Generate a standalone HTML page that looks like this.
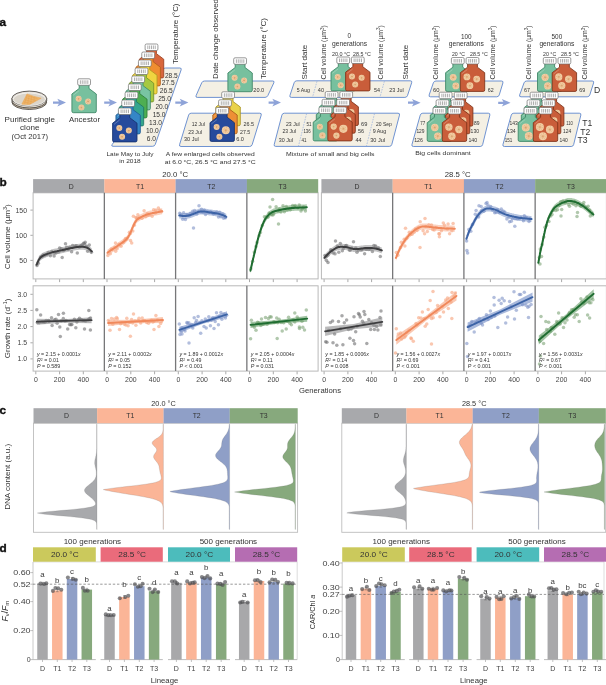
<!DOCTYPE html>
<html lang="en"><head><meta charset="utf-8"><title>Figure</title>
<style>
html,body{margin:0;padding:0;background:#fff;}
svg{display:block;font-family:"Liberation Sans", sans-serif;}
</style></head><body>
<svg width="606" height="685" viewBox="0 0 606 685">
<rect width="606" height="685" fill="#ffffff"/>
<text x="-0.40" y="25.85" font-size="11.8" text-anchor="start" fill="#111" font-weight="bold" stroke="#111" stroke-width="0.35">a</text>
<ellipse cx="29.3" cy="102.1" rx="17.4" ry="7.4" fill="#d2c1a9" stroke="#3f3b37" stroke-width="0.8"/>
<path d="M11.9,98.5 V100.6 A17.4,7.4 0 0 0 46.7,100.6 V98.5 Z" fill="#dad3c8" stroke="#3f3b37" stroke-width="0.8" stroke-linejoin="round"/>
<ellipse cx="29.3" cy="98.5" rx="17.4" ry="7.4" fill="#e4dfd7" stroke="#3f3b37" stroke-width="0.8"/>
<ellipse cx="29.3" cy="99.3" rx="16.2" ry="6.3" fill="#dbd5cb" stroke="#ffffff" stroke-width="0.6"/>
<path d="M27.0,93.9 L21.8,104.2 L29.5,104.6 L41.2,98.2 L33.5,96.2 Z" fill="#efae5a" fill-opacity="0.85" stroke="#eca650" stroke-width="0.5" stroke-linejoin="round"/>
<path d="M26.5,95.6 L37.5,98.6 M25.6,97.6 L36,100.6 M24.6,99.7 L33.6,102.3 M23.5,101.8 L31,103.6 M27.2,94.6 L24.5,103.8 M29.2,95.2 L27.6,104.2 M31.6,96 L30.8,103.6 M34.2,96.8 L34,102" stroke="#e5922f" stroke-width="0.35" fill="none" opacity="0.7"/>
<text x="29.80" y="121.63" font-size="7.3" text-anchor="middle" fill="#333333" textLength="50.5" lengthAdjust="spacingAndGlyphs" >Purified single</text>
<text x="29.80" y="130.43" font-size="7.3" text-anchor="middle" fill="#333333" textLength="19.5" lengthAdjust="spacingAndGlyphs" >clone</text>
<text x="29.80" y="139.03" font-size="7.3" text-anchor="middle" fill="#333333" textLength="36.5" lengthAdjust="spacingAndGlyphs" >(Oct 2017)</text>
<path d="M53.0,101.50 L58.9,101.50 L57.3,98.80 L66.0,102.60 L57.3,106.40 L58.9,103.70 L53.0,103.70 Z" fill="#8ea3d8"/>
<g transform="translate(84.10 79.00)">
<path d="M-4.9,5.5 L-4.9,9.5 L-12.2,15 L-12.2,32.2 Q-12.2,33.7 -10.7,33.7 L10.7,33.7 Q12.2,33.7 12.2,32.2 L12.2,15 L4.9,9.5 L4.9,5.5 Z" fill="#77c09e" stroke="#3b8463" stroke-width="0.85" stroke-linejoin="round"/>
<path d="M-10.8,16.2 L-5.2,11.8" stroke="#ffffff" stroke-opacity="0.35" stroke-width="0.7" fill="none"/>
</g>
<circle cx="78.60" cy="98.80" r="3" fill="#f2cda3"/>
<path d="M76.31,98.34 L80.89,99.26 M77.31,96.85 L79.89,100.75 M79.06,96.51 L78.14,101.09 M80.55,97.51 L76.65,100.09 " stroke="#d0925a" stroke-width="0.5" stroke-dasharray="0.9 0.35" fill="none"/>
<circle cx="78.60" cy="98.80" r="1.50" fill="none" stroke="#f2cda3" stroke-width="0.45"/>
<circle cx="88.10" cy="101.40" r="3" fill="#f2cda3"/>
<path d="M85.81,100.94 L90.39,101.86 M86.81,99.45 L89.39,103.35 M88.56,99.11 L87.64,103.69 M90.05,100.11 L86.15,102.69 " stroke="#d0925a" stroke-width="0.5" stroke-dasharray="0.9 0.35" fill="none"/>
<circle cx="88.10" cy="101.40" r="1.50" fill="none" stroke="#f2cda3" stroke-width="0.45"/>
<circle cx="81.40" cy="107.60" r="3" fill="#f2cda3"/>
<path d="M79.11,107.14 L83.69,108.06 M80.11,105.65 L82.69,109.55 M81.86,105.31 L80.94,109.89 M83.35,106.31 L79.45,108.89 " stroke="#d0925a" stroke-width="0.5" stroke-dasharray="0.9 0.35" fill="none"/>
<circle cx="81.40" cy="107.60" r="1.50" fill="none" stroke="#f2cda3" stroke-width="0.45"/>
<g transform="translate(84.10 79.00)">
<rect x="-6.4" y="-0.2" width="12.8" height="6.5" rx="1.4" fill="#ffffff" stroke="#6f6f6f" stroke-width="0.7"/>
<path d="M-3.7,1.3V4.9 M-1.85,1.3V4.9 M0,1.3V4.9 M1.85,1.3V4.9 M3.7,1.3V4.9" stroke="#808080" stroke-width="0.65" fill="none"/>
</g>
<text x="84.50" y="121.63" font-size="7.3" text-anchor="middle" fill="#333333" textLength="31.0" lengthAdjust="spacingAndGlyphs" >Ancestor</text>
<path d="M104.2,101.50 L109.9,101.50 L108.3,98.80 L117.0,102.60 L108.3,106.40 L109.9,103.70 L104.2,103.70 Z" fill="#8ea3d8"/>
<path d="M162.39,69.66 Q163.50,68.00 165.50,68.00 L179.80,68.00 Q181.80,68.00 181.14,69.89 L155.26,144.41 Q154.60,146.30 152.60,146.30 L113.00,146.30 Q111.00,146.30 112.11,144.64 Z" fill="#f4f0e4" stroke="#4b79c9" stroke-width="0.8"/>
<g transform="translate(151.52 44.20)">
<path d="M-4.9,5.5 L-4.9,9.5 L-12.2,15 L-12.2,32.2 Q-12.2,33.7 -10.7,33.7 L10.7,33.7 Q12.2,33.7 12.2,32.2 L12.2,15 L4.9,9.5 L4.9,5.5 Z" fill="#d8663c" stroke="#9a3f1f" stroke-width="0.85" stroke-linejoin="round"/>
<path d="M-10.8,16.2 L-5.2,11.8" stroke="#ffffff" stroke-opacity="0.35" stroke-width="0.7" fill="none"/>
</g>
<g transform="translate(151.52 44.20)">
<rect x="-6.4" y="-0.2" width="12.8" height="6.5" rx="1.4" fill="#ffffff" stroke="#6f6f6f" stroke-width="0.7"/>
<path d="M-3.7,1.3V4.9 M-1.85,1.3V4.9 M0,1.3V4.9 M1.85,1.3V4.9 M3.7,1.3V4.9" stroke="#808080" stroke-width="0.65" fill="none"/>
</g>
<g transform="translate(148.18 52.20)">
<path d="M-4.9,5.5 L-4.9,9.5 L-12.2,15 L-12.2,32.2 Q-12.2,33.7 -10.7,33.7 L10.7,33.7 Q12.2,33.7 12.2,32.2 L12.2,15 L4.9,9.5 L4.9,5.5 Z" fill="#ef8d30" stroke="#b3601a" stroke-width="0.85" stroke-linejoin="round"/>
<path d="M-10.8,16.2 L-5.2,11.8" stroke="#ffffff" stroke-opacity="0.35" stroke-width="0.7" fill="none"/>
</g>
<g transform="translate(148.18 52.20)">
<rect x="-6.4" y="-0.2" width="12.8" height="6.5" rx="1.4" fill="#ffffff" stroke="#6f6f6f" stroke-width="0.7"/>
<path d="M-3.7,1.3V4.9 M-1.85,1.3V4.9 M0,1.3V4.9 M1.85,1.3V4.9 M3.7,1.3V4.9" stroke="#808080" stroke-width="0.65" fill="none"/>
</g>
<g transform="translate(144.84 60.20)">
<path d="M-4.9,5.5 L-4.9,9.5 L-12.2,15 L-12.2,32.2 Q-12.2,33.7 -10.7,33.7 L10.7,33.7 Q12.2,33.7 12.2,32.2 L12.2,15 L4.9,9.5 L4.9,5.5 Z" fill="#efd540" stroke="#b39a22" stroke-width="0.85" stroke-linejoin="round"/>
<path d="M-10.8,16.2 L-5.2,11.8" stroke="#ffffff" stroke-opacity="0.35" stroke-width="0.7" fill="none"/>
</g>
<g transform="translate(144.84 60.20)">
<rect x="-6.4" y="-0.2" width="12.8" height="6.5" rx="1.4" fill="#ffffff" stroke="#6f6f6f" stroke-width="0.7"/>
<path d="M-3.7,1.3V4.9 M-1.85,1.3V4.9 M0,1.3V4.9 M1.85,1.3V4.9 M3.7,1.3V4.9" stroke="#808080" stroke-width="0.65" fill="none"/>
</g>
<g transform="translate(141.50 68.20)">
<path d="M-4.9,5.5 L-4.9,9.5 L-12.2,15 L-12.2,32.2 Q-12.2,33.7 -10.7,33.7 L10.7,33.7 Q12.2,33.7 12.2,32.2 L12.2,15 L4.9,9.5 L4.9,5.5 Z" fill="#a6c840" stroke="#71902a" stroke-width="0.85" stroke-linejoin="round"/>
<path d="M-10.8,16.2 L-5.2,11.8" stroke="#ffffff" stroke-opacity="0.35" stroke-width="0.7" fill="none"/>
</g>
<g transform="translate(141.50 68.20)">
<rect x="-6.4" y="-0.2" width="12.8" height="6.5" rx="1.4" fill="#ffffff" stroke="#6f6f6f" stroke-width="0.7"/>
<path d="M-3.7,1.3V4.9 M-1.85,1.3V4.9 M0,1.3V4.9 M1.85,1.3V4.9 M3.7,1.3V4.9" stroke="#808080" stroke-width="0.65" fill="none"/>
</g>
<g transform="translate(138.16 76.20)">
<path d="M-4.9,5.5 L-4.9,9.5 L-12.2,15 L-12.2,32.2 Q-12.2,33.7 -10.7,33.7 L10.7,33.7 Q12.2,33.7 12.2,32.2 L12.2,15 L4.9,9.5 L4.9,5.5 Z" fill="#79c4a2" stroke="#3f8b69" stroke-width="0.85" stroke-linejoin="round"/>
<path d="M-10.8,16.2 L-5.2,11.8" stroke="#ffffff" stroke-opacity="0.35" stroke-width="0.7" fill="none"/>
</g>
<g transform="translate(138.16 76.20)">
<rect x="-6.4" y="-0.2" width="12.8" height="6.5" rx="1.4" fill="#ffffff" stroke="#6f6f6f" stroke-width="0.7"/>
<path d="M-3.7,1.3V4.9 M-1.85,1.3V4.9 M0,1.3V4.9 M1.85,1.3V4.9 M3.7,1.3V4.9" stroke="#808080" stroke-width="0.65" fill="none"/>
</g>
<g transform="translate(134.82 84.20)">
<path d="M-4.9,5.5 L-4.9,9.5 L-12.2,15 L-12.2,32.2 Q-12.2,33.7 -10.7,33.7 L10.7,33.7 Q12.2,33.7 12.2,32.2 L12.2,15 L4.9,9.5 L4.9,5.5 Z" fill="#4eae52" stroke="#2f7d36" stroke-width="0.85" stroke-linejoin="round"/>
<path d="M-10.8,16.2 L-5.2,11.8" stroke="#ffffff" stroke-opacity="0.35" stroke-width="0.7" fill="none"/>
</g>
<g transform="translate(134.82 84.20)">
<rect x="-6.4" y="-0.2" width="12.8" height="6.5" rx="1.4" fill="#ffffff" stroke="#6f6f6f" stroke-width="0.7"/>
<path d="M-3.7,1.3V4.9 M-1.85,1.3V4.9 M0,1.3V4.9 M1.85,1.3V4.9 M3.7,1.3V4.9" stroke="#808080" stroke-width="0.65" fill="none"/>
</g>
<g transform="translate(131.48 92.20)">
<path d="M-4.9,5.5 L-4.9,9.5 L-12.2,15 L-12.2,32.2 Q-12.2,33.7 -10.7,33.7 L10.7,33.7 Q12.2,33.7 12.2,32.2 L12.2,15 L4.9,9.5 L4.9,5.5 Z" fill="#35a58e" stroke="#1f7663" stroke-width="0.85" stroke-linejoin="round"/>
<path d="M-10.8,16.2 L-5.2,11.8" stroke="#ffffff" stroke-opacity="0.35" stroke-width="0.7" fill="none"/>
</g>
<g transform="translate(131.48 92.20)">
<rect x="-6.4" y="-0.2" width="12.8" height="6.5" rx="1.4" fill="#ffffff" stroke="#6f6f6f" stroke-width="0.7"/>
<path d="M-3.7,1.3V4.9 M-1.85,1.3V4.9 M0,1.3V4.9 M1.85,1.3V4.9 M3.7,1.3V4.9" stroke="#808080" stroke-width="0.65" fill="none"/>
</g>
<g transform="translate(128.14 100.20)">
<path d="M-4.9,5.5 L-4.9,9.5 L-12.2,15 L-12.2,32.2 Q-12.2,33.7 -10.7,33.7 L10.7,33.7 Q12.2,33.7 12.2,32.2 L12.2,15 L4.9,9.5 L4.9,5.5 Z" fill="#3586c6" stroke="#1f5d94" stroke-width="0.85" stroke-linejoin="round"/>
<path d="M-10.8,16.2 L-5.2,11.8" stroke="#ffffff" stroke-opacity="0.35" stroke-width="0.7" fill="none"/>
</g>
<g transform="translate(128.14 100.20)">
<rect x="-6.4" y="-0.2" width="12.8" height="6.5" rx="1.4" fill="#ffffff" stroke="#6f6f6f" stroke-width="0.7"/>
<path d="M-3.7,1.3V4.9 M-1.85,1.3V4.9 M0,1.3V4.9 M1.85,1.3V4.9 M3.7,1.3V4.9" stroke="#808080" stroke-width="0.65" fill="none"/>
</g>
<g transform="translate(124.80 108.20)">
<path d="M-4.9,5.5 L-4.9,9.5 L-12.2,15 L-12.2,32.2 Q-12.2,33.7 -10.7,33.7 L10.7,33.7 Q12.2,33.7 12.2,32.2 L12.2,15 L4.9,9.5 L4.9,5.5 Z" fill="#264a9c" stroke="#15306e" stroke-width="0.85" stroke-linejoin="round"/>
<path d="M-10.8,16.2 L-5.2,11.8" stroke="#ffffff" stroke-opacity="0.35" stroke-width="0.7" fill="none"/>
</g>
<circle cx="119.30" cy="128.00" r="3" fill="#f2cda3"/>
<path d="M117.01,127.54 L121.59,128.46 M118.01,126.05 L120.59,129.95 M119.76,125.71 L118.84,130.29 M121.25,126.71 L117.35,129.29 " stroke="#d0925a" stroke-width="0.5" stroke-dasharray="0.9 0.35" fill="none"/>
<circle cx="119.30" cy="128.00" r="1.50" fill="none" stroke="#f2cda3" stroke-width="0.45"/>
<circle cx="128.80" cy="130.60" r="3" fill="#f2cda3"/>
<path d="M126.51,130.14 L131.09,131.06 M127.51,128.65 L130.09,132.55 M129.26,128.31 L128.34,132.89 M130.75,129.31 L126.85,131.89 " stroke="#d0925a" stroke-width="0.5" stroke-dasharray="0.9 0.35" fill="none"/>
<circle cx="128.80" cy="130.60" r="1.50" fill="none" stroke="#f2cda3" stroke-width="0.45"/>
<circle cx="122.10" cy="136.80" r="3" fill="#f2cda3"/>
<path d="M119.81,136.34 L124.39,137.26 M120.81,134.85 L123.39,138.75 M122.56,134.51 L121.64,139.09 M124.05,135.51 L120.15,138.09 " stroke="#d0925a" stroke-width="0.5" stroke-dasharray="0.9 0.35" fill="none"/>
<circle cx="122.10" cy="136.80" r="1.50" fill="none" stroke="#f2cda3" stroke-width="0.45"/>
<g transform="translate(124.80 108.20)">
<rect x="-6.4" y="-0.2" width="12.8" height="6.5" rx="1.4" fill="#ffffff" stroke="#6f6f6f" stroke-width="0.7"/>
<path d="M-3.7,1.3V4.9 M-1.85,1.3V4.9 M0,1.3V4.9 M1.85,1.3V4.9 M3.7,1.3V4.9" stroke="#808080" stroke-width="0.65" fill="none"/>
</g>
<text x="177.80" y="77.58" font-size="6.6" text-anchor="end" fill="#333333" >28.5</text>
<text x="174.60" y="85.48" font-size="6.6" text-anchor="end" fill="#333333" >27.5</text>
<text x="172.70" y="93.38" font-size="6.6" text-anchor="end" fill="#333333" >26.5</text>
<text x="171.00" y="101.38" font-size="6.6" text-anchor="end" fill="#333333" >25.0</text>
<text x="168.30" y="109.38" font-size="6.6" text-anchor="end" fill="#333333" >20.0</text>
<text x="165.50" y="117.28" font-size="6.6" text-anchor="end" fill="#333333" >15.0</text>
<text x="161.90" y="125.38" font-size="6.6" text-anchor="end" fill="#333333" >13.0</text>
<text x="158.80" y="133.08" font-size="6.6" text-anchor="end" fill="#333333" >10.0</text>
<text x="156.00" y="140.88" font-size="6.6" text-anchor="end" fill="#333333" >6.0</text>
<text font-size="7.3" text-anchor="start" fill="#333333" textLength="60.5" lengthAdjust="spacingAndGlyphs" transform="translate(178.10 64.00) rotate(-90)" >Temperature (°C)</text>
<text x="130.00" y="155.60" font-size="6.1" text-anchor="middle" fill="#333333" textLength="47.0" lengthAdjust="spacingAndGlyphs" >Late May to July</text>
<text x="130.00" y="163.40" font-size="6.1" text-anchor="middle" fill="#333333" textLength="21.5" lengthAdjust="spacingAndGlyphs" >in 2018</text>
<path d="M175.3,101.50 L181.3,101.50 L179.7,98.80 L188.4,102.60 L179.7,106.40 L181.3,103.70 L175.3,103.70 Z" fill="#8ea3d8"/>
<path d="M201.70,82.83 Q202.50,81.00 204.50,81.00 L272.70,81.00 Q274.70,81.00 273.85,82.81 L267.85,95.59 Q267.00,97.40 265.00,97.40 L197.30,97.40 Q195.30,97.40 196.10,95.57 Z" fill="#f4f0e4" stroke="#4b79c9" stroke-width="0.8"/>
<g transform="translate(240.10 58.00)">
<path d="M-4.9,5.5 L-4.9,9.5 L-12.2,15 L-12.2,32.2 Q-12.2,33.7 -10.7,33.7 L10.7,33.7 Q12.2,33.7 12.2,32.2 L12.2,15 L4.9,9.5 L4.9,5.5 Z" fill="#77c09e" stroke="#3b8463" stroke-width="0.85" stroke-linejoin="round"/>
<path d="M-10.8,16.2 L-5.2,11.8" stroke="#ffffff" stroke-opacity="0.35" stroke-width="0.7" fill="none"/>
</g>
<circle cx="234.60" cy="77.80" r="3" fill="#f2cda3"/>
<path d="M232.31,77.34 L236.89,78.26 M233.31,75.85 L235.89,79.75 M235.06,75.51 L234.14,80.09 M236.55,76.51 L232.65,79.09 " stroke="#d0925a" stroke-width="0.5" stroke-dasharray="0.9 0.35" fill="none"/>
<circle cx="234.60" cy="77.80" r="1.50" fill="none" stroke="#f2cda3" stroke-width="0.45"/>
<circle cx="244.10" cy="80.40" r="3" fill="#f2cda3"/>
<path d="M241.81,79.94 L246.39,80.86 M242.81,78.45 L245.39,82.35 M244.56,78.11 L243.64,82.69 M246.05,79.11 L242.15,81.69 " stroke="#d0925a" stroke-width="0.5" stroke-dasharray="0.9 0.35" fill="none"/>
<circle cx="244.10" cy="80.40" r="1.50" fill="none" stroke="#f2cda3" stroke-width="0.45"/>
<circle cx="237.40" cy="86.60" r="3" fill="#f2cda3"/>
<path d="M235.11,86.14 L239.69,87.06 M236.11,84.65 L238.69,88.55 M237.86,84.31 L236.94,88.89 M239.35,85.31 L235.45,87.89 " stroke="#d0925a" stroke-width="0.5" stroke-dasharray="0.9 0.35" fill="none"/>
<circle cx="237.40" cy="86.60" r="1.50" fill="none" stroke="#f2cda3" stroke-width="0.45"/>
<g transform="translate(240.10 58.00)">
<rect x="-6.4" y="-0.2" width="12.8" height="6.5" rx="1.4" fill="#ffffff" stroke="#6f6f6f" stroke-width="0.7"/>
<path d="M-3.7,1.3V4.9 M-1.85,1.3V4.9 M0,1.3V4.9 M1.85,1.3V4.9 M3.7,1.3V4.9" stroke="#808080" stroke-width="0.65" fill="none"/>
</g>
<text x="253.30" y="92.22" font-size="5.6" text-anchor="start" fill="#333333" >20.0</text>
<path d="M188.61,115.11 Q189.20,113.20 191.20,113.20 L259.80,113.20 Q261.80,113.20 261.21,115.11 L252.19,144.59 Q251.60,146.50 249.60,146.50 L181.00,146.50 Q179.00,146.50 179.59,144.59 Z" fill="#f4f0e4" stroke="#4b79c9" stroke-width="0.8"/>
<g transform="translate(228.10 92.00)">
<path d="M-4.9,5.5 L-4.9,9.5 L-12.2,15 L-12.2,32.2 Q-12.2,33.7 -10.7,33.7 L10.7,33.7 Q12.2,33.7 12.2,32.2 L12.2,15 L4.9,9.5 L4.9,5.5 Z" fill="#e9d24a" stroke="#a89222" stroke-width="0.85" stroke-linejoin="round"/>
<path d="M-10.8,16.2 L-5.2,11.8" stroke="#ffffff" stroke-opacity="0.35" stroke-width="0.7" fill="none"/>
</g>
<g transform="translate(228.10 92.00)">
<rect x="-6.4" y="-0.2" width="12.8" height="6.5" rx="1.4" fill="#ffffff" stroke="#6f6f6f" stroke-width="0.7"/>
<path d="M-3.7,1.3V4.9 M-1.85,1.3V4.9 M0,1.3V4.9 M1.85,1.3V4.9 M3.7,1.3V4.9" stroke="#808080" stroke-width="0.65" fill="none"/>
</g>
<g transform="translate(225.00 100.00)">
<path d="M-4.9,5.5 L-4.9,9.5 L-12.2,15 L-12.2,32.2 Q-12.2,33.7 -10.7,33.7 L10.7,33.7 Q12.2,33.7 12.2,32.2 L12.2,15 L4.9,9.5 L4.9,5.5 Z" fill="#ee8f35" stroke="#a85c1a" stroke-width="0.85" stroke-linejoin="round"/>
<path d="M-10.8,16.2 L-5.2,11.8" stroke="#ffffff" stroke-opacity="0.35" stroke-width="0.7" fill="none"/>
</g>
<g transform="translate(225.00 100.00)">
<rect x="-6.4" y="-0.2" width="12.8" height="6.5" rx="1.4" fill="#ffffff" stroke="#6f6f6f" stroke-width="0.7"/>
<path d="M-3.7,1.3V4.9 M-1.85,1.3V4.9 M0,1.3V4.9 M1.85,1.3V4.9 M3.7,1.3V4.9" stroke="#808080" stroke-width="0.65" fill="none"/>
</g>
<g transform="translate(222.20 107.70)">
<path d="M-4.9,5.5 L-4.9,9.5 L-12.2,15 L-12.2,32.2 Q-12.2,33.7 -10.7,33.7 L10.7,33.7 Q12.2,33.7 12.2,32.2 L12.2,15 L4.9,9.5 L4.9,5.5 Z" fill="#264a9c" stroke="#15306e" stroke-width="0.85" stroke-linejoin="round"/>
<path d="M-10.8,16.2 L-5.2,11.8" stroke="#ffffff" stroke-opacity="0.35" stroke-width="0.7" fill="none"/>
</g>
<circle cx="216.60" cy="126.90" r="3" fill="#f2cda3"/>
<path d="M214.31,126.44 L218.89,127.36 M215.31,124.95 L217.89,128.85 M217.06,124.61 L216.14,129.19 M218.55,125.61 L214.65,128.19 " stroke="#d0925a" stroke-width="0.5" stroke-dasharray="0.9 0.35" fill="none"/>
<circle cx="216.60" cy="126.90" r="1.50" fill="none" stroke="#f2cda3" stroke-width="0.45"/>
<circle cx="225.80" cy="130.30" r="4" fill="#f2cda3"/>
<path d="M222.74,129.68 L228.86,130.92 M224.08,127.70 L227.52,132.90 M226.42,127.24 L225.18,133.36 M228.40,128.58 L223.20,132.02 " stroke="#d0925a" stroke-width="0.5" stroke-dasharray="0.9 0.35" fill="none"/>
<circle cx="225.80" cy="130.30" r="2.00" fill="none" stroke="#f2cda3" stroke-width="0.45"/>
<circle cx="219.40" cy="136.70" r="3" fill="#f2cda3"/>
<path d="M217.11,136.24 L221.69,137.16 M218.11,134.75 L220.69,138.65 M219.86,134.41 L218.94,138.99 M221.35,135.41 L217.45,137.99 " stroke="#d0925a" stroke-width="0.5" stroke-dasharray="0.9 0.35" fill="none"/>
<circle cx="219.40" cy="136.70" r="1.50" fill="none" stroke="#f2cda3" stroke-width="0.45"/>
<g transform="translate(222.20 107.70)">
<rect x="-6.4" y="-0.2" width="12.8" height="6.5" rx="1.4" fill="#ffffff" stroke="#6f6f6f" stroke-width="0.7"/>
<path d="M-3.7,1.3V4.9 M-1.85,1.3V4.9 M0,1.3V4.9 M1.85,1.3V4.9 M3.7,1.3V4.9" stroke="#808080" stroke-width="0.65" fill="none"/>
</g>
<text x="198.35" y="125.94" font-size="5.4" text-anchor="middle" fill="#333333" textLength="13.3" lengthAdjust="spacingAndGlyphs" >12 Jul</text>
<text x="195.10" y="133.64" font-size="5.4" text-anchor="middle" fill="#333333" textLength="13.8" lengthAdjust="spacingAndGlyphs" >23 Jul</text>
<text x="191.40" y="141.44" font-size="5.4" text-anchor="middle" fill="#333333" textLength="14.8" lengthAdjust="spacingAndGlyphs" >30 Jul</text>
<text x="248.70" y="125.94" font-size="5.4" text-anchor="middle" fill="#333333" textLength="10.6" lengthAdjust="spacingAndGlyphs" >26.5</text>
<text x="245.10" y="133.64" font-size="5.4" text-anchor="middle" fill="#333333" textLength="10.2" lengthAdjust="spacingAndGlyphs" >27.5</text>
<text x="240.10" y="141.44" font-size="5.4" text-anchor="middle" fill="#333333" textLength="7.8" lengthAdjust="spacingAndGlyphs" >6.0</text>
<text font-size="7.3" text-anchor="start" fill="#333333" textLength="80.0" lengthAdjust="spacingAndGlyphs" transform="translate(218.20 79.00) rotate(-90)" >Date change observed</text>
<text font-size="7.3" text-anchor="start" fill="#333333" textLength="61.0" lengthAdjust="spacingAndGlyphs" transform="translate(266.30 79.00) rotate(-90)" >Temperature (°C)</text>
<text x="210.20" y="155.80" font-size="6.1" text-anchor="middle" fill="#333333" textLength="89.0" lengthAdjust="spacingAndGlyphs" >A few enlarged cells observed</text>
<text x="210.20" y="163.50" font-size="6.1" text-anchor="middle" fill="#333333" textLength="91.0" lengthAdjust="spacingAndGlyphs" >at 6.0 °C, 26.5 °C and 27.5 °C</text>
<path d="M268.6,101.50 L273.9,101.50 L272.3,98.80 L281.0,102.60 L272.3,106.40 L273.9,103.70 L268.6,103.70 Z" fill="#8ea3d8"/>
<path d="M294.17,82.70 Q294.80,80.80 296.80,80.80 L410.30,80.80 Q412.30,80.80 411.68,82.70 L407.52,95.50 Q406.90,97.40 404.90,97.40 L291.30,97.40 Q289.30,97.40 289.93,95.50 Z" fill="#f4f0e4" stroke="#4b79c9" stroke-width="0.8"/>
<line x1="317.0" y1="81.2" x2="312.6" y2="97.0" stroke="#86a3da" stroke-width="0.6" stroke-dasharray="1.6 1.1"/>
<line x1="384.4" y1="81.2" x2="380.0" y2="97.0" stroke="#86a3da" stroke-width="0.6" stroke-dasharray="1.6 1.1"/>
<g transform="translate(343.20 57.20)">
<path d="M-4.9,5.5 L-4.9,9.5 L-12.2,15 L-12.2,32.2 Q-12.2,33.7 -10.7,33.7 L10.7,33.7 Q12.2,33.7 12.2,32.2 L12.2,15 L4.9,9.5 L4.9,5.5 Z" fill="#77c09e" stroke="#3b8463" stroke-width="0.85" stroke-linejoin="round"/>
<path d="M-10.8,16.2 L-5.2,11.8" stroke="#ffffff" stroke-opacity="0.35" stroke-width="0.7" fill="none"/>
</g>
<circle cx="337.70" cy="77.00" r="3" fill="#f2cda3"/>
<path d="M335.41,76.54 L339.99,77.46 M336.41,75.05 L338.99,78.95 M338.16,74.71 L337.24,79.29 M339.65,75.71 L335.75,78.29 " stroke="#d0925a" stroke-width="0.5" stroke-dasharray="0.9 0.35" fill="none"/>
<circle cx="337.70" cy="77.00" r="1.50" fill="none" stroke="#f2cda3" stroke-width="0.45"/>
<circle cx="340.70" cy="85.20" r="3" fill="#f2cda3"/>
<path d="M338.41,84.74 L342.99,85.66 M339.41,83.25 L341.99,87.15 M341.16,82.91 L340.24,87.49 M342.65,83.91 L338.75,86.49 " stroke="#d0925a" stroke-width="0.5" stroke-dasharray="0.9 0.35" fill="none"/>
<circle cx="340.70" cy="85.20" r="1.50" fill="none" stroke="#f2cda3" stroke-width="0.45"/>
<g transform="translate(343.20 57.20)">
<rect x="-6.4" y="-0.2" width="12.8" height="6.5" rx="1.4" fill="#ffffff" stroke="#6f6f6f" stroke-width="0.7"/>
<path d="M-3.7,1.3V4.9 M-1.85,1.3V4.9 M0,1.3V4.9 M1.85,1.3V4.9 M3.7,1.3V4.9" stroke="#808080" stroke-width="0.65" fill="none"/>
</g>
<g transform="translate(357.80 57.20)">
<path d="M-4.9,5.5 L-4.9,9.5 L-12.2,15 L-12.2,32.2 Q-12.2,33.7 -10.7,33.7 L10.7,33.7 Q12.2,33.7 12.2,32.2 L12.2,15 L4.9,9.5 L4.9,5.5 Z" fill="#c95d3a" stroke="#7d3118" stroke-width="0.85" stroke-linejoin="round"/>
<path d="M-10.8,16.2 L-5.2,11.8" stroke="#ffffff" stroke-opacity="0.35" stroke-width="0.7" fill="none"/>
</g>
<circle cx="352.00" cy="76.60" r="3" fill="#f2cda3"/>
<path d="M349.71,76.14 L354.29,77.06 M350.71,74.65 L353.29,78.55 M352.46,74.31 L351.54,78.89 M353.95,75.31 L350.05,77.89 " stroke="#d0925a" stroke-width="0.5" stroke-dasharray="0.9 0.35" fill="none"/>
<circle cx="352.00" cy="76.60" r="1.50" fill="none" stroke="#f2cda3" stroke-width="0.45"/>
<circle cx="361.60" cy="77.80" r="3" fill="#f2cda3"/>
<path d="M359.31,77.34 L363.89,78.26 M360.31,75.85 L362.89,79.75 M362.06,75.51 L361.14,80.09 M363.55,76.51 L359.65,79.09 " stroke="#d0925a" stroke-width="0.5" stroke-dasharray="0.9 0.35" fill="none"/>
<circle cx="361.60" cy="77.80" r="1.50" fill="none" stroke="#f2cda3" stroke-width="0.45"/>
<circle cx="355.20" cy="84.60" r="3" fill="#f2cda3"/>
<path d="M352.91,84.14 L357.49,85.06 M353.91,82.65 L356.49,86.55 M355.66,82.31 L354.74,86.89 M357.15,83.31 L353.25,85.89 " stroke="#d0925a" stroke-width="0.5" stroke-dasharray="0.9 0.35" fill="none"/>
<circle cx="355.20" cy="84.60" r="1.50" fill="none" stroke="#f2cda3" stroke-width="0.45"/>
<g transform="translate(357.80 57.20)">
<rect x="-6.4" y="-0.2" width="12.8" height="6.5" rx="1.4" fill="#ffffff" stroke="#6f6f6f" stroke-width="0.7"/>
<path d="M-3.7,1.3V4.9 M-1.85,1.3V4.9 M0,1.3V4.9 M1.85,1.3V4.9 M3.7,1.3V4.9" stroke="#808080" stroke-width="0.65" fill="none"/>
</g>
<text x="349.30" y="38.30" font-size="6.4" text-anchor="middle" fill="#333333" >0</text>
<text x="349.50" y="46.30" font-size="6.4" text-anchor="middle" fill="#333333" textLength="35.0" lengthAdjust="spacingAndGlyphs" >generations</text>
<text x="341.10" y="55.87" font-size="5.2" text-anchor="middle" fill="#333333" textLength="18.2" lengthAdjust="spacingAndGlyphs" >20.0 °C</text>
<text x="361.90" y="55.87" font-size="5.2" text-anchor="middle" fill="#333333" textLength="17.8" lengthAdjust="spacingAndGlyphs" >28.5 °C</text>
<text x="303.35" y="92.14" font-size="5.4" text-anchor="middle" fill="#333333" textLength="13.3" lengthAdjust="spacingAndGlyphs" >5 Aug</text>
<text x="320.90" y="92.14" font-size="5.4" text-anchor="middle" fill="#333333" textLength="6.2" lengthAdjust="spacingAndGlyphs" >40</text>
<text x="377.00" y="92.14" font-size="5.4" text-anchor="middle" fill="#333333" textLength="6.0" lengthAdjust="spacingAndGlyphs" >54</text>
<text x="396.50" y="92.14" font-size="5.4" text-anchor="middle" fill="#333333" textLength="14.4" lengthAdjust="spacingAndGlyphs" >23 Jul</text>
<path d="M281.89,115.13 Q282.40,113.20 284.40,113.20 L398.00,113.20 Q400.00,113.20 399.49,115.13 L391.81,144.47 Q391.30,146.40 389.30,146.40 L275.70,146.40 Q273.70,146.40 274.21,144.47 Z" fill="#f4f0e4" stroke="#4b79c9" stroke-width="0.8"/>
<line x1="306.6" y1="113.6" x2="298.5" y2="146.0" stroke="#86a3da" stroke-width="0.6" stroke-dasharray="1.6 1.1"/>
<line x1="374.5" y1="113.6" x2="366.5" y2="146.0" stroke="#86a3da" stroke-width="0.6" stroke-dasharray="1.6 1.1"/>
<g transform="translate(331.60 91.80)">
<path d="M-4.9,5.5 L-4.9,9.5 L-12.2,15 L-12.2,32.2 Q-12.2,33.7 -10.7,33.7 L10.7,33.7 Q12.2,33.7 12.2,32.2 L12.2,15 L4.9,9.5 L4.9,5.5 Z" fill="#77c09e" stroke="#3b8463" stroke-width="0.85" stroke-linejoin="round"/>
<path d="M-10.8,16.2 L-5.2,11.8" stroke="#ffffff" stroke-opacity="0.35" stroke-width="0.7" fill="none"/>
</g>
<g transform="translate(331.60 91.80)">
<rect x="-6.4" y="-0.2" width="12.8" height="6.5" rx="1.4" fill="#ffffff" stroke="#6f6f6f" stroke-width="0.7"/>
<path d="M-3.7,1.3V4.9 M-1.85,1.3V4.9 M0,1.3V4.9 M1.85,1.3V4.9 M3.7,1.3V4.9" stroke="#808080" stroke-width="0.65" fill="none"/>
</g>
<g transform="translate(346.20 91.80)">
<path d="M-4.9,5.5 L-4.9,9.5 L-12.2,15 L-12.2,32.2 Q-12.2,33.7 -10.7,33.7 L10.7,33.7 Q12.2,33.7 12.2,32.2 L12.2,15 L4.9,9.5 L4.9,5.5 Z" fill="#c95d3a" stroke="#7d3118" stroke-width="0.85" stroke-linejoin="round"/>
<path d="M-10.8,16.2 L-5.2,11.8" stroke="#ffffff" stroke-opacity="0.35" stroke-width="0.7" fill="none"/>
</g>
<circle cx="351.20" cy="112.30" r="3.2" fill="#f2cda3"/>
<path d="M348.75,111.80 L353.65,112.80 M349.82,110.22 L352.58,114.38 M351.70,109.85 L350.70,114.75 M353.28,110.92 L349.12,113.68 " stroke="#d0925a" stroke-width="0.5" stroke-dasharray="0.9 0.35" fill="none"/>
<circle cx="351.20" cy="112.30" r="1.60" fill="none" stroke="#f2cda3" stroke-width="0.45"/>
<g transform="translate(346.20 91.80)">
<rect x="-6.4" y="-0.2" width="12.8" height="6.5" rx="1.4" fill="#ffffff" stroke="#6f6f6f" stroke-width="0.7"/>
<path d="M-3.7,1.3V4.9 M-1.85,1.3V4.9 M0,1.3V4.9 M1.85,1.3V4.9 M3.7,1.3V4.9" stroke="#808080" stroke-width="0.65" fill="none"/>
</g>
<g transform="translate(328.50 99.50)">
<path d="M-4.9,5.5 L-4.9,9.5 L-12.2,15 L-12.2,32.2 Q-12.2,33.7 -10.7,33.7 L10.7,33.7 Q12.2,33.7 12.2,32.2 L12.2,15 L4.9,9.5 L4.9,5.5 Z" fill="#77c09e" stroke="#3b8463" stroke-width="0.85" stroke-linejoin="round"/>
<path d="M-10.8,16.2 L-5.2,11.8" stroke="#ffffff" stroke-opacity="0.35" stroke-width="0.7" fill="none"/>
</g>
<g transform="translate(328.50 99.50)">
<rect x="-6.4" y="-0.2" width="12.8" height="6.5" rx="1.4" fill="#ffffff" stroke="#6f6f6f" stroke-width="0.7"/>
<path d="M-3.7,1.3V4.9 M-1.85,1.3V4.9 M0,1.3V4.9 M1.85,1.3V4.9 M3.7,1.3V4.9" stroke="#808080" stroke-width="0.65" fill="none"/>
</g>
<g transform="translate(343.10 99.50)">
<path d="M-4.9,5.5 L-4.9,9.5 L-12.2,15 L-12.2,32.2 Q-12.2,33.7 -10.7,33.7 L10.7,33.7 Q12.2,33.7 12.2,32.2 L12.2,15 L4.9,9.5 L4.9,5.5 Z" fill="#c95d3a" stroke="#7d3118" stroke-width="0.85" stroke-linejoin="round"/>
<path d="M-10.8,16.2 L-5.2,11.8" stroke="#ffffff" stroke-opacity="0.35" stroke-width="0.7" fill="none"/>
</g>
<circle cx="348.10" cy="120.00" r="3.2" fill="#f2cda3"/>
<path d="M345.65,119.50 L350.55,120.50 M346.72,117.92 L349.48,122.08 M348.60,117.55 L347.60,122.45 M350.18,118.62 L346.02,121.38 " stroke="#d0925a" stroke-width="0.5" stroke-dasharray="0.9 0.35" fill="none"/>
<circle cx="348.10" cy="120.00" r="1.60" fill="none" stroke="#f2cda3" stroke-width="0.45"/>
<g transform="translate(343.10 99.50)">
<rect x="-6.4" y="-0.2" width="12.8" height="6.5" rx="1.4" fill="#ffffff" stroke="#6f6f6f" stroke-width="0.7"/>
<path d="M-3.7,1.3V4.9 M-1.85,1.3V4.9 M0,1.3V4.9 M1.85,1.3V4.9 M3.7,1.3V4.9" stroke="#808080" stroke-width="0.65" fill="none"/>
</g>
<g transform="translate(325.40 107.20)">
<path d="M-4.9,5.5 L-4.9,9.5 L-12.2,15 L-12.2,32.2 Q-12.2,33.7 -10.7,33.7 L10.7,33.7 Q12.2,33.7 12.2,32.2 L12.2,15 L4.9,9.5 L4.9,5.5 Z" fill="#77c09e" stroke="#3b8463" stroke-width="0.85" stroke-linejoin="round"/>
<path d="M-10.8,16.2 L-5.2,11.8" stroke="#ffffff" stroke-opacity="0.35" stroke-width="0.7" fill="none"/>
</g>
<circle cx="319.90" cy="126.80" r="3" fill="#f2cda3"/>
<path d="M317.61,126.34 L322.19,127.26 M318.61,124.85 L321.19,128.75 M320.36,124.51 L319.44,129.09 M321.85,125.51 L317.95,128.09 " stroke="#d0925a" stroke-width="0.5" stroke-dasharray="0.9 0.35" fill="none"/>
<circle cx="319.90" cy="126.80" r="1.50" fill="none" stroke="#f2cda3" stroke-width="0.45"/>
<circle cx="322.40" cy="135.40" r="3.2" fill="#f2cda3"/>
<path d="M319.95,134.90 L324.85,135.90 M321.02,133.32 L323.78,137.48 M322.90,132.95 L321.90,137.85 M324.48,134.02 L320.32,136.78 " stroke="#d0925a" stroke-width="0.5" stroke-dasharray="0.9 0.35" fill="none"/>
<circle cx="322.40" cy="135.40" r="1.60" fill="none" stroke="#f2cda3" stroke-width="0.45"/>
<g transform="translate(325.40 107.20)">
<rect x="-6.4" y="-0.2" width="12.8" height="6.5" rx="1.4" fill="#ffffff" stroke="#6f6f6f" stroke-width="0.7"/>
<path d="M-3.7,1.3V4.9 M-1.85,1.3V4.9 M0,1.3V4.9 M1.85,1.3V4.9 M3.7,1.3V4.9" stroke="#808080" stroke-width="0.65" fill="none"/>
</g>
<g transform="translate(340.00 107.20)">
<path d="M-4.9,5.5 L-4.9,9.5 L-12.2,15 L-12.2,32.2 Q-12.2,33.7 -10.7,33.7 L10.7,33.7 Q12.2,33.7 12.2,32.2 L12.2,15 L4.9,9.5 L4.9,5.5 Z" fill="#c95d3a" stroke="#7d3118" stroke-width="0.85" stroke-linejoin="round"/>
<path d="M-10.8,16.2 L-5.2,11.8" stroke="#ffffff" stroke-opacity="0.35" stroke-width="0.7" fill="none"/>
</g>
<circle cx="333.70" cy="126.60" r="3.1" fill="#f2cda3"/>
<path d="M331.33,126.12 L336.07,127.08 M332.36,124.58 L335.04,128.62 M334.18,124.23 L333.22,128.97 M335.72,125.26 L331.68,127.94 " stroke="#d0925a" stroke-width="0.5" stroke-dasharray="0.9 0.35" fill="none"/>
<circle cx="333.70" cy="126.60" r="1.55" fill="none" stroke="#f2cda3" stroke-width="0.45"/>
<circle cx="343.40" cy="128.80" r="4.1" fill="#f2cda3"/>
<path d="M340.27,128.16 L346.53,129.44 M341.63,126.13 L345.17,131.47 M344.04,125.67 L342.76,131.93 M346.07,127.03 L340.73,130.57 " stroke="#d0925a" stroke-width="0.5" stroke-dasharray="0.9 0.35" fill="none"/>
<circle cx="343.40" cy="128.80" r="2.05" fill="none" stroke="#f2cda3" stroke-width="0.45"/>
<circle cx="336.40" cy="135.60" r="3.1" fill="#f2cda3"/>
<path d="M334.03,135.12 L338.77,136.08 M335.06,133.58 L337.74,137.62 M336.88,133.23 L335.92,137.97 M338.42,134.26 L334.38,136.94 " stroke="#d0925a" stroke-width="0.5" stroke-dasharray="0.9 0.35" fill="none"/>
<circle cx="336.40" cy="135.60" r="1.55" fill="none" stroke="#f2cda3" stroke-width="0.45"/>
<g transform="translate(340.00 107.20)">
<rect x="-6.4" y="-0.2" width="12.8" height="6.5" rx="1.4" fill="#ffffff" stroke="#6f6f6f" stroke-width="0.7"/>
<path d="M-3.7,1.3V4.9 M-1.85,1.3V4.9 M0,1.3V4.9 M1.85,1.3V4.9 M3.7,1.3V4.9" stroke="#808080" stroke-width="0.65" fill="none"/>
</g>
<text x="292.85" y="125.54" font-size="5.4" text-anchor="middle" fill="#333333" textLength="13.7" lengthAdjust="spacingAndGlyphs" >23 Jul</text>
<text x="309.10" y="125.54" font-size="5.4" text-anchor="middle" fill="#333333" textLength="5.0" lengthAdjust="spacingAndGlyphs" >51</text>
<text x="364.15" y="125.54" font-size="5.4" text-anchor="middle" fill="#333333" textLength="6.3" lengthAdjust="spacingAndGlyphs" >69</text>
<text x="383.90" y="125.54" font-size="5.4" text-anchor="middle" fill="#333333" textLength="15.8" lengthAdjust="spacingAndGlyphs" >20 Sep</text>
<text x="289.20" y="133.44" font-size="5.4" text-anchor="middle" fill="#333333" textLength="13.6" lengthAdjust="spacingAndGlyphs" >23 Jul</text>
<text x="307.10" y="133.44" font-size="5.4" text-anchor="middle" fill="#333333" textLength="7.4" lengthAdjust="spacingAndGlyphs" >136</text>
<text x="360.95" y="133.44" font-size="5.4" text-anchor="middle" fill="#333333" textLength="6.1" lengthAdjust="spacingAndGlyphs" >56</text>
<text x="379.50" y="133.44" font-size="5.4" text-anchor="middle" fill="#333333" textLength="13.6" lengthAdjust="spacingAndGlyphs" >9 Aug</text>
<text x="285.85" y="141.54" font-size="5.4" text-anchor="middle" fill="#333333" textLength="14.3" lengthAdjust="spacingAndGlyphs" >30 Jul</text>
<text x="303.90" y="141.54" font-size="5.4" text-anchor="middle" fill="#333333" textLength="5.0" lengthAdjust="spacingAndGlyphs" >41</text>
<text x="358.50" y="141.54" font-size="5.4" text-anchor="middle" fill="#333333" textLength="6.2" lengthAdjust="spacingAndGlyphs" >44</text>
<text x="377.60" y="141.54" font-size="5.4" text-anchor="middle" fill="#333333" textLength="14.8" lengthAdjust="spacingAndGlyphs" >30 Jul</text>
<text x="330.30" y="155.60" font-size="6.1" text-anchor="middle" fill="#333333" textLength="88.5" lengthAdjust="spacingAndGlyphs" >Mixture of small and big cells</text>
<text font-size="7.3" text-anchor="start" fill="#333333" textLength="34.5" lengthAdjust="spacingAndGlyphs" transform="translate(307.20 79.40) rotate(-90)" >Start date</text>
<text font-size="6.9" text-anchor="start" fill="#333333" textLength="54.2" lengthAdjust="spacingAndGlyphs" transform="translate(326.40 79.40) rotate(-90)" >Cell volume (µm<tspan font-size="4.6" dy="-2.7">3</tspan><tspan dy="2.7">)</tspan></text>
<text font-size="6.9" text-anchor="start" fill="#333333" textLength="54.2" lengthAdjust="spacingAndGlyphs" transform="translate(383.00 79.40) rotate(-90)" >Cell volume (µm<tspan font-size="4.6" dy="-2.7">3</tspan><tspan dy="2.7">)</tspan></text>
<text font-size="7.3" text-anchor="start" fill="#333333" textLength="34.5" lengthAdjust="spacingAndGlyphs" transform="translate(408.10 79.40) rotate(-90)" >Start date</text>
<path d="M408.0,101.60 L413.5,101.60 L411.9,98.90 L420.6,102.70 L411.9,106.50 L413.5,103.80 L408.0,103.80 Z" fill="#8ea3d8"/>
<path d="M433.34,82.89 Q434.00,81.00 436.00,81.00 L501.50,81.00 Q503.50,81.00 502.92,82.91 L499.28,94.89 Q498.70,96.80 496.70,96.80 L430.50,96.80 Q428.50,96.80 429.16,94.91 Z" fill="#f4f0e4" stroke="#4b79c9" stroke-width="0.8"/>
<g transform="translate(457.80 57.70)">
<path d="M-4.9,5.5 L-4.9,9.5 L-12.2,15 L-12.2,32.2 Q-12.2,33.7 -10.7,33.7 L10.7,33.7 Q12.2,33.7 12.2,32.2 L12.2,15 L4.9,9.5 L4.9,5.5 Z" fill="#77c09e" stroke="#3b8463" stroke-width="0.85" stroke-linejoin="round"/>
<path d="M-10.8,16.2 L-5.2,11.8" stroke="#ffffff" stroke-opacity="0.35" stroke-width="0.7" fill="none"/>
</g>
<circle cx="453.20" cy="77.30" r="3.4" fill="#f2cda3"/>
<path d="M450.60,76.77 L455.80,77.83 M451.73,75.09 L454.67,79.51 M453.73,74.70 L452.67,79.90 M455.41,75.83 L450.99,78.77 " stroke="#d0925a" stroke-width="0.5" stroke-dasharray="0.9 0.35" fill="none"/>
<circle cx="453.20" cy="77.30" r="1.70" fill="none" stroke="#f2cda3" stroke-width="0.45"/>
<circle cx="455.80" cy="85.90" r="3.4" fill="#f2cda3"/>
<path d="M453.20,85.37 L458.40,86.43 M454.33,83.69 L457.27,88.11 M456.33,83.30 L455.27,88.50 M458.01,84.43 L453.59,87.37 " stroke="#d0925a" stroke-width="0.5" stroke-dasharray="0.9 0.35" fill="none"/>
<circle cx="455.80" cy="85.90" r="1.70" fill="none" stroke="#f2cda3" stroke-width="0.45"/>
<g transform="translate(457.80 57.70)">
<rect x="-6.4" y="-0.2" width="12.8" height="6.5" rx="1.4" fill="#ffffff" stroke="#6f6f6f" stroke-width="0.7"/>
<path d="M-3.7,1.3V4.9 M-1.85,1.3V4.9 M0,1.3V4.9 M1.85,1.3V4.9 M3.7,1.3V4.9" stroke="#808080" stroke-width="0.65" fill="none"/>
</g>
<g transform="translate(472.50 57.70)">
<path d="M-4.9,5.5 L-4.9,9.5 L-12.2,15 L-12.2,32.2 Q-12.2,33.7 -10.7,33.7 L10.7,33.7 Q12.2,33.7 12.2,32.2 L12.2,15 L4.9,9.5 L4.9,5.5 Z" fill="#c95d3a" stroke="#7d3118" stroke-width="0.85" stroke-linejoin="round"/>
<path d="M-10.8,16.2 L-5.2,11.8" stroke="#ffffff" stroke-opacity="0.35" stroke-width="0.7" fill="none"/>
</g>
<circle cx="466.90" cy="76.90" r="3.4" fill="#f2cda3"/>
<path d="M464.30,76.37 L469.50,77.43 M465.43,74.69 L468.37,79.11 M467.43,74.30 L466.37,79.50 M469.11,75.43 L464.69,78.37 " stroke="#d0925a" stroke-width="0.5" stroke-dasharray="0.9 0.35" fill="none"/>
<circle cx="466.90" cy="76.90" r="1.70" fill="none" stroke="#f2cda3" stroke-width="0.45"/>
<circle cx="476.70" cy="79.10" r="3.4" fill="#f2cda3"/>
<path d="M474.10,78.57 L479.30,79.63 M475.23,76.89 L478.17,81.31 M477.23,76.50 L476.17,81.70 M478.91,77.63 L474.49,80.57 " stroke="#d0925a" stroke-width="0.5" stroke-dasharray="0.9 0.35" fill="none"/>
<circle cx="476.70" cy="79.10" r="1.70" fill="none" stroke="#f2cda3" stroke-width="0.45"/>
<circle cx="469.90" cy="85.70" r="3.4" fill="#f2cda3"/>
<path d="M467.30,85.17 L472.50,86.23 M468.43,83.49 L471.37,87.91 M470.43,83.10 L469.37,88.30 M472.11,84.23 L467.69,87.17 " stroke="#d0925a" stroke-width="0.5" stroke-dasharray="0.9 0.35" fill="none"/>
<circle cx="469.90" cy="85.70" r="1.70" fill="none" stroke="#f2cda3" stroke-width="0.45"/>
<g transform="translate(472.50 57.70)">
<rect x="-6.4" y="-0.2" width="12.8" height="6.5" rx="1.4" fill="#ffffff" stroke="#6f6f6f" stroke-width="0.7"/>
<path d="M-3.7,1.3V4.9 M-1.85,1.3V4.9 M0,1.3V4.9 M1.85,1.3V4.9 M3.7,1.3V4.9" stroke="#808080" stroke-width="0.65" fill="none"/>
</g>
<text x="466.30" y="38.70" font-size="6.4" text-anchor="middle" fill="#333333" >100</text>
<text x="466.30" y="46.00" font-size="6.4" text-anchor="middle" fill="#333333" textLength="35.0" lengthAdjust="spacingAndGlyphs" >generations</text>
<text x="458.50" y="55.87" font-size="5.2" text-anchor="middle" fill="#333333" textLength="13.0" lengthAdjust="spacingAndGlyphs" >20 °C</text>
<text x="478.85" y="55.87" font-size="5.2" text-anchor="middle" fill="#333333" textLength="17.7" lengthAdjust="spacingAndGlyphs" >28.5 °C</text>
<text x="436.25" y="92.14" font-size="5.4" text-anchor="middle" fill="#333333" textLength="6.5" lengthAdjust="spacingAndGlyphs" >60</text>
<text x="490.65" y="92.14" font-size="5.4" text-anchor="middle" fill="#333333" textLength="5.9" lengthAdjust="spacingAndGlyphs" >62</text>
<path d="M420.26,115.12 Q420.80,113.20 422.80,113.20 L488.30,113.20 Q490.30,113.20 489.83,115.14 L482.67,144.56 Q482.20,146.50 480.20,146.50 L413.40,146.50 Q411.40,146.50 411.94,144.58 Z" fill="#f4f0e4" stroke="#4b79c9" stroke-width="0.8"/>
<g transform="translate(445.60 92.40)">
<path d="M-4.9,5.5 L-4.9,9.5 L-12.2,15 L-12.2,32.2 Q-12.2,33.7 -10.7,33.7 L10.7,33.7 Q12.2,33.7 12.2,32.2 L12.2,15 L4.9,9.5 L4.9,5.5 Z" fill="#77c09e" stroke="#3b8463" stroke-width="0.85" stroke-linejoin="round"/>
<path d="M-10.8,16.2 L-5.2,11.8" stroke="#ffffff" stroke-opacity="0.35" stroke-width="0.7" fill="none"/>
</g>
<g transform="translate(445.60 92.40)">
<rect x="-6.4" y="-0.2" width="12.8" height="6.5" rx="1.4" fill="#ffffff" stroke="#6f6f6f" stroke-width="0.7"/>
<path d="M-3.7,1.3V4.9 M-1.85,1.3V4.9 M0,1.3V4.9 M1.85,1.3V4.9 M3.7,1.3V4.9" stroke="#808080" stroke-width="0.65" fill="none"/>
</g>
<g transform="translate(460.70 92.40)">
<path d="M-4.9,5.5 L-4.9,9.5 L-12.2,15 L-12.2,32.2 Q-12.2,33.7 -10.7,33.7 L10.7,33.7 Q12.2,33.7 12.2,32.2 L12.2,15 L4.9,9.5 L4.9,5.5 Z" fill="#c95d3a" stroke="#7d3118" stroke-width="0.85" stroke-linejoin="round"/>
<path d="M-10.8,16.2 L-5.2,11.8" stroke="#ffffff" stroke-opacity="0.35" stroke-width="0.7" fill="none"/>
</g>
<circle cx="466.20" cy="112.90" r="3.2" fill="#f2cda3"/>
<path d="M463.75,112.40 L468.65,113.40 M464.82,110.82 L467.58,114.98 M466.70,110.45 L465.70,115.35 M468.28,111.52 L464.12,114.28 " stroke="#d0925a" stroke-width="0.5" stroke-dasharray="0.9 0.35" fill="none"/>
<circle cx="466.20" cy="112.90" r="1.60" fill="none" stroke="#f2cda3" stroke-width="0.45"/>
<g transform="translate(460.70 92.40)">
<rect x="-6.4" y="-0.2" width="12.8" height="6.5" rx="1.4" fill="#ffffff" stroke="#6f6f6f" stroke-width="0.7"/>
<path d="M-3.7,1.3V4.9 M-1.85,1.3V4.9 M0,1.3V4.9 M1.85,1.3V4.9 M3.7,1.3V4.9" stroke="#808080" stroke-width="0.65" fill="none"/>
</g>
<g transform="translate(442.50 100.05)">
<path d="M-4.9,5.5 L-4.9,9.5 L-12.2,15 L-12.2,32.2 Q-12.2,33.7 -10.7,33.7 L10.7,33.7 Q12.2,33.7 12.2,32.2 L12.2,15 L4.9,9.5 L4.9,5.5 Z" fill="#77c09e" stroke="#3b8463" stroke-width="0.85" stroke-linejoin="round"/>
<path d="M-10.8,16.2 L-5.2,11.8" stroke="#ffffff" stroke-opacity="0.35" stroke-width="0.7" fill="none"/>
</g>
<g transform="translate(442.50 100.05)">
<rect x="-6.4" y="-0.2" width="12.8" height="6.5" rx="1.4" fill="#ffffff" stroke="#6f6f6f" stroke-width="0.7"/>
<path d="M-3.7,1.3V4.9 M-1.85,1.3V4.9 M0,1.3V4.9 M1.85,1.3V4.9 M3.7,1.3V4.9" stroke="#808080" stroke-width="0.65" fill="none"/>
</g>
<g transform="translate(457.60 100.05)">
<path d="M-4.9,5.5 L-4.9,9.5 L-12.2,15 L-12.2,32.2 Q-12.2,33.7 -10.7,33.7 L10.7,33.7 Q12.2,33.7 12.2,32.2 L12.2,15 L4.9,9.5 L4.9,5.5 Z" fill="#c95d3a" stroke="#7d3118" stroke-width="0.85" stroke-linejoin="round"/>
<path d="M-10.8,16.2 L-5.2,11.8" stroke="#ffffff" stroke-opacity="0.35" stroke-width="0.7" fill="none"/>
</g>
<circle cx="463.10" cy="120.55" r="3.2" fill="#f2cda3"/>
<path d="M460.65,120.05 L465.55,121.05 M461.72,118.47 L464.48,122.63 M463.60,118.10 L462.60,123.00 M465.18,119.17 L461.02,121.93 " stroke="#d0925a" stroke-width="0.5" stroke-dasharray="0.9 0.35" fill="none"/>
<circle cx="463.10" cy="120.55" r="1.60" fill="none" stroke="#f2cda3" stroke-width="0.45"/>
<g transform="translate(457.60 100.05)">
<rect x="-6.4" y="-0.2" width="12.8" height="6.5" rx="1.4" fill="#ffffff" stroke="#6f6f6f" stroke-width="0.7"/>
<path d="M-3.7,1.3V4.9 M-1.85,1.3V4.9 M0,1.3V4.9 M1.85,1.3V4.9 M3.7,1.3V4.9" stroke="#808080" stroke-width="0.65" fill="none"/>
</g>
<g transform="translate(439.40 107.70)">
<path d="M-4.9,5.5 L-4.9,9.5 L-12.2,15 L-12.2,32.2 Q-12.2,33.7 -10.7,33.7 L10.7,33.7 Q12.2,33.7 12.2,32.2 L12.2,15 L4.9,9.5 L4.9,5.5 Z" fill="#77c09e" stroke="#3b8463" stroke-width="0.85" stroke-linejoin="round"/>
<path d="M-10.8,16.2 L-5.2,11.8" stroke="#ffffff" stroke-opacity="0.35" stroke-width="0.7" fill="none"/>
</g>
<circle cx="434.80" cy="127.50" r="3.7" fill="#f2cda3"/>
<path d="M431.97,126.93 L437.63,128.07 M433.21,125.09 L436.39,129.91 M435.37,124.67 L434.23,130.33 M437.21,125.91 L432.39,129.09 " stroke="#d0925a" stroke-width="0.5" stroke-dasharray="0.9 0.35" fill="none"/>
<circle cx="434.80" cy="127.50" r="1.85" fill="none" stroke="#f2cda3" stroke-width="0.45"/>
<circle cx="437.80" cy="136.10" r="3.7" fill="#f2cda3"/>
<path d="M434.97,135.53 L440.63,136.67 M436.21,133.69 L439.39,138.51 M438.37,133.27 L437.23,138.93 M440.21,134.51 L435.39,137.69 " stroke="#d0925a" stroke-width="0.5" stroke-dasharray="0.9 0.35" fill="none"/>
<circle cx="437.80" cy="136.10" r="1.85" fill="none" stroke="#f2cda3" stroke-width="0.45"/>
<g transform="translate(439.40 107.70)">
<rect x="-6.4" y="-0.2" width="12.8" height="6.5" rx="1.4" fill="#ffffff" stroke="#6f6f6f" stroke-width="0.7"/>
<path d="M-3.7,1.3V4.9 M-1.85,1.3V4.9 M0,1.3V4.9 M1.85,1.3V4.9 M3.7,1.3V4.9" stroke="#808080" stroke-width="0.65" fill="none"/>
</g>
<g transform="translate(454.50 107.70)">
<path d="M-4.9,5.5 L-4.9,9.5 L-12.2,15 L-12.2,32.2 Q-12.2,33.7 -10.7,33.7 L10.7,33.7 Q12.2,33.7 12.2,32.2 L12.2,15 L4.9,9.5 L4.9,5.5 Z" fill="#c95d3a" stroke="#7d3118" stroke-width="0.85" stroke-linejoin="round"/>
<path d="M-10.8,16.2 L-5.2,11.8" stroke="#ffffff" stroke-opacity="0.35" stroke-width="0.7" fill="none"/>
</g>
<circle cx="448.90" cy="127.10" r="3.7" fill="#f2cda3"/>
<path d="M446.07,126.53 L451.73,127.67 M447.31,124.69 L450.49,129.51 M449.47,124.27 L448.33,129.93 M451.31,125.51 L446.49,128.69 " stroke="#d0925a" stroke-width="0.5" stroke-dasharray="0.9 0.35" fill="none"/>
<circle cx="448.90" cy="127.10" r="1.85" fill="none" stroke="#f2cda3" stroke-width="0.45"/>
<circle cx="458.90" cy="129.50" r="3.7" fill="#f2cda3"/>
<path d="M456.07,128.93 L461.73,130.07 M457.31,127.09 L460.49,131.91 M459.47,126.67 L458.33,132.33 M461.31,127.91 L456.49,131.09 " stroke="#d0925a" stroke-width="0.5" stroke-dasharray="0.9 0.35" fill="none"/>
<circle cx="458.90" cy="129.50" r="1.85" fill="none" stroke="#f2cda3" stroke-width="0.45"/>
<circle cx="451.90" cy="136.30" r="3.7" fill="#f2cda3"/>
<path d="M449.07,135.73 L454.73,136.87 M450.31,133.89 L453.49,138.71 M452.47,133.47 L451.33,139.13 M454.31,134.71 L449.49,137.89 " stroke="#d0925a" stroke-width="0.5" stroke-dasharray="0.9 0.35" fill="none"/>
<circle cx="451.90" cy="136.30" r="1.85" fill="none" stroke="#f2cda3" stroke-width="0.45"/>
<g transform="translate(454.50 107.70)">
<rect x="-6.4" y="-0.2" width="12.8" height="6.5" rx="1.4" fill="#ffffff" stroke="#6f6f6f" stroke-width="0.7"/>
<path d="M-3.7,1.3V4.9 M-1.85,1.3V4.9 M0,1.3V4.9 M1.85,1.3V4.9 M3.7,1.3V4.9" stroke="#808080" stroke-width="0.65" fill="none"/>
</g>
<text x="422.70" y="125.14" font-size="5.4" text-anchor="middle" fill="#333333" textLength="5.0" lengthAdjust="spacingAndGlyphs" >77</text>
<text x="420.45" y="133.44" font-size="5.4" text-anchor="middle" fill="#333333" textLength="8.1" lengthAdjust="spacingAndGlyphs" >129</text>
<text x="418.60" y="141.54" font-size="5.4" text-anchor="middle" fill="#333333" textLength="8.8" lengthAdjust="spacingAndGlyphs" >126</text>
<text x="476.65" y="125.14" font-size="5.4" text-anchor="middle" fill="#333333" textLength="5.5" lengthAdjust="spacingAndGlyphs" >89</text>
<text x="474.80" y="133.44" font-size="5.4" text-anchor="middle" fill="#333333" textLength="8.4" lengthAdjust="spacingAndGlyphs" >130</text>
<text x="472.80" y="141.54" font-size="5.4" text-anchor="middle" fill="#333333" textLength="8.8" lengthAdjust="spacingAndGlyphs" >140</text>
<text x="443.00" y="155.40" font-size="6.1" text-anchor="middle" fill="#333333" textLength="55.5" lengthAdjust="spacingAndGlyphs" >Big cells dominant</text>
<text font-size="6.9" text-anchor="start" fill="#333333" textLength="54.2" lengthAdjust="spacingAndGlyphs" transform="translate(438.40 79.60) rotate(-90)" >Cell volume (µm<tspan font-size="4.6" dy="-2.7">3</tspan><tspan dy="2.7">)</tspan></text>
<text font-size="6.9" text-anchor="start" fill="#333333" textLength="54.2" lengthAdjust="spacingAndGlyphs" transform="translate(495.00 79.60) rotate(-90)" >Cell volume (µm<tspan font-size="4.6" dy="-2.7">3</tspan><tspan dy="2.7">)</tspan></text>
<path d="M524.02,82.88 Q524.70,81.00 526.70,81.00 L592.20,81.00 Q594.20,81.00 593.60,82.91 L589.80,94.89 Q589.20,96.80 587.20,96.80 L521.00,96.80 Q519.00,96.80 519.68,94.92 Z" fill="#f4f0e4" stroke="#4b79c9" stroke-width="0.8"/>
<g transform="translate(549.70 57.70)">
<path d="M-4.9,5.5 L-4.9,9.5 L-12.2,15 L-12.2,32.2 Q-12.2,33.7 -10.7,33.7 L10.7,33.7 Q12.2,33.7 12.2,32.2 L12.2,15 L4.9,9.5 L4.9,5.5 Z" fill="#77c09e" stroke="#3b8463" stroke-width="0.85" stroke-linejoin="round"/>
<path d="M-10.8,16.2 L-5.2,11.8" stroke="#ffffff" stroke-opacity="0.35" stroke-width="0.7" fill="none"/>
</g>
<circle cx="545.10" cy="77.30" r="3.6" fill="#f2cda3"/>
<path d="M542.35,76.74 L547.85,77.86 M543.55,74.96 L546.65,79.64 M545.66,74.55 L544.54,80.05 M547.44,75.75 L542.76,78.85 " stroke="#d0925a" stroke-width="0.5" stroke-dasharray="0.9 0.35" fill="none"/>
<circle cx="545.10" cy="77.30" r="1.80" fill="none" stroke="#f2cda3" stroke-width="0.45"/>
<circle cx="547.70" cy="85.90" r="3.6" fill="#f2cda3"/>
<path d="M544.95,85.34 L550.45,86.46 M546.15,83.56 L549.25,88.24 M548.26,83.15 L547.14,88.65 M550.04,84.35 L545.36,87.45 " stroke="#d0925a" stroke-width="0.5" stroke-dasharray="0.9 0.35" fill="none"/>
<circle cx="547.70" cy="85.90" r="1.80" fill="none" stroke="#f2cda3" stroke-width="0.45"/>
<g transform="translate(549.70 57.70)">
<rect x="-6.4" y="-0.2" width="12.8" height="6.5" rx="1.4" fill="#ffffff" stroke="#6f6f6f" stroke-width="0.7"/>
<path d="M-3.7,1.3V4.9 M-1.85,1.3V4.9 M0,1.3V4.9 M1.85,1.3V4.9 M3.7,1.3V4.9" stroke="#808080" stroke-width="0.65" fill="none"/>
</g>
<g transform="translate(564.40 57.70)">
<path d="M-4.9,5.5 L-4.9,9.5 L-12.2,15 L-12.2,32.2 Q-12.2,33.7 -10.7,33.7 L10.7,33.7 Q12.2,33.7 12.2,32.2 L12.2,15 L4.9,9.5 L4.9,5.5 Z" fill="#c95d3a" stroke="#7d3118" stroke-width="0.85" stroke-linejoin="round"/>
<path d="M-10.8,16.2 L-5.2,11.8" stroke="#ffffff" stroke-opacity="0.35" stroke-width="0.7" fill="none"/>
</g>
<circle cx="558.80" cy="76.90" r="3.6" fill="#f2cda3"/>
<path d="M556.05,76.34 L561.55,77.46 M557.25,74.56 L560.35,79.24 M559.36,74.15 L558.24,79.65 M561.14,75.35 L556.46,78.45 " stroke="#d0925a" stroke-width="0.5" stroke-dasharray="0.9 0.35" fill="none"/>
<circle cx="558.80" cy="76.90" r="1.80" fill="none" stroke="#f2cda3" stroke-width="0.45"/>
<circle cx="568.60" cy="79.10" r="3.6" fill="#f2cda3"/>
<path d="M565.85,78.54 L571.35,79.66 M567.05,76.76 L570.15,81.44 M569.16,76.35 L568.04,81.85 M570.94,77.55 L566.26,80.65 " stroke="#d0925a" stroke-width="0.5" stroke-dasharray="0.9 0.35" fill="none"/>
<circle cx="568.60" cy="79.10" r="1.80" fill="none" stroke="#f2cda3" stroke-width="0.45"/>
<circle cx="561.80" cy="85.70" r="3.6" fill="#f2cda3"/>
<path d="M559.05,85.14 L564.55,86.26 M560.25,83.36 L563.35,88.04 M562.36,82.95 L561.24,88.45 M564.14,84.15 L559.46,87.25 " stroke="#d0925a" stroke-width="0.5" stroke-dasharray="0.9 0.35" fill="none"/>
<circle cx="561.80" cy="85.70" r="1.80" fill="none" stroke="#f2cda3" stroke-width="0.45"/>
<g transform="translate(564.40 57.70)">
<rect x="-6.4" y="-0.2" width="12.8" height="6.5" rx="1.4" fill="#ffffff" stroke="#6f6f6f" stroke-width="0.7"/>
<path d="M-3.7,1.3V4.9 M-1.85,1.3V4.9 M0,1.3V4.9 M1.85,1.3V4.9 M3.7,1.3V4.9" stroke="#808080" stroke-width="0.65" fill="none"/>
</g>
<text x="556.90" y="38.70" font-size="6.4" text-anchor="middle" fill="#333333" >500</text>
<text x="556.90" y="46.00" font-size="6.4" text-anchor="middle" fill="#333333" textLength="35.0" lengthAdjust="spacingAndGlyphs" >generations</text>
<text x="549.65" y="55.87" font-size="5.2" text-anchor="middle" fill="#333333" textLength="13.3" lengthAdjust="spacingAndGlyphs" >20 °C</text>
<text x="569.95" y="55.87" font-size="5.2" text-anchor="middle" fill="#333333" textLength="17.9" lengthAdjust="spacingAndGlyphs" >28.5 °C</text>
<text x="527.00" y="92.14" font-size="5.4" text-anchor="middle" fill="#333333" textLength="6.0" lengthAdjust="spacingAndGlyphs" >67</text>
<text x="582.25" y="92.14" font-size="5.4" text-anchor="middle" fill="#333333" textLength="5.9" lengthAdjust="spacingAndGlyphs" >69</text>
<path d="M511.26,115.12 Q511.80,113.20 513.80,113.20 L579.30,113.20 Q581.30,113.20 580.83,115.14 L573.67,144.56 Q573.20,146.50 571.20,146.50 L504.40,146.50 Q502.40,146.50 502.94,144.58 Z" fill="#f4f0e4" stroke="#4b79c9" stroke-width="0.8"/>
<g transform="translate(536.60 92.40)">
<path d="M-4.9,5.5 L-4.9,9.5 L-12.2,15 L-12.2,32.2 Q-12.2,33.7 -10.7,33.7 L10.7,33.7 Q12.2,33.7 12.2,32.2 L12.2,15 L4.9,9.5 L4.9,5.5 Z" fill="#77c09e" stroke="#3b8463" stroke-width="0.85" stroke-linejoin="round"/>
<path d="M-10.8,16.2 L-5.2,11.8" stroke="#ffffff" stroke-opacity="0.35" stroke-width="0.7" fill="none"/>
</g>
<g transform="translate(536.60 92.40)">
<rect x="-6.4" y="-0.2" width="12.8" height="6.5" rx="1.4" fill="#ffffff" stroke="#6f6f6f" stroke-width="0.7"/>
<path d="M-3.7,1.3V4.9 M-1.85,1.3V4.9 M0,1.3V4.9 M1.85,1.3V4.9 M3.7,1.3V4.9" stroke="#808080" stroke-width="0.65" fill="none"/>
</g>
<g transform="translate(551.70 92.40)">
<path d="M-4.9,5.5 L-4.9,9.5 L-12.2,15 L-12.2,32.2 Q-12.2,33.7 -10.7,33.7 L10.7,33.7 Q12.2,33.7 12.2,32.2 L12.2,15 L4.9,9.5 L4.9,5.5 Z" fill="#c95d3a" stroke="#7d3118" stroke-width="0.85" stroke-linejoin="round"/>
<path d="M-10.8,16.2 L-5.2,11.8" stroke="#ffffff" stroke-opacity="0.35" stroke-width="0.7" fill="none"/>
</g>
<circle cx="557.20" cy="112.90" r="3.2" fill="#f2cda3"/>
<path d="M554.75,112.40 L559.65,113.40 M555.82,110.82 L558.58,114.98 M557.70,110.45 L556.70,115.35 M559.28,111.52 L555.12,114.28 " stroke="#d0925a" stroke-width="0.5" stroke-dasharray="0.9 0.35" fill="none"/>
<circle cx="557.20" cy="112.90" r="1.60" fill="none" stroke="#f2cda3" stroke-width="0.45"/>
<g transform="translate(551.70 92.40)">
<rect x="-6.4" y="-0.2" width="12.8" height="6.5" rx="1.4" fill="#ffffff" stroke="#6f6f6f" stroke-width="0.7"/>
<path d="M-3.7,1.3V4.9 M-1.85,1.3V4.9 M0,1.3V4.9 M1.85,1.3V4.9 M3.7,1.3V4.9" stroke="#808080" stroke-width="0.65" fill="none"/>
</g>
<g transform="translate(533.50 100.05)">
<path d="M-4.9,5.5 L-4.9,9.5 L-12.2,15 L-12.2,32.2 Q-12.2,33.7 -10.7,33.7 L10.7,33.7 Q12.2,33.7 12.2,32.2 L12.2,15 L4.9,9.5 L4.9,5.5 Z" fill="#77c09e" stroke="#3b8463" stroke-width="0.85" stroke-linejoin="round"/>
<path d="M-10.8,16.2 L-5.2,11.8" stroke="#ffffff" stroke-opacity="0.35" stroke-width="0.7" fill="none"/>
</g>
<g transform="translate(533.50 100.05)">
<rect x="-6.4" y="-0.2" width="12.8" height="6.5" rx="1.4" fill="#ffffff" stroke="#6f6f6f" stroke-width="0.7"/>
<path d="M-3.7,1.3V4.9 M-1.85,1.3V4.9 M0,1.3V4.9 M1.85,1.3V4.9 M3.7,1.3V4.9" stroke="#808080" stroke-width="0.65" fill="none"/>
</g>
<g transform="translate(548.60 100.05)">
<path d="M-4.9,5.5 L-4.9,9.5 L-12.2,15 L-12.2,32.2 Q-12.2,33.7 -10.7,33.7 L10.7,33.7 Q12.2,33.7 12.2,32.2 L12.2,15 L4.9,9.5 L4.9,5.5 Z" fill="#c95d3a" stroke="#7d3118" stroke-width="0.85" stroke-linejoin="round"/>
<path d="M-10.8,16.2 L-5.2,11.8" stroke="#ffffff" stroke-opacity="0.35" stroke-width="0.7" fill="none"/>
</g>
<circle cx="554.10" cy="120.55" r="3.2" fill="#f2cda3"/>
<path d="M551.65,120.05 L556.55,121.05 M552.72,118.47 L555.48,122.63 M554.60,118.10 L553.60,123.00 M556.18,119.17 L552.02,121.93 " stroke="#d0925a" stroke-width="0.5" stroke-dasharray="0.9 0.35" fill="none"/>
<circle cx="554.10" cy="120.55" r="1.60" fill="none" stroke="#f2cda3" stroke-width="0.45"/>
<g transform="translate(548.60 100.05)">
<rect x="-6.4" y="-0.2" width="12.8" height="6.5" rx="1.4" fill="#ffffff" stroke="#6f6f6f" stroke-width="0.7"/>
<path d="M-3.7,1.3V4.9 M-1.85,1.3V4.9 M0,1.3V4.9 M1.85,1.3V4.9 M3.7,1.3V4.9" stroke="#808080" stroke-width="0.65" fill="none"/>
</g>
<g transform="translate(530.40 107.70)">
<path d="M-4.9,5.5 L-4.9,9.5 L-12.2,15 L-12.2,32.2 Q-12.2,33.7 -10.7,33.7 L10.7,33.7 Q12.2,33.7 12.2,32.2 L12.2,15 L4.9,9.5 L4.9,5.5 Z" fill="#77c09e" stroke="#3b8463" stroke-width="0.85" stroke-linejoin="round"/>
<path d="M-10.8,16.2 L-5.2,11.8" stroke="#ffffff" stroke-opacity="0.35" stroke-width="0.7" fill="none"/>
</g>
<circle cx="525.80" cy="127.50" r="4.0" fill="#f2cda3"/>
<path d="M522.74,126.88 L528.86,128.12 M524.08,124.90 L527.52,130.10 M526.42,124.44 L525.18,130.56 M528.40,125.78 L523.20,129.22 " stroke="#d0925a" stroke-width="0.5" stroke-dasharray="0.9 0.35" fill="none"/>
<circle cx="525.80" cy="127.50" r="2.00" fill="none" stroke="#f2cda3" stroke-width="0.45"/>
<circle cx="528.80" cy="136.10" r="4.0" fill="#f2cda3"/>
<path d="M525.74,135.48 L531.86,136.72 M527.08,133.50 L530.52,138.70 M529.42,133.04 L528.18,139.16 M531.40,134.38 L526.20,137.82 " stroke="#d0925a" stroke-width="0.5" stroke-dasharray="0.9 0.35" fill="none"/>
<circle cx="528.80" cy="136.10" r="2.00" fill="none" stroke="#f2cda3" stroke-width="0.45"/>
<g transform="translate(530.40 107.70)">
<rect x="-6.4" y="-0.2" width="12.8" height="6.5" rx="1.4" fill="#ffffff" stroke="#6f6f6f" stroke-width="0.7"/>
<path d="M-3.7,1.3V4.9 M-1.85,1.3V4.9 M0,1.3V4.9 M1.85,1.3V4.9 M3.7,1.3V4.9" stroke="#808080" stroke-width="0.65" fill="none"/>
</g>
<g transform="translate(545.50 107.70)">
<path d="M-4.9,5.5 L-4.9,9.5 L-12.2,15 L-12.2,32.2 Q-12.2,33.7 -10.7,33.7 L10.7,33.7 Q12.2,33.7 12.2,32.2 L12.2,15 L4.9,9.5 L4.9,5.5 Z" fill="#c95d3a" stroke="#7d3118" stroke-width="0.85" stroke-linejoin="round"/>
<path d="M-10.8,16.2 L-5.2,11.8" stroke="#ffffff" stroke-opacity="0.35" stroke-width="0.7" fill="none"/>
</g>
<circle cx="539.90" cy="127.10" r="4.0" fill="#f2cda3"/>
<path d="M536.84,126.48 L542.96,127.72 M538.18,124.50 L541.62,129.70 M540.52,124.04 L539.28,130.16 M542.50,125.38 L537.30,128.82 " stroke="#d0925a" stroke-width="0.5" stroke-dasharray="0.9 0.35" fill="none"/>
<circle cx="539.90" cy="127.10" r="2.00" fill="none" stroke="#f2cda3" stroke-width="0.45"/>
<circle cx="549.90" cy="129.50" r="4.0" fill="#f2cda3"/>
<path d="M546.84,128.88 L552.96,130.12 M548.18,126.90 L551.62,132.10 M550.52,126.44 L549.28,132.56 M552.50,127.78 L547.30,131.22 " stroke="#d0925a" stroke-width="0.5" stroke-dasharray="0.9 0.35" fill="none"/>
<circle cx="549.90" cy="129.50" r="2.00" fill="none" stroke="#f2cda3" stroke-width="0.45"/>
<circle cx="542.90" cy="136.30" r="4.0" fill="#f2cda3"/>
<path d="M539.84,135.68 L545.96,136.92 M541.18,133.70 L544.62,138.90 M543.52,133.24 L542.28,139.36 M545.50,134.58 L540.30,138.02 " stroke="#d0925a" stroke-width="0.5" stroke-dasharray="0.9 0.35" fill="none"/>
<circle cx="542.90" cy="136.30" r="2.00" fill="none" stroke="#f2cda3" stroke-width="0.45"/>
<g transform="translate(545.50 107.70)">
<rect x="-6.4" y="-0.2" width="12.8" height="6.5" rx="1.4" fill="#ffffff" stroke="#6f6f6f" stroke-width="0.7"/>
<path d="M-3.7,1.3V4.9 M-1.85,1.3V4.9 M0,1.3V4.9 M1.85,1.3V4.9 M3.7,1.3V4.9" stroke="#808080" stroke-width="0.65" fill="none"/>
</g>
<text x="513.75" y="125.14" font-size="5.4" text-anchor="middle" fill="#333333" textLength="8.3" lengthAdjust="spacingAndGlyphs" >143</text>
<text x="511.35" y="133.44" font-size="5.4" text-anchor="middle" fill="#333333" textLength="8.7" lengthAdjust="spacingAndGlyphs" >134</text>
<text x="508.60" y="141.54" font-size="5.4" text-anchor="middle" fill="#333333" textLength="7.6" lengthAdjust="spacingAndGlyphs" >151</text>
<text x="569.55" y="125.14" font-size="5.4" text-anchor="middle" fill="#333333" textLength="6.7" lengthAdjust="spacingAndGlyphs" >110</text>
<text x="567.05" y="133.44" font-size="5.4" text-anchor="middle" fill="#333333" textLength="8.3" lengthAdjust="spacingAndGlyphs" >124</text>
<text x="563.75" y="141.54" font-size="5.4" text-anchor="middle" fill="#333333" textLength="8.3" lengthAdjust="spacingAndGlyphs" >140</text>
<text x="594.00" y="92.90" font-size="8.6" text-anchor="start" fill="#333333" >D</text>
<text x="582.20" y="126.30" font-size="8.6" text-anchor="start" fill="#333333" >T1</text>
<text x="580.20" y="134.90" font-size="8.6" text-anchor="start" fill="#333333" >T2</text>
<text x="577.50" y="143.10" font-size="8.6" text-anchor="start" fill="#333333" >T3</text>
<text font-size="6.9" text-anchor="start" fill="#333333" textLength="54.2" lengthAdjust="spacingAndGlyphs" transform="translate(530.60 79.60) rotate(-90)" >Cell volume (µm<tspan font-size="4.6" dy="-2.7">3</tspan><tspan dy="2.7">)</tspan></text>
<text font-size="6.9" text-anchor="start" fill="#333333" textLength="54.2" lengthAdjust="spacingAndGlyphs" transform="translate(587.20 79.60) rotate(-90)" >Cell volume (µm<tspan font-size="4.6" dy="-2.7">3</tspan><tspan dy="2.7">)</tspan></text>
<path d="M498.2,101.70 L503.4,101.70 L501.8,99.00 L510.5,102.80 L501.8,106.60 L503.4,103.90 L498.2,103.90 Z" fill="#8ea3d8"/>
<text x="-0.40" y="185.55" font-size="11.8" text-anchor="start" fill="#111" font-weight="bold" stroke="#111" stroke-width="0.35">b</text>
<text x="175.20" y="176.85" font-size="6.8" text-anchor="middle" fill="#333333" textLength="26.0" lengthAdjust="spacingAndGlyphs" >20.0 °C</text>
<text x="457.70" y="176.85" font-size="6.8" text-anchor="middle" fill="#333333" textLength="26.0" lengthAdjust="spacingAndGlyphs" >28.5 °C</text>
<rect x="33.10" y="192.8" width="285.00" height="86.10" fill="#fff" stroke="#b9b9b9" stroke-width="1"/>
<rect x="33.10" y="285.8" width="285.00" height="85.30" fill="#fff" stroke="#b9b9b9" stroke-width="1"/>
<rect x="33.10" y="179.1" width="71.35" height="13.70" fill="#a8a9ac"/>
<text x="71.32" y="188.78" font-size="6.9" text-anchor="middle" fill="#333" >D</text>
<g fill="#6e6e70" fill-opacity="0.6"><circle cx="37.0" cy="265.5" r="1.75"/><circle cx="38.3" cy="263.3" r="1.75"/><circle cx="40.5" cy="257.0" r="1.75"/><circle cx="42.1" cy="256.8" r="1.75"/><circle cx="43.1" cy="254.9" r="1.75"/><circle cx="44.8" cy="255.2" r="1.75"/><circle cx="46.9" cy="254.6" r="1.75"/><circle cx="48.3" cy="252.6" r="1.75"/><circle cx="50.4" cy="255.7" r="1.75"/><circle cx="51.7" cy="251.6" r="1.75"/><circle cx="54.1" cy="256.1" r="1.75"/><circle cx="54.8" cy="253.0" r="1.75"/><circle cx="56.3" cy="252.8" r="1.75"/><circle cx="58.8" cy="252.1" r="1.75"/><circle cx="59.6" cy="247.9" r="1.75"/><circle cx="61.4" cy="248.7" r="1.75"/><circle cx="63.3" cy="250.5" r="1.75"/><circle cx="64.5" cy="249.8" r="1.75"/><circle cx="66.7" cy="247.3" r="1.75"/><circle cx="68.2" cy="249.6" r="1.75"/><circle cx="69.7" cy="247.2" r="1.75"/><circle cx="71.6" cy="251.7" r="1.75"/><circle cx="72.6" cy="245.4" r="1.75"/><circle cx="75.1" cy="246.1" r="1.75"/><circle cx="76.5" cy="245.7" r="1.75"/><circle cx="77.3" cy="253.0" r="1.75"/><circle cx="79.4" cy="246.9" r="1.75"/><circle cx="81.1" cy="245.5" r="1.75"/><circle cx="82.1" cy="244.9" r="1.75"/><circle cx="84.4" cy="243.7" r="1.75"/><circle cx="86.4" cy="246.2" r="1.75"/><circle cx="87.7" cy="251.2" r="1.75"/><circle cx="89.3" cy="245.0" r="1.75"/><circle cx="91.4" cy="252.2" r="1.75"/><circle cx="62.2" cy="257.6" r="1.75"/><circle cx="85.2" cy="242.3" r="1.75"/><circle cx="83.5" cy="243.2" r="1.75"/><circle cx="65.5" cy="243.8" r="1.75"/></g>
<path d="M36.6,261.6 L36.7,261.4 L36.8,261.0 L37.0,260.7 L37.2,260.3 L37.4,259.8 L37.6,259.3 L37.8,258.9 L38.0,258.4 L38.2,257.9 L38.5,257.4 L38.7,257.0 L39.0,256.6 L39.3,256.2 L39.5,255.9 L39.7,255.6 L40.0,255.2 L40.2,254.9 L40.5,254.6 L40.8,254.3 L41.1,254.0 L41.5,253.7 L41.9,253.4 L42.3,253.1 L42.8,252.8 L43.3,252.5 L43.9,252.2 L44.5,252.0 L45.2,251.7 L45.9,251.4 L46.6,251.1 L47.4,250.9 L48.2,250.6 L49.0,250.4 L49.8,250.1 L50.6,249.9 L51.5,249.6 L52.4,249.3 L53.3,249.1 L54.3,248.8 L55.3,248.6 L56.4,248.4 L57.4,248.1 L58.5,247.9 L59.6,247.6 L60.6,247.4 L61.7,247.2 L62.8,246.9 L63.8,246.7 L64.8,246.5 L65.9,246.2 L67.0,246.0 L68.1,245.8 L69.2,245.5 L70.2,245.3 L71.3,245.1 L72.3,244.9 L73.3,244.7 L74.3,244.5 L75.2,244.3 L76.0,244.2 L76.8,244.1 L77.5,244.0 L78.2,243.9 L78.8,243.8 L79.4,243.8 L80.0,243.8 L80.5,243.7 L81.0,243.7 L81.5,243.7 L82.0,243.7 L82.5,243.8 L83.0,243.8 L83.5,243.8 L84.0,243.9 L84.4,244.0 L84.9,244.1 L85.3,244.2 L85.7,244.3 L86.1,244.4 L86.5,244.5 L86.9,244.7 L87.3,244.8 L87.6,245.0 L88.0,245.2 L88.4,245.4 L88.7,245.7 L89.1,245.9 L89.5,246.3 L89.9,246.6 L90.2,246.9 L90.5,247.2 L90.9,247.5 L91.1,247.8 L91.4,248.0 L91.6,248.2 L91.8,248.4 L91.8,254.4 L91.6,254.2 L91.4,254.0 L91.1,253.8 L90.9,253.5 L90.5,253.2 L90.2,252.9 L89.9,252.6 L89.5,252.3 L89.1,251.9 L88.7,251.7 L88.4,251.4 L88.0,251.2 L87.6,251.0 L87.3,250.8 L86.9,250.7 L86.5,250.5 L86.1,250.4 L85.7,250.3 L85.3,250.2 L84.9,250.1 L84.4,250.0 L84.0,249.9 L83.5,249.8 L83.0,249.8 L82.5,249.8 L82.0,249.7 L81.5,249.7 L81.0,249.7 L80.5,249.7 L80.0,249.8 L79.4,249.8 L78.8,249.8 L78.2,249.9 L77.5,250.0 L76.8,250.1 L76.0,250.2 L75.2,250.3 L74.3,250.5 L73.3,250.7 L72.3,250.9 L71.3,251.1 L70.2,251.3 L69.2,251.5 L68.1,251.8 L67.0,252.0 L65.9,252.2 L64.8,252.5 L63.8,252.7 L62.8,252.9 L61.7,253.2 L60.6,253.4 L59.6,253.6 L58.5,253.9 L57.4,254.1 L56.4,254.4 L55.3,254.6 L54.3,254.8 L53.3,255.1 L52.4,255.3 L51.5,255.6 L50.6,255.9 L49.8,256.1 L49.0,256.4 L48.2,256.6 L47.4,256.9 L46.6,257.1 L45.9,257.4 L45.2,257.7 L44.5,258.0 L43.9,258.2 L43.3,258.5 L42.8,258.8 L42.3,259.1 L41.9,259.4 L41.5,259.7 L41.1,260.0 L40.8,260.3 L40.5,260.6 L40.2,260.9 L40.0,261.2 L39.7,261.6 L39.5,261.9 L39.3,262.2 L39.0,262.6 L38.7,263.0 L38.5,263.4 L38.2,263.9 L38.0,264.4 L37.8,264.9 L37.6,265.3 L37.4,265.8 L37.2,266.3 L37.0,266.7 L36.8,267.0 L36.7,267.4 L36.6,267.6Z" fill="#8a8a8c" fill-opacity="0.5"/>
<path d="M36.6,264.6 L36.7,264.4 L36.8,264.0 L37.0,263.7 L37.2,263.3 L37.4,262.8 L37.6,262.3 L37.8,261.9 L38.0,261.4 L38.2,260.9 L38.5,260.4 L38.7,260.0 L39.0,259.6 L39.3,259.2 L39.5,258.9 L39.7,258.6 L40.0,258.2 L40.2,257.9 L40.5,257.6 L40.8,257.3 L41.1,257.0 L41.5,256.7 L41.9,256.4 L42.3,256.1 L42.8,255.8 L43.3,255.5 L43.9,255.2 L44.5,255.0 L45.2,254.7 L45.9,254.4 L46.6,254.1 L47.4,253.9 L48.2,253.6 L49.0,253.4 L49.8,253.1 L50.6,252.9 L51.5,252.6 L52.4,252.3 L53.3,252.1 L54.3,251.8 L55.3,251.6 L56.4,251.4 L57.4,251.1 L58.5,250.9 L59.6,250.6 L60.6,250.4 L61.7,250.2 L62.8,249.9 L63.8,249.7 L64.8,249.5 L65.9,249.2 L67.0,249.0 L68.1,248.8 L69.2,248.5 L70.2,248.3 L71.3,248.1 L72.3,247.9 L73.3,247.7 L74.3,247.5 L75.2,247.3 L76.0,247.2 L76.8,247.1 L77.5,247.0 L78.2,246.9 L78.8,246.8 L79.4,246.8 L80.0,246.8 L80.5,246.7 L81.0,246.7 L81.5,246.7 L82.0,246.7 L82.5,246.8 L83.0,246.8 L83.5,246.8 L84.0,246.9 L84.4,247.0 L84.9,247.1 L85.3,247.2 L85.7,247.3 L86.1,247.4 L86.5,247.5 L86.9,247.7 L87.3,247.8 L87.6,248.0 L88.0,248.2 L88.4,248.4 L88.7,248.7 L89.1,248.9 L89.5,249.3 L89.9,249.6 L90.2,249.9 L90.5,250.2 L90.9,250.5 L91.1,250.8 L91.4,251.0 L91.6,251.2 L91.8,251.4" fill="none" stroke="#3d3d3f" stroke-width="2.0" stroke-linecap="round" stroke-linejoin="round"/>
<g fill="#6e6e70" fill-opacity="0.6"><circle cx="37.3" cy="322.4" r="1.75"/><circle cx="39.1" cy="322.7" r="1.75"/><circle cx="40.6" cy="315.0" r="1.75"/><circle cx="41.7" cy="321.9" r="1.75"/><circle cx="43.3" cy="321.9" r="1.75"/><circle cx="44.9" cy="322.2" r="1.75"/><circle cx="46.1" cy="320.6" r="1.75"/><circle cx="48.4" cy="320.6" r="1.75"/><circle cx="49.1" cy="321.3" r="1.75"/><circle cx="51.5" cy="317.8" r="1.75"/><circle cx="52.1" cy="325.6" r="1.75"/><circle cx="54.6" cy="319.8" r="1.75"/><circle cx="56.0" cy="319.3" r="1.75"/><circle cx="57.1" cy="323.3" r="1.75"/><circle cx="58.5" cy="314.5" r="1.75"/><circle cx="59.8" cy="327.0" r="1.75"/><circle cx="61.4" cy="320.8" r="1.75"/><circle cx="63.3" cy="318.4" r="1.75"/><circle cx="64.9" cy="321.0" r="1.75"/><circle cx="66.2" cy="320.6" r="1.75"/><circle cx="67.7" cy="328.9" r="1.75"/><circle cx="69.6" cy="324.4" r="1.75"/><circle cx="70.9" cy="324.7" r="1.75"/><circle cx="71.9" cy="324.4" r="1.75"/><circle cx="74.4" cy="319.3" r="1.75"/><circle cx="75.8" cy="327.8" r="1.75"/><circle cx="76.9" cy="322.0" r="1.75"/><circle cx="78.7" cy="319.6" r="1.75"/><circle cx="79.5" cy="318.3" r="1.75"/><circle cx="81.2" cy="319.5" r="1.75"/><circle cx="82.9" cy="320.4" r="1.75"/><circle cx="84.2" cy="320.4" r="1.75"/><circle cx="85.7" cy="320.9" r="1.75"/><circle cx="88.1" cy="319.7" r="1.75"/><circle cx="89.3" cy="318.7" r="1.75"/><circle cx="90.5" cy="318.1" r="1.75"/><circle cx="36.8" cy="309.8" r="1.75"/><circle cx="60.3" cy="336.5" r="1.75"/><circle cx="63.4" cy="313.2" r="1.75"/><circle cx="88.8" cy="310.5" r="1.75"/><circle cx="90.4" cy="330.0" r="1.75"/><circle cx="84.5" cy="329.0" r="1.75"/></g>
<path d="M36.8,318.7 L64.2,319.3 L91.6,317.2 L91.6,323.2 L64.2,322.7 L36.8,324.7Z" fill="#8a8a8c" fill-opacity="0.6"/>
<line x1="36.8" y1="321.7" x2="91.6" y2="320.2" stroke="#3d3d3f" stroke-width="1.8" stroke-linecap="round"/>
<text font-size="4.9" fill="#333" x="37.0" y="356.3" textLength="43.6" lengthAdjust="spacingAndGlyphs"><tspan font-style="italic">y</tspan> = 2.15 + 0.0001<tspan font-style="italic">x</tspan></text>
<text font-size="4.9" fill="#333" x="37.0" y="362.3" textLength="21.8" lengthAdjust="spacingAndGlyphs"><tspan font-style="italic">R</tspan><tspan font-size="3.2" dy="-1.7">2</tspan><tspan dy="1.7"> = 0.01</tspan></text>
<text font-size="4.9" fill="#333" x="37.0" y="368.3" textLength="23.2" lengthAdjust="spacingAndGlyphs"><tspan font-style="italic">P</tspan> = 0.589</text>
<text x="35.80" y="382.38" font-size="6.9" text-anchor="middle" fill="#444" >0</text>
<text x="59.56" y="382.38" font-size="6.9" text-anchor="middle" fill="#444" >200</text>
<text x="83.32" y="382.38" font-size="6.9" text-anchor="middle" fill="#444" >400</text>
<path d="M35.8,279.29999999999995V282.09999999999997 M35.8,371.5V374.3 M59.6,279.29999999999995V282.09999999999997 M59.6,371.5V374.3 M83.3,279.29999999999995V282.09999999999997 M83.3,371.5V374.3 " stroke="#6e6e6e" stroke-width="0.6" fill="none"/>
<rect x="104.35" y="179.1" width="71.35" height="13.70" fill="#fbb597"/>
<text x="139.97" y="188.78" font-size="6.9" text-anchor="middle" fill="#333" >T1</text>
<g fill="#f6a27c" fill-opacity="0.6"><circle cx="107.9" cy="255.5" r="1.75"/><circle cx="110.3" cy="253.7" r="1.75"/><circle cx="111.2" cy="249.1" r="1.75"/><circle cx="112.4" cy="249.4" r="1.75"/><circle cx="114.3" cy="247.7" r="1.75"/><circle cx="115.7" cy="251.3" r="1.75"/><circle cx="117.1" cy="248.8" r="1.75"/><circle cx="118.9" cy="244.2" r="1.75"/><circle cx="121.0" cy="246.2" r="1.75"/><circle cx="123.2" cy="242.4" r="1.75"/><circle cx="124.6" cy="240.3" r="1.75"/><circle cx="125.6" cy="238.4" r="1.75"/><circle cx="127.0" cy="239.0" r="1.75"/><circle cx="129.4" cy="232.2" r="1.75"/><circle cx="130.4" cy="233.4" r="1.75"/><circle cx="132.8" cy="230.9" r="1.75"/><circle cx="134.3" cy="225.2" r="1.75"/><circle cx="135.8" cy="217.4" r="1.75"/><circle cx="136.7" cy="218.0" r="1.75"/><circle cx="138.1" cy="218.6" r="1.75"/><circle cx="139.7" cy="217.5" r="1.75"/><circle cx="142.1" cy="218.2" r="1.75"/><circle cx="144.1" cy="210.8" r="1.75"/><circle cx="145.7" cy="216.7" r="1.75"/><circle cx="147.3" cy="213.4" r="1.75"/><circle cx="148.0" cy="215.4" r="1.75"/><circle cx="149.6" cy="214.7" r="1.75"/><circle cx="152.1" cy="216.2" r="1.75"/><circle cx="153.6" cy="209.7" r="1.75"/><circle cx="155.2" cy="213.0" r="1.75"/><circle cx="155.9" cy="209.9" r="1.75"/><circle cx="158.4" cy="207.9" r="1.75"/><circle cx="159.9" cy="210.3" r="1.75"/><circle cx="161.6" cy="211.5" r="1.75"/><circle cx="133.4" cy="216.2" r="1.75"/><circle cx="137.9" cy="214.8" r="1.75"/><circle cx="115.5" cy="243.0" r="1.75"/><circle cx="131.7" cy="243.0" r="1.75"/><circle cx="130.5" cy="240.4" r="1.75"/></g>
<path d="M107.4,249.8 L107.6,249.7 L107.8,249.5 L108.0,249.3 L108.3,249.1 L108.6,248.9 L109.0,248.7 L109.3,248.4 L109.6,248.2 L110.0,247.9 L110.3,247.7 L110.7,247.4 L111.0,247.2 L111.3,247.0 L111.6,246.8 L112.0,246.6 L112.3,246.4 L112.6,246.2 L112.9,245.9 L113.3,245.7 L113.6,245.5 L113.9,245.3 L114.3,245.1 L114.6,244.9 L114.9,244.7 L115.2,244.5 L115.5,244.3 L115.8,244.1 L116.1,243.9 L116.5,243.7 L116.8,243.5 L117.1,243.2 L117.4,243.0 L117.7,242.8 L118.0,242.6 L118.3,242.4 L118.6,242.2 L118.9,242.0 L119.2,241.8 L119.5,241.5 L119.9,241.3 L120.2,241.1 L120.5,240.9 L120.8,240.6 L121.1,240.4 L121.4,240.2 L121.7,240.0 L122.0,239.8 L122.3,239.6 L122.6,239.4 L122.8,239.2 L123.1,239.1 L123.3,238.9 L123.5,238.7 L123.7,238.6 L124.0,238.4 L124.2,238.3 L124.4,238.1 L124.6,237.9 L124.8,237.8 L125.0,237.6 L125.2,237.4 L125.4,237.2 L125.6,237.1 L125.8,236.9 L126.0,236.7 L126.1,236.5 L126.3,236.3 L126.5,236.1 L126.7,235.9 L126.9,235.7 L127.0,235.5 L127.2,235.3 L127.4,235.1 L127.5,234.8 L127.7,234.6 L127.9,234.3 L128.1,234.1 L128.2,233.8 L128.4,233.6 L128.6,233.3 L128.7,233.0 L128.9,232.8 L129.0,232.5 L129.2,232.2 L129.4,231.9 L129.5,231.6 L129.6,231.4 L129.8,231.1 L129.9,230.8 L130.1,230.5 L130.2,230.2 L130.3,229.9 L130.5,229.6 L130.6,229.3 L130.8,228.9 L130.9,228.6 L131.1,228.2 L131.2,227.9 L131.4,227.5 L131.5,227.1 L131.7,226.7 L131.8,226.3 L132.0,225.9 L132.2,225.5 L132.3,225.1 L132.5,224.7 L132.6,224.4 L132.8,224.0 L133.0,223.6 L133.1,223.3 L133.3,222.9 L133.4,222.6 L133.6,222.2 L133.8,221.9 L133.9,221.5 L134.1,221.2 L134.2,220.9 L134.4,220.6 L134.5,220.3 L134.7,220.0 L134.8,219.7 L135.0,219.5 L135.1,219.2 L135.3,219.0 L135.4,218.8 L135.5,218.6 L135.7,218.4 L135.8,218.2 L136.0,218.0 L136.1,217.8 L136.2,217.6 L136.4,217.4 L136.5,217.2 L136.7,217.1 L136.8,216.9 L136.9,216.8 L137.1,216.6 L137.2,216.5 L137.3,216.4 L137.5,216.2 L137.7,216.1 L137.9,215.9 L138.1,215.8 L138.4,215.6 L138.7,215.4 L139.0,215.2 L139.4,215.0 L139.8,214.8 L140.2,214.6 L140.6,214.3 L141.0,214.1 L141.5,213.9 L141.9,213.6 L142.4,213.4 L142.8,213.2 L143.3,213.0 L143.8,212.8 L144.2,212.6 L144.7,212.4 L145.2,212.2 L145.7,212.0 L146.2,211.8 L146.8,211.6 L147.3,211.5 L147.8,211.3 L148.4,211.1 L148.9,211.0 L149.5,210.8 L150.1,210.6 L150.7,210.5 L151.3,210.4 L152.0,210.2 L152.6,210.1 L153.3,210.0 L153.9,209.9 L154.5,209.7 L155.2,209.6 L155.8,209.5 L156.4,209.4 L156.9,209.3 L157.4,209.2 L158.0,209.1 L158.5,209.0 L159.0,208.9 L159.5,208.8 L160.0,208.7 L160.5,208.6 L160.9,208.5 L161.3,208.4 L161.6,208.3 L162.0,208.3 L162.2,208.2 L162.2,214.2 L162.0,214.3 L161.6,214.3 L161.3,214.4 L160.9,214.5 L160.5,214.6 L160.0,214.7 L159.5,214.8 L159.0,214.9 L158.5,215.0 L158.0,215.1 L157.4,215.2 L156.9,215.3 L156.4,215.4 L155.8,215.5 L155.2,215.6 L154.5,215.7 L153.9,215.9 L153.3,216.0 L152.6,216.1 L152.0,216.2 L151.3,216.4 L150.7,216.5 L150.1,216.6 L149.5,216.8 L148.9,217.0 L148.4,217.1 L147.8,217.3 L147.3,217.5 L146.8,217.6 L146.2,217.8 L145.7,218.0 L145.2,218.2 L144.7,218.4 L144.2,218.6 L143.8,218.8 L143.3,219.0 L142.8,219.2 L142.4,219.4 L141.9,219.6 L141.5,219.9 L141.0,220.1 L140.6,220.3 L140.2,220.6 L139.8,220.8 L139.4,221.0 L139.0,221.2 L138.7,221.4 L138.4,221.6 L138.1,221.8 L137.9,221.9 L137.7,222.1 L137.5,222.2 L137.3,222.4 L137.2,222.5 L137.1,222.6 L136.9,222.8 L136.8,222.9 L136.7,223.1 L136.5,223.2 L136.4,223.4 L136.2,223.6 L136.1,223.8 L136.0,224.0 L135.8,224.2 L135.7,224.4 L135.5,224.6 L135.4,224.8 L135.3,225.0 L135.1,225.2 L135.0,225.5 L134.8,225.7 L134.7,226.0 L134.5,226.3 L134.4,226.6 L134.2,226.9 L134.1,227.2 L133.9,227.5 L133.8,227.9 L133.6,228.2 L133.4,228.6 L133.3,228.9 L133.1,229.3 L133.0,229.6 L132.8,230.0 L132.6,230.4 L132.5,230.7 L132.3,231.1 L132.2,231.5 L132.0,231.9 L131.8,232.3 L131.7,232.7 L131.5,233.1 L131.4,233.5 L131.2,233.9 L131.1,234.2 L130.9,234.6 L130.8,234.9 L130.6,235.3 L130.5,235.6 L130.3,235.9 L130.2,236.2 L130.1,236.5 L129.9,236.8 L129.8,237.1 L129.6,237.4 L129.5,237.6 L129.4,237.9 L129.2,238.2 L129.0,238.5 L128.9,238.8 L128.7,239.0 L128.6,239.3 L128.4,239.6 L128.2,239.8 L128.1,240.1 L127.9,240.3 L127.7,240.6 L127.5,240.8 L127.4,241.1 L127.2,241.3 L127.0,241.5 L126.9,241.7 L126.7,241.9 L126.5,242.1 L126.3,242.3 L126.1,242.5 L126.0,242.7 L125.8,242.9 L125.6,243.1 L125.4,243.2 L125.2,243.4 L125.0,243.6 L124.8,243.8 L124.6,243.9 L124.4,244.1 L124.2,244.3 L124.0,244.4 L123.7,244.6 L123.5,244.7 L123.3,244.9 L123.1,245.1 L122.8,245.2 L122.6,245.4 L122.3,245.6 L122.0,245.8 L121.7,246.0 L121.4,246.2 L121.1,246.4 L120.8,246.6 L120.5,246.9 L120.2,247.1 L119.9,247.3 L119.5,247.5 L119.2,247.8 L118.9,248.0 L118.6,248.2 L118.3,248.4 L118.0,248.6 L117.7,248.8 L117.4,249.0 L117.1,249.2 L116.8,249.5 L116.5,249.7 L116.1,249.9 L115.8,250.1 L115.5,250.3 L115.2,250.5 L114.9,250.7 L114.6,250.9 L114.3,251.1 L113.9,251.3 L113.6,251.5 L113.3,251.7 L112.9,251.9 L112.6,252.2 L112.3,252.4 L112.0,252.6 L111.6,252.8 L111.3,253.0 L111.0,253.2 L110.7,253.4 L110.3,253.7 L110.0,253.9 L109.6,254.2 L109.3,254.4 L109.0,254.7 L108.6,254.9 L108.3,255.1 L108.0,255.3 L107.8,255.5 L107.6,255.7 L107.4,255.8Z" fill="#f7a581" fill-opacity="0.5"/>
<path d="M107.4,252.8 L107.6,252.7 L107.8,252.5 L108.0,252.3 L108.3,252.1 L108.6,251.9 L109.0,251.7 L109.3,251.4 L109.6,251.2 L110.0,250.9 L110.3,250.7 L110.7,250.4 L111.0,250.2 L111.3,250.0 L111.6,249.8 L112.0,249.6 L112.3,249.4 L112.6,249.2 L112.9,248.9 L113.3,248.7 L113.6,248.5 L113.9,248.3 L114.3,248.1 L114.6,247.9 L114.9,247.7 L115.2,247.5 L115.5,247.3 L115.8,247.1 L116.1,246.9 L116.5,246.7 L116.8,246.5 L117.1,246.2 L117.4,246.0 L117.7,245.8 L118.0,245.6 L118.3,245.4 L118.6,245.2 L118.9,245.0 L119.2,244.8 L119.5,244.5 L119.9,244.3 L120.2,244.1 L120.5,243.9 L120.8,243.6 L121.1,243.4 L121.4,243.2 L121.7,243.0 L122.0,242.8 L122.3,242.6 L122.6,242.4 L122.8,242.2 L123.1,242.1 L123.3,241.9 L123.5,241.7 L123.7,241.6 L124.0,241.4 L124.2,241.3 L124.4,241.1 L124.6,240.9 L124.8,240.8 L125.0,240.6 L125.2,240.4 L125.4,240.2 L125.6,240.1 L125.8,239.9 L126.0,239.7 L126.1,239.5 L126.3,239.3 L126.5,239.1 L126.7,238.9 L126.9,238.7 L127.0,238.5 L127.2,238.3 L127.4,238.1 L127.5,237.8 L127.7,237.6 L127.9,237.3 L128.1,237.1 L128.2,236.8 L128.4,236.6 L128.6,236.3 L128.7,236.0 L128.9,235.8 L129.0,235.5 L129.2,235.2 L129.4,234.9 L129.5,234.6 L129.6,234.4 L129.8,234.1 L129.9,233.8 L130.1,233.5 L130.2,233.2 L130.3,232.9 L130.5,232.6 L130.6,232.3 L130.8,231.9 L130.9,231.6 L131.1,231.2 L131.2,230.9 L131.4,230.5 L131.5,230.1 L131.7,229.7 L131.8,229.3 L132.0,228.9 L132.2,228.5 L132.3,228.1 L132.5,227.7 L132.6,227.4 L132.8,227.0 L133.0,226.6 L133.1,226.3 L133.3,225.9 L133.4,225.6 L133.6,225.2 L133.8,224.9 L133.9,224.5 L134.1,224.2 L134.2,223.9 L134.4,223.6 L134.5,223.3 L134.7,223.0 L134.8,222.7 L135.0,222.5 L135.1,222.2 L135.3,222.0 L135.4,221.8 L135.5,221.6 L135.7,221.4 L135.8,221.2 L136.0,221.0 L136.1,220.8 L136.2,220.6 L136.4,220.4 L136.5,220.2 L136.7,220.1 L136.8,219.9 L136.9,219.8 L137.1,219.6 L137.2,219.5 L137.3,219.4 L137.5,219.2 L137.7,219.1 L137.9,218.9 L138.1,218.8 L138.4,218.6 L138.7,218.4 L139.0,218.2 L139.4,218.0 L139.8,217.8 L140.2,217.6 L140.6,217.3 L141.0,217.1 L141.5,216.9 L141.9,216.6 L142.4,216.4 L142.8,216.2 L143.3,216.0 L143.8,215.8 L144.2,215.6 L144.7,215.4 L145.2,215.2 L145.7,215.0 L146.2,214.8 L146.8,214.6 L147.3,214.5 L147.8,214.3 L148.4,214.1 L148.9,214.0 L149.5,213.8 L150.1,213.6 L150.7,213.5 L151.3,213.4 L152.0,213.2 L152.6,213.1 L153.3,213.0 L153.9,212.9 L154.5,212.7 L155.2,212.6 L155.8,212.5 L156.4,212.4 L156.9,212.3 L157.4,212.2 L158.0,212.1 L158.5,212.0 L159.0,211.9 L159.5,211.8 L160.0,211.7 L160.5,211.6 L160.9,211.5 L161.3,211.4 L161.6,211.3 L162.0,211.3 L162.2,211.2" fill="none" stroke="#f0885b" stroke-width="2.0" stroke-linecap="round" stroke-linejoin="round"/>
<g fill="#f6a27c" fill-opacity="0.6"><circle cx="108.4" cy="320.5" r="1.75"/><circle cx="110.0" cy="330.3" r="1.75"/><circle cx="111.5" cy="318.4" r="1.75"/><circle cx="112.8" cy="324.3" r="1.75"/><circle cx="114.3" cy="319.0" r="1.75"/><circle cx="116.6" cy="317.4" r="1.75"/><circle cx="117.3" cy="318.7" r="1.75"/><circle cx="119.5" cy="329.6" r="1.75"/><circle cx="120.6" cy="323.8" r="1.75"/><circle cx="121.7" cy="322.7" r="1.75"/><circle cx="124.4" cy="324.2" r="1.75"/><circle cx="125.9" cy="324.9" r="1.75"/><circle cx="126.8" cy="318.2" r="1.75"/><circle cx="128.1" cy="325.8" r="1.75"/><circle cx="129.7" cy="322.4" r="1.75"/><circle cx="131.6" cy="319.6" r="1.75"/><circle cx="132.7" cy="323.0" r="1.75"/><circle cx="135.0" cy="320.8" r="1.75"/><circle cx="135.9" cy="325.2" r="1.75"/><circle cx="138.1" cy="320.4" r="1.75"/><circle cx="139.0" cy="318.3" r="1.75"/><circle cx="140.7" cy="322.9" r="1.75"/><circle cx="142.2" cy="318.0" r="1.75"/><circle cx="143.3" cy="320.7" r="1.75"/><circle cx="144.6" cy="320.5" r="1.75"/><circle cx="146.7" cy="322.6" r="1.75"/><circle cx="148.5" cy="323.2" r="1.75"/><circle cx="149.8" cy="321.6" r="1.75"/><circle cx="151.4" cy="320.3" r="1.75"/><circle cx="152.9" cy="321.9" r="1.75"/><circle cx="154.0" cy="321.3" r="1.75"/><circle cx="155.9" cy="315.5" r="1.75"/><circle cx="157.5" cy="319.9" r="1.75"/><circle cx="158.9" cy="326.6" r="1.75"/><circle cx="160.6" cy="323.6" r="1.75"/><circle cx="162.2" cy="320.2" r="1.75"/><circle cx="130.4" cy="336.2" r="1.75"/><circle cx="133.5" cy="314.0" r="1.75"/><circle cx="154.0" cy="329.5" r="1.75"/></g>
<path d="M108.0,320.0 L135.4,319.8 L162.9,317.0 L162.9,323.0 L135.4,323.2 L108.0,326.0Z" fill="#f7a581" fill-opacity="0.6"/>
<line x1="108.0" y1="323.0" x2="162.9" y2="320.0" stroke="#f0885b" stroke-width="1.8" stroke-linecap="round"/>
<text font-size="4.9" fill="#333" x="108.2" y="356.3" textLength="43.6" lengthAdjust="spacingAndGlyphs"><tspan font-style="italic">y</tspan> = 2.11 + 0.0002<tspan font-style="italic">x</tspan></text>
<text font-size="4.9" fill="#333" x="108.2" y="362.3" textLength="21.8" lengthAdjust="spacingAndGlyphs"><tspan font-style="italic">R</tspan><tspan font-size="3.2" dy="-1.7">2</tspan><tspan dy="1.7"> = 0.05</tspan></text>
<text font-size="4.9" fill="#333" x="108.2" y="368.3" textLength="23.2" lengthAdjust="spacingAndGlyphs"><tspan font-style="italic">P</tspan> = 0.152</text>
<text x="107.05" y="382.38" font-size="6.9" text-anchor="middle" fill="#444" >0</text>
<text x="130.81" y="382.38" font-size="6.9" text-anchor="middle" fill="#444" >200</text>
<text x="154.57" y="382.38" font-size="6.9" text-anchor="middle" fill="#444" >400</text>
<path d="M107.0,279.29999999999995V282.09999999999997 M107.0,371.5V374.3 M130.8,279.29999999999995V282.09999999999997 M130.8,371.5V374.3 M154.6,279.29999999999995V282.09999999999997 M154.6,371.5V374.3 " stroke="#6e6e6e" stroke-width="0.6" fill="none"/>
<rect x="175.60" y="179.1" width="71.35" height="13.70" fill="#8f9fc7"/>
<text x="211.22" y="188.78" font-size="6.9" text-anchor="middle" fill="#333" >T2</text>
<g fill="#7f93c6" fill-opacity="0.6"><circle cx="179.7" cy="213.3" r="1.75"/><circle cx="181.6" cy="215.3" r="1.75"/><circle cx="182.7" cy="219.3" r="1.75"/><circle cx="183.6" cy="212.7" r="1.75"/><circle cx="185.4" cy="219.6" r="1.75"/><circle cx="186.3" cy="214.6" r="1.75"/><circle cx="187.6" cy="215.0" r="1.75"/><circle cx="189.2" cy="215.6" r="1.75"/><circle cx="190.4" cy="213.3" r="1.75"/><circle cx="192.7" cy="211.2" r="1.75"/><circle cx="193.2" cy="213.4" r="1.75"/><circle cx="194.6" cy="210.5" r="1.75"/><circle cx="196.8" cy="213.9" r="1.75"/><circle cx="198.3" cy="211.7" r="1.75"/><circle cx="199.0" cy="205.7" r="1.75"/><circle cx="200.9" cy="211.9" r="1.75"/><circle cx="201.5" cy="209.2" r="1.75"/><circle cx="203.1" cy="212.5" r="1.75"/><circle cx="204.4" cy="210.3" r="1.75"/><circle cx="205.5" cy="214.6" r="1.75"/><circle cx="207.5" cy="211.7" r="1.75"/><circle cx="208.7" cy="212.4" r="1.75"/><circle cx="210.4" cy="211.8" r="1.75"/><circle cx="212.2" cy="212.7" r="1.75"/><circle cx="213.3" cy="213.8" r="1.75"/><circle cx="214.1" cy="212.9" r="1.75"/><circle cx="215.3" cy="213.5" r="1.75"/><circle cx="216.7" cy="211.9" r="1.75"/><circle cx="218.5" cy="217.0" r="1.75"/><circle cx="219.7" cy="212.2" r="1.75"/><circle cx="220.9" cy="216.8" r="1.75"/><circle cx="222.9" cy="213.9" r="1.75"/><circle cx="223.6" cy="218.3" r="1.75"/><circle cx="225.4" cy="217.4" r="1.75"/><circle cx="193.5" cy="228.1" r="1.75"/></g>
<path d="M179.2,212.4 L179.4,212.4 L179.6,212.5 L179.8,212.5 L180.1,212.5 L180.4,212.6 L180.7,212.6 L181.0,212.7 L181.3,212.7 L181.6,212.8 L181.9,212.8 L182.2,212.9 L182.5,212.9 L182.8,212.9 L183.0,212.9 L183.2,213.0 L183.5,213.0 L183.7,213.0 L183.9,213.0 L184.2,213.0 L184.4,213.0 L184.6,213.0 L184.9,213.0 L185.1,213.0 L185.4,213.0 L185.7,213.0 L186.0,212.9 L186.2,212.9 L186.5,212.9 L186.8,212.8 L187.1,212.8 L187.5,212.7 L187.8,212.7 L188.1,212.6 L188.4,212.5 L188.7,212.5 L189.0,212.4 L189.3,212.3 L189.6,212.2 L189.9,212.2 L190.3,212.1 L190.6,212.0 L190.9,211.9 L191.2,211.8 L191.5,211.7 L191.9,211.5 L192.2,211.4 L192.5,211.3 L192.8,211.2 L193.1,211.1 L193.4,211.0 L193.7,210.8 L194.0,210.7 L194.3,210.5 L194.7,210.4 L195.0,210.3 L195.3,210.1 L195.6,210.0 L195.9,209.8 L196.2,209.7 L196.5,209.6 L196.8,209.5 L197.1,209.4 L197.4,209.3 L197.7,209.2 L198.0,209.0 L198.3,208.9 L198.6,208.8 L198.9,208.8 L199.2,208.7 L199.5,208.6 L199.9,208.5 L200.2,208.5 L200.5,208.5 L200.9,208.4 L201.2,208.4 L201.6,208.4 L201.9,208.4 L202.3,208.4 L202.7,208.5 L203.0,208.5 L203.4,208.5 L203.8,208.5 L204.1,208.6 L204.5,208.6 L204.9,208.6 L205.2,208.7 L205.6,208.7 L205.9,208.8 L206.3,208.8 L206.7,208.9 L207.0,209.0 L207.4,209.0 L207.7,209.1 L208.1,209.2 L208.5,209.2 L208.9,209.3 L209.3,209.4 L209.7,209.4 L210.1,209.5 L210.6,209.5 L211.0,209.6 L211.4,209.6 L211.9,209.7 L212.3,209.8 L212.7,209.8 L213.2,209.9 L213.6,209.9 L214.0,210.0 L214.4,210.1 L214.8,210.1 L215.2,210.2 L215.6,210.3 L216.1,210.3 L216.5,210.4 L216.9,210.5 L217.3,210.6 L217.6,210.6 L218.0,210.7 L218.4,210.8 L218.8,210.9 L219.2,211.0 L219.5,211.1 L219.9,211.2 L220.3,211.3 L220.6,211.4 L221.0,211.5 L221.3,211.6 L221.7,211.7 L222.0,211.8 L222.4,212.0 L222.7,212.1 L223.0,212.2 L223.3,212.3 L223.6,212.5 L224.0,212.6 L224.3,212.8 L224.6,212.9 L224.9,213.1 L225.2,213.2 L225.5,213.4 L225.7,213.5 L226.0,213.6 L226.1,213.7 L226.3,213.8 L226.3,219.8 L226.1,219.7 L226.0,219.6 L225.7,219.5 L225.5,219.4 L225.2,219.2 L224.9,219.1 L224.6,218.9 L224.3,218.8 L224.0,218.6 L223.6,218.5 L223.3,218.3 L223.0,218.2 L222.7,218.1 L222.4,218.0 L222.0,217.8 L221.7,217.7 L221.3,217.6 L221.0,217.5 L220.6,217.4 L220.3,217.3 L219.9,217.2 L219.5,217.1 L219.2,217.0 L218.8,216.9 L218.4,216.8 L218.0,216.7 L217.6,216.6 L217.3,216.6 L216.9,216.5 L216.5,216.4 L216.1,216.3 L215.6,216.3 L215.2,216.2 L214.8,216.1 L214.4,216.1 L214.0,216.0 L213.6,215.9 L213.2,215.9 L212.7,215.8 L212.3,215.8 L211.9,215.7 L211.4,215.6 L211.0,215.6 L210.6,215.5 L210.1,215.5 L209.7,215.4 L209.3,215.4 L208.9,215.3 L208.5,215.2 L208.1,215.2 L207.7,215.1 L207.4,215.0 L207.0,215.0 L206.7,214.9 L206.3,214.8 L205.9,214.8 L205.6,214.7 L205.2,214.7 L204.9,214.6 L204.5,214.6 L204.1,214.6 L203.8,214.5 L203.4,214.5 L203.0,214.5 L202.7,214.5 L202.3,214.4 L201.9,214.4 L201.6,214.4 L201.2,214.4 L200.9,214.4 L200.5,214.5 L200.2,214.5 L199.9,214.5 L199.5,214.6 L199.2,214.7 L198.9,214.8 L198.6,214.8 L198.3,214.9 L198.0,215.0 L197.7,215.2 L197.4,215.3 L197.1,215.4 L196.8,215.5 L196.5,215.6 L196.2,215.7 L195.9,215.8 L195.6,216.0 L195.3,216.1 L195.0,216.3 L194.7,216.4 L194.3,216.5 L194.0,216.7 L193.7,216.8 L193.4,217.0 L193.1,217.1 L192.8,217.2 L192.5,217.3 L192.2,217.4 L191.9,217.5 L191.5,217.7 L191.2,217.8 L190.9,217.9 L190.6,218.0 L190.3,218.1 L189.9,218.2 L189.6,218.2 L189.3,218.3 L189.0,218.4 L188.7,218.5 L188.4,218.5 L188.1,218.6 L187.8,218.7 L187.5,218.7 L187.1,218.8 L186.8,218.8 L186.5,218.9 L186.2,218.9 L186.0,218.9 L185.7,219.0 L185.4,219.0 L185.1,219.0 L184.9,219.0 L184.6,219.0 L184.4,219.0 L184.2,219.0 L183.9,219.0 L183.7,219.0 L183.5,219.0 L183.2,219.0 L183.0,218.9 L182.8,218.9 L182.5,218.9 L182.2,218.9 L181.9,218.8 L181.6,218.8 L181.3,218.7 L181.0,218.7 L180.7,218.6 L180.4,218.6 L180.1,218.5 L179.8,218.5 L179.6,218.5 L179.4,218.4 L179.2,218.4Z" fill="#6f8bc4" fill-opacity="0.5"/>
<path d="M179.2,215.4 L179.4,215.4 L179.6,215.5 L179.8,215.5 L180.1,215.5 L180.4,215.6 L180.7,215.6 L181.0,215.7 L181.3,215.7 L181.6,215.8 L181.9,215.8 L182.2,215.9 L182.5,215.9 L182.8,215.9 L183.0,215.9 L183.2,216.0 L183.5,216.0 L183.7,216.0 L183.9,216.0 L184.2,216.0 L184.4,216.0 L184.6,216.0 L184.9,216.0 L185.1,216.0 L185.4,216.0 L185.7,216.0 L186.0,215.9 L186.2,215.9 L186.5,215.9 L186.8,215.8 L187.1,215.8 L187.5,215.7 L187.8,215.7 L188.1,215.6 L188.4,215.5 L188.7,215.5 L189.0,215.4 L189.3,215.3 L189.6,215.2 L189.9,215.2 L190.3,215.1 L190.6,215.0 L190.9,214.9 L191.2,214.8 L191.5,214.7 L191.9,214.5 L192.2,214.4 L192.5,214.3 L192.8,214.2 L193.1,214.1 L193.4,214.0 L193.7,213.8 L194.0,213.7 L194.3,213.5 L194.7,213.4 L195.0,213.3 L195.3,213.1 L195.6,213.0 L195.9,212.8 L196.2,212.7 L196.5,212.6 L196.8,212.5 L197.1,212.4 L197.4,212.3 L197.7,212.2 L198.0,212.0 L198.3,211.9 L198.6,211.8 L198.9,211.8 L199.2,211.7 L199.5,211.6 L199.9,211.5 L200.2,211.5 L200.5,211.5 L200.9,211.4 L201.2,211.4 L201.6,211.4 L201.9,211.4 L202.3,211.4 L202.7,211.5 L203.0,211.5 L203.4,211.5 L203.8,211.5 L204.1,211.6 L204.5,211.6 L204.9,211.6 L205.2,211.7 L205.6,211.7 L205.9,211.8 L206.3,211.8 L206.7,211.9 L207.0,212.0 L207.4,212.0 L207.7,212.1 L208.1,212.2 L208.5,212.2 L208.9,212.3 L209.3,212.4 L209.7,212.4 L210.1,212.5 L210.6,212.5 L211.0,212.6 L211.4,212.6 L211.9,212.7 L212.3,212.8 L212.7,212.8 L213.2,212.9 L213.6,212.9 L214.0,213.0 L214.4,213.1 L214.8,213.1 L215.2,213.2 L215.6,213.3 L216.1,213.3 L216.5,213.4 L216.9,213.5 L217.3,213.6 L217.6,213.6 L218.0,213.7 L218.4,213.8 L218.8,213.9 L219.2,214.0 L219.5,214.1 L219.9,214.2 L220.3,214.3 L220.6,214.4 L221.0,214.5 L221.3,214.6 L221.7,214.7 L222.0,214.8 L222.4,215.0 L222.7,215.1 L223.0,215.2 L223.3,215.3 L223.6,215.5 L224.0,215.6 L224.3,215.8 L224.6,215.9 L224.9,216.1 L225.2,216.2 L225.5,216.4 L225.7,216.5 L226.0,216.6 L226.1,216.7 L226.3,216.8" fill="none" stroke="#3c63a6" stroke-width="2.0" stroke-linecap="round" stroke-linejoin="round"/>
<g fill="#7f93c6" fill-opacity="0.6"><circle cx="179.3" cy="323.9" r="1.75"/><circle cx="181.4" cy="331.6" r="1.75"/><circle cx="182.0" cy="327.9" r="1.75"/><circle cx="184.1" cy="329.6" r="1.75"/><circle cx="185.0" cy="331.0" r="1.75"/><circle cx="186.9" cy="322.5" r="1.75"/><circle cx="187.5" cy="323.3" r="1.75"/><circle cx="188.8" cy="322.7" r="1.75"/><circle cx="190.0" cy="325.6" r="1.75"/><circle cx="191.4" cy="324.6" r="1.75"/><circle cx="192.8" cy="328.0" r="1.75"/><circle cx="194.2" cy="317.8" r="1.75"/><circle cx="195.7" cy="322.6" r="1.75"/><circle cx="196.5" cy="320.5" r="1.75"/><circle cx="198.1" cy="316.4" r="1.75"/><circle cx="199.7" cy="322.5" r="1.75"/><circle cx="200.7" cy="333.3" r="1.75"/><circle cx="201.9" cy="320.8" r="1.75"/><circle cx="204.0" cy="326.6" r="1.75"/><circle cx="205.3" cy="319.1" r="1.75"/><circle cx="206.2" cy="327.9" r="1.75"/><circle cx="208.2" cy="320.7" r="1.75"/><circle cx="208.8" cy="316.7" r="1.75"/><circle cx="210.4" cy="325.8" r="1.75"/><circle cx="211.5" cy="320.2" r="1.75"/><circle cx="212.6" cy="317.7" r="1.75"/><circle cx="213.8" cy="318.8" r="1.75"/><circle cx="215.2" cy="321.6" r="1.75"/><circle cx="216.5" cy="312.7" r="1.75"/><circle cx="218.4" cy="324.7" r="1.75"/><circle cx="219.3" cy="316.6" r="1.75"/><circle cx="220.9" cy="312.5" r="1.75"/><circle cx="221.9" cy="319.3" r="1.75"/><circle cx="224.0" cy="314.0" r="1.75"/><circle cx="225.4" cy="318.0" r="1.75"/><circle cx="226.7" cy="315.3" r="1.75"/><circle cx="189.0" cy="343.0" r="1.75"/><circle cx="180.0" cy="334.5" r="1.75"/><circle cx="182.0" cy="334.0" r="1.75"/><circle cx="214.0" cy="328.5" r="1.75"/></g>
<path d="M179.3,326.8 L203.1,320.4 L227.0,311.3 L227.0,317.3 L203.1,323.8 L179.3,332.8Z" fill="#6f8bc4" fill-opacity="0.6"/>
<line x1="179.3" y1="329.8" x2="227.0" y2="314.3" stroke="#3c63a6" stroke-width="1.8" stroke-linecap="round"/>
<text font-size="4.9" fill="#333" x="179.5" y="356.3" textLength="43.6" lengthAdjust="spacingAndGlyphs"><tspan font-style="italic">y</tspan> = 1.89 + 0.0012<tspan font-style="italic">x</tspan></text>
<text font-size="4.9" fill="#333" x="179.5" y="362.3" textLength="21.8" lengthAdjust="spacingAndGlyphs"><tspan font-style="italic">R</tspan><tspan font-size="3.2" dy="-1.7">2</tspan><tspan dy="1.7"> = 0.49</tspan></text>
<text font-size="4.9" fill="#333" x="179.5" y="368.3" textLength="23.2" lengthAdjust="spacingAndGlyphs"><tspan font-style="italic">P</tspan> &lt; 0.001</text>
<text x="178.30" y="382.38" font-size="6.9" text-anchor="middle" fill="#444" >0</text>
<text x="202.06" y="382.38" font-size="6.9" text-anchor="middle" fill="#444" >200</text>
<text x="225.82" y="382.38" font-size="6.9" text-anchor="middle" fill="#444" >400</text>
<path d="M178.3,279.29999999999995V282.09999999999997 M178.3,371.5V374.3 M202.1,279.29999999999995V282.09999999999997 M202.1,371.5V374.3 M225.8,279.29999999999995V282.09999999999997 M225.8,371.5V374.3 " stroke="#6e6e6e" stroke-width="0.6" fill="none"/>
<rect x="246.85" y="179.1" width="71.35" height="13.70" fill="#87a97d"/>
<text x="282.48" y="188.78" font-size="6.9" text-anchor="middle" fill="#333" >T3</text>
<g fill="#7da477" fill-opacity="0.6"><circle cx="250.8" cy="268.8" r="1.75"/><circle cx="252.6" cy="261.2" r="1.75"/><circle cx="254.3" cy="252.1" r="1.75"/><circle cx="256.0" cy="246.6" r="1.75"/><circle cx="257.0" cy="242.5" r="1.75"/><circle cx="259.2" cy="235.4" r="1.75"/><circle cx="260.4" cy="232.6" r="1.75"/><circle cx="262.3" cy="225.6" r="1.75"/><circle cx="264.4" cy="216.8" r="1.75"/><circle cx="266.2" cy="217.0" r="1.75"/><circle cx="267.9" cy="217.3" r="1.75"/><circle cx="269.1" cy="212.9" r="1.75"/><circle cx="271.6" cy="214.8" r="1.75"/><circle cx="272.8" cy="214.9" r="1.75"/><circle cx="273.7" cy="214.1" r="1.75"/><circle cx="276.1" cy="206.7" r="1.75"/><circle cx="277.9" cy="210.9" r="1.75"/><circle cx="279.3" cy="208.9" r="1.75"/><circle cx="280.9" cy="211.9" r="1.75"/><circle cx="283.0" cy="205.8" r="1.75"/><circle cx="284.4" cy="211.8" r="1.75"/><circle cx="286.2" cy="206.6" r="1.75"/><circle cx="287.2" cy="209.9" r="1.75"/><circle cx="289.0" cy="208.6" r="1.75"/><circle cx="290.4" cy="209.7" r="1.75"/><circle cx="292.7" cy="205.4" r="1.75"/><circle cx="294.4" cy="206.7" r="1.75"/><circle cx="295.2" cy="205.4" r="1.75"/><circle cx="297.9" cy="207.7" r="1.75"/><circle cx="299.2" cy="204.9" r="1.75"/><circle cx="301.0" cy="211.0" r="1.75"/><circle cx="302.2" cy="209.0" r="1.75"/><circle cx="303.6" cy="207.1" r="1.75"/><circle cx="305.4" cy="211.1" r="1.75"/><circle cx="278.5" cy="224.0" r="1.75"/><circle cx="272.6" cy="199.5" r="1.75"/><circle cx="270.0" cy="207.0" r="1.75"/></g>
<path d="M250.4,267.7 L250.5,267.2 L250.6,266.6 L250.8,266.0 L251.0,265.2 L251.2,264.3 L251.4,263.4 L251.6,262.5 L251.8,261.6 L252.0,260.6 L252.2,259.7 L252.4,258.8 L252.6,258.0 L252.8,257.2 L253.0,256.5 L253.1,255.7 L253.3,255.0 L253.5,254.3 L253.7,253.5 L253.8,252.8 L254.0,252.0 L254.2,251.2 L254.4,250.3 L254.7,249.4 L254.9,248.4 L255.2,247.3 L255.4,246.2 L255.7,245.0 L256.0,243.7 L256.3,242.4 L256.7,241.1 L257.0,239.8 L257.3,238.5 L257.6,237.2 L258.0,235.9 L258.3,234.7 L258.6,233.6 L258.9,232.5 L259.2,231.5 L259.5,230.5 L259.8,229.5 L260.1,228.5 L260.5,227.5 L260.8,226.6 L261.1,225.7 L261.4,224.8 L261.7,224.0 L262.0,223.2 L262.3,222.4 L262.6,221.6 L262.9,220.9 L263.2,220.2 L263.5,219.6 L263.8,218.9 L264.1,218.3 L264.4,217.7 L264.7,217.1 L265.0,216.6 L265.3,216.1 L265.6,215.5 L266.0,215.0 L266.4,214.5 L266.7,214.0 L267.1,213.5 L267.5,213.1 L267.9,212.6 L268.4,212.2 L268.8,211.8 L269.2,211.4 L269.6,211.0 L270.1,210.7 L270.5,210.3 L271.0,210.0 L271.4,209.7 L271.9,209.4 L272.3,209.2 L272.7,209.0 L273.1,208.8 L273.6,208.6 L274.1,208.5 L274.6,208.3 L275.1,208.1 L275.7,208.0 L276.4,207.8 L277.1,207.6 L277.9,207.4 L278.8,207.2 L279.8,207.0 L280.9,206.8 L282.0,206.5 L283.2,206.3 L284.3,206.1 L285.4,205.9 L286.5,205.8 L287.6,205.6 L288.6,205.4 L289.5,205.3 L290.3,205.2 L291.1,205.1 L291.9,205.0 L292.6,205.0 L293.3,204.9 L294.0,204.9 L294.6,204.8 L295.3,204.8 L295.9,204.8 L296.6,204.8 L297.3,204.7 L298.0,204.7 L298.8,204.7 L299.6,204.6 L300.4,204.6 L301.2,204.5 L302.1,204.5 L302.9,204.5 L303.7,204.4 L304.5,204.4 L305.2,204.4 L305.8,204.3 L306.4,204.3 L306.8,204.3 L306.8,210.3 L306.4,210.3 L305.8,210.3 L305.2,210.4 L304.5,210.4 L303.7,210.4 L302.9,210.5 L302.1,210.5 L301.2,210.5 L300.4,210.6 L299.6,210.6 L298.8,210.7 L298.0,210.7 L297.3,210.7 L296.6,210.8 L295.9,210.8 L295.3,210.8 L294.6,210.8 L294.0,210.9 L293.3,210.9 L292.6,211.0 L291.9,211.0 L291.1,211.1 L290.3,211.2 L289.5,211.3 L288.6,211.4 L287.6,211.6 L286.5,211.8 L285.4,211.9 L284.3,212.1 L283.2,212.3 L282.0,212.5 L280.9,212.8 L279.8,213.0 L278.8,213.2 L277.9,213.4 L277.1,213.6 L276.4,213.8 L275.7,214.0 L275.1,214.1 L274.6,214.3 L274.1,214.5 L273.6,214.6 L273.1,214.8 L272.7,215.0 L272.3,215.2 L271.9,215.4 L271.4,215.7 L271.0,216.0 L270.5,216.3 L270.1,216.7 L269.6,217.0 L269.2,217.4 L268.8,217.8 L268.4,218.2 L267.9,218.6 L267.5,219.1 L267.1,219.5 L266.7,220.0 L266.4,220.5 L266.0,221.0 L265.6,221.5 L265.3,222.1 L265.0,222.6 L264.7,223.1 L264.4,223.7 L264.1,224.3 L263.8,224.9 L263.5,225.6 L263.2,226.2 L262.9,226.9 L262.6,227.6 L262.3,228.4 L262.0,229.2 L261.7,230.0 L261.4,230.8 L261.1,231.7 L260.8,232.6 L260.5,233.5 L260.1,234.5 L259.8,235.5 L259.5,236.5 L259.2,237.5 L258.9,238.5 L258.6,239.6 L258.3,240.7 L258.0,241.9 L257.6,243.2 L257.3,244.5 L257.0,245.8 L256.7,247.1 L256.3,248.4 L256.0,249.7 L255.7,251.0 L255.4,252.2 L255.2,253.3 L254.9,254.4 L254.7,255.4 L254.4,256.3 L254.2,257.2 L254.0,258.0 L253.8,258.8 L253.7,259.5 L253.5,260.3 L253.3,261.0 L253.1,261.7 L253.0,262.5 L252.8,263.2 L252.6,264.0 L252.4,264.8 L252.2,265.7 L252.0,266.6 L251.8,267.6 L251.6,268.5 L251.4,269.4 L251.2,270.3 L251.0,271.2 L250.8,272.0 L250.6,272.6 L250.5,273.2 L250.4,273.7Z" fill="#5f9a62" fill-opacity="0.5"/>
<path d="M250.4,270.7 L250.5,270.2 L250.6,269.6 L250.8,269.0 L251.0,268.2 L251.2,267.3 L251.4,266.4 L251.6,265.5 L251.8,264.6 L252.0,263.6 L252.2,262.7 L252.4,261.8 L252.6,261.0 L252.8,260.2 L253.0,259.5 L253.1,258.7 L253.3,258.0 L253.5,257.3 L253.7,256.5 L253.8,255.8 L254.0,255.0 L254.2,254.2 L254.4,253.3 L254.7,252.4 L254.9,251.4 L255.2,250.3 L255.4,249.2 L255.7,248.0 L256.0,246.7 L256.3,245.4 L256.7,244.1 L257.0,242.8 L257.3,241.5 L257.6,240.2 L258.0,238.9 L258.3,237.7 L258.6,236.6 L258.9,235.5 L259.2,234.5 L259.5,233.5 L259.8,232.5 L260.1,231.5 L260.5,230.5 L260.8,229.6 L261.1,228.7 L261.4,227.8 L261.7,227.0 L262.0,226.2 L262.3,225.4 L262.6,224.6 L262.9,223.9 L263.2,223.2 L263.5,222.6 L263.8,221.9 L264.1,221.3 L264.4,220.7 L264.7,220.1 L265.0,219.6 L265.3,219.1 L265.6,218.5 L266.0,218.0 L266.4,217.5 L266.7,217.0 L267.1,216.5 L267.5,216.1 L267.9,215.6 L268.4,215.2 L268.8,214.8 L269.2,214.4 L269.6,214.0 L270.1,213.7 L270.5,213.3 L271.0,213.0 L271.4,212.7 L271.9,212.4 L272.3,212.2 L272.7,212.0 L273.1,211.8 L273.6,211.6 L274.1,211.5 L274.6,211.3 L275.1,211.1 L275.7,211.0 L276.4,210.8 L277.1,210.6 L277.9,210.4 L278.8,210.2 L279.8,210.0 L280.9,209.8 L282.0,209.5 L283.2,209.3 L284.3,209.1 L285.4,208.9 L286.5,208.8 L287.6,208.6 L288.6,208.4 L289.5,208.3 L290.3,208.2 L291.1,208.1 L291.9,208.0 L292.6,208.0 L293.3,207.9 L294.0,207.9 L294.6,207.8 L295.3,207.8 L295.9,207.8 L296.6,207.8 L297.3,207.7 L298.0,207.7 L298.8,207.7 L299.6,207.6 L300.4,207.6 L301.2,207.5 L302.1,207.5 L302.9,207.5 L303.7,207.4 L304.5,207.4 L305.2,207.4 L305.8,207.3 L306.4,207.3 L306.8,207.3" fill="none" stroke="#1f6d31" stroke-width="2.0" stroke-linecap="round" stroke-linejoin="round"/>
<g fill="#7da477" fill-opacity="0.6"><circle cx="251.4" cy="320.3" r="1.75"/><circle cx="252.6" cy="325.3" r="1.75"/><circle cx="254.3" cy="327.2" r="1.75"/><circle cx="256.0" cy="330.3" r="1.75"/><circle cx="257.6" cy="322.2" r="1.75"/><circle cx="258.7" cy="323.0" r="1.75"/><circle cx="260.9" cy="325.4" r="1.75"/><circle cx="261.5" cy="319.0" r="1.75"/><circle cx="263.2" cy="324.2" r="1.75"/><circle cx="265.5" cy="317.5" r="1.75"/><circle cx="267.1" cy="324.3" r="1.75"/><circle cx="268.4" cy="318.4" r="1.75"/><circle cx="270.0" cy="316.7" r="1.75"/><circle cx="271.2" cy="317.1" r="1.75"/><circle cx="273.8" cy="321.7" r="1.75"/><circle cx="274.7" cy="322.5" r="1.75"/><circle cx="276.7" cy="317.9" r="1.75"/><circle cx="277.6" cy="322.8" r="1.75"/><circle cx="279.1" cy="319.3" r="1.75"/><circle cx="281.1" cy="322.4" r="1.75"/><circle cx="282.2" cy="330.9" r="1.75"/><circle cx="283.7" cy="322.7" r="1.75"/><circle cx="286.2" cy="329.1" r="1.75"/><circle cx="287.6" cy="321.3" r="1.75"/><circle cx="288.6" cy="317.2" r="1.75"/><circle cx="289.9" cy="323.3" r="1.75"/><circle cx="291.4" cy="324.7" r="1.75"/><circle cx="293.4" cy="320.0" r="1.75"/><circle cx="294.8" cy="321.9" r="1.75"/><circle cx="297.2" cy="317.0" r="1.75"/><circle cx="297.7" cy="319.7" r="1.75"/><circle cx="299.4" cy="327.0" r="1.75"/><circle cx="302.0" cy="321.2" r="1.75"/><circle cx="302.8" cy="327.3" r="1.75"/><circle cx="304.5" cy="330.1" r="1.75"/><circle cx="306.3" cy="310.0" r="1.75"/><circle cx="250.6" cy="338.8" r="1.75"/><circle cx="277.2" cy="338.5" r="1.75"/><circle cx="294.8" cy="313.0" r="1.75"/><circle cx="299.5" cy="328.5" r="1.75"/></g>
<path d="M250.5,321.9 L278.8,320.1 L307.2,315.7 L307.2,321.7 L278.8,323.5 L250.5,327.9Z" fill="#5f9a62" fill-opacity="0.6"/>
<line x1="250.5" y1="324.9" x2="307.2" y2="318.7" stroke="#1f6d31" stroke-width="1.8" stroke-linecap="round"/>
<text font-size="4.9" fill="#333" x="250.8" y="356.3" textLength="43.6" lengthAdjust="spacingAndGlyphs"><tspan font-style="italic">y</tspan> = 2.05 + 0.0004<tspan font-style="italic">x</tspan></text>
<text font-size="4.9" fill="#333" x="250.8" y="362.3" textLength="21.8" lengthAdjust="spacingAndGlyphs"><tspan font-style="italic">R</tspan><tspan font-size="3.2" dy="-1.7">2</tspan><tspan dy="1.7"> = 0.11</tspan></text>
<text font-size="4.9" fill="#333" x="250.8" y="368.3" textLength="23.2" lengthAdjust="spacingAndGlyphs"><tspan font-style="italic">P</tspan> = 0.031</text>
<text x="249.55" y="382.38" font-size="6.9" text-anchor="middle" fill="#444" >0</text>
<text x="273.31" y="382.38" font-size="6.9" text-anchor="middle" fill="#444" >200</text>
<text x="297.07" y="382.38" font-size="6.9" text-anchor="middle" fill="#444" >400</text>
<path d="M249.5,279.29999999999995V282.09999999999997 M249.5,371.5V374.3 M273.3,279.29999999999995V282.09999999999997 M273.3,371.5V374.3 M297.1,279.29999999999995V282.09999999999997 M297.1,371.5V374.3 " stroke="#6e6e6e" stroke-width="0.6" fill="none"/>
<path d="M104.35,192.8V278.9 M104.35,285.8V371.1" stroke="#777779" stroke-width="1.3" fill="none"/>
<path d="M175.60,192.8V278.9 M175.60,285.8V371.1" stroke="#777779" stroke-width="1.3" fill="none"/>
<path d="M246.85,192.8V278.9 M246.85,285.8V371.1" stroke="#777779" stroke-width="1.3" fill="none"/>
<rect x="321.40" y="192.8" width="285.00" height="86.10" fill="#fff" stroke="#b9b9b9" stroke-width="1"/>
<rect x="321.40" y="285.8" width="285.00" height="85.30" fill="#fff" stroke="#b9b9b9" stroke-width="1"/>
<rect x="321.40" y="179.1" width="71.35" height="13.70" fill="#a8a9ac"/>
<text x="357.02" y="188.78" font-size="6.9" text-anchor="middle" fill="#333" >D</text>
<g fill="#6e6e70" fill-opacity="0.6"><circle cx="324.9" cy="255.5" r="1.75"/><circle cx="326.2" cy="256.8" r="1.75"/><circle cx="327.9" cy="255.2" r="1.75"/><circle cx="330.7" cy="249.8" r="1.75"/><circle cx="331.5" cy="250.7" r="1.75"/><circle cx="333.1" cy="252.9" r="1.75"/><circle cx="335.0" cy="253.8" r="1.75"/><circle cx="337.3" cy="246.0" r="1.75"/><circle cx="338.8" cy="252.3" r="1.75"/><circle cx="340.3" cy="243.6" r="1.75"/><circle cx="342.3" cy="250.8" r="1.75"/><circle cx="343.6" cy="248.2" r="1.75"/><circle cx="345.7" cy="245.8" r="1.75"/><circle cx="346.4" cy="245.5" r="1.75"/><circle cx="349.3" cy="249.9" r="1.75"/><circle cx="350.2" cy="250.2" r="1.75"/><circle cx="351.8" cy="248.0" r="1.75"/><circle cx="353.5" cy="241.8" r="1.75"/><circle cx="355.7" cy="248.1" r="1.75"/><circle cx="357.0" cy="252.2" r="1.75"/><circle cx="358.4" cy="249.9" r="1.75"/><circle cx="361.1" cy="250.1" r="1.75"/><circle cx="362.2" cy="249.5" r="1.75"/><circle cx="364.6" cy="253.7" r="1.75"/><circle cx="365.5" cy="249.1" r="1.75"/><circle cx="366.7" cy="249.3" r="1.75"/><circle cx="368.8" cy="249.6" r="1.75"/><circle cx="370.3" cy="249.1" r="1.75"/><circle cx="372.4" cy="251.4" r="1.75"/><circle cx="373.9" cy="245.5" r="1.75"/><circle cx="375.6" cy="246.0" r="1.75"/><circle cx="377.2" cy="248.5" r="1.75"/><circle cx="378.5" cy="248.1" r="1.75"/><circle cx="380.3" cy="256.6" r="1.75"/><circle cx="335.5" cy="241.0" r="1.75"/><circle cx="328.0" cy="262.5" r="1.75"/><circle cx="326.5" cy="260.5" r="1.75"/></g>
<path d="M324.4,254.9 L324.6,254.7 L324.8,254.5 L325.0,254.2 L325.3,253.9 L325.6,253.5 L325.9,253.2 L326.3,252.8 L326.6,252.4 L327.0,252.0 L327.3,251.7 L327.7,251.3 L328.0,251.0 L328.3,250.7 L328.7,250.4 L329.0,250.1 L329.4,249.7 L329.7,249.4 L330.1,249.1 L330.4,248.8 L330.8,248.5 L331.2,248.2 L331.6,248.0 L331.9,247.7 L332.3,247.4 L332.7,247.1 L333.1,246.9 L333.5,246.6 L333.9,246.3 L334.3,246.1 L334.7,245.8 L335.1,245.6 L335.5,245.4 L335.9,245.1 L336.3,244.9 L336.6,244.8 L337.0,244.6 L337.4,244.5 L337.7,244.3 L338.0,244.2 L338.3,244.1 L338.6,244.1 L338.9,244.0 L339.2,243.9 L339.5,243.9 L339.9,243.9 L340.2,243.8 L340.6,243.8 L341.0,243.8 L341.4,243.8 L341.9,243.8 L342.3,243.8 L342.8,243.8 L343.3,243.9 L343.8,243.9 L344.4,243.9 L344.9,244.0 L345.4,244.1 L346.0,244.1 L346.5,244.2 L347.1,244.3 L347.7,244.4 L348.3,244.6 L348.9,244.7 L349.5,244.9 L350.2,245.1 L350.8,245.3 L351.5,245.4 L352.1,245.6 L352.8,245.8 L353.4,245.9 L354.0,246.0 L354.6,246.1 L355.2,246.1 L355.7,246.2 L356.3,246.1 L356.8,246.1 L357.4,246.1 L357.9,246.0 L358.4,245.9 L358.9,245.9 L359.5,245.8 L360.0,245.7 L360.5,245.7 L361.0,245.6 L361.5,245.6 L362.0,245.5 L362.5,245.4 L362.9,245.4 L363.4,245.3 L363.9,245.2 L364.3,245.2 L364.8,245.1 L365.3,245.1 L365.9,245.0 L366.4,245.0 L367.0,245.0 L367.6,245.0 L368.3,245.0 L369.0,245.0 L369.8,245.0 L370.5,245.1 L371.3,245.1 L372.1,245.1 L372.8,245.2 L373.6,245.3 L374.3,245.3 L375.0,245.4 L375.6,245.5 L376.2,245.6 L376.8,245.8 L377.5,245.9 L378.1,246.1 L378.7,246.3 L379.2,246.5 L379.8,246.7 L380.3,246.9 L380.7,247.0 L381.2,247.2 L381.5,247.3 L381.8,247.4 L381.8,253.4 L381.5,253.3 L381.2,253.2 L380.7,253.0 L380.3,252.9 L379.8,252.7 L379.2,252.5 L378.7,252.3 L378.1,252.1 L377.5,251.9 L376.8,251.8 L376.2,251.6 L375.6,251.5 L375.0,251.4 L374.3,251.3 L373.6,251.3 L372.8,251.2 L372.1,251.1 L371.3,251.1 L370.5,251.1 L369.8,251.0 L369.0,251.0 L368.3,251.0 L367.6,251.0 L367.0,251.0 L366.4,251.0 L365.9,251.0 L365.3,251.1 L364.8,251.1 L364.3,251.2 L363.9,251.2 L363.4,251.3 L362.9,251.4 L362.5,251.4 L362.0,251.5 L361.5,251.6 L361.0,251.6 L360.5,251.7 L360.0,251.7 L359.5,251.8 L358.9,251.9 L358.4,251.9 L357.9,252.0 L357.4,252.1 L356.8,252.1 L356.3,252.1 L355.7,252.2 L355.2,252.1 L354.6,252.1 L354.0,252.0 L353.4,251.9 L352.8,251.8 L352.1,251.6 L351.5,251.4 L350.8,251.3 L350.2,251.1 L349.5,250.9 L348.9,250.7 L348.3,250.6 L347.7,250.4 L347.1,250.3 L346.5,250.2 L346.0,250.1 L345.4,250.1 L344.9,250.0 L344.4,249.9 L343.8,249.9 L343.3,249.9 L342.8,249.8 L342.3,249.8 L341.9,249.8 L341.4,249.8 L341.0,249.8 L340.6,249.8 L340.2,249.8 L339.9,249.9 L339.5,249.9 L339.2,249.9 L338.9,250.0 L338.6,250.1 L338.3,250.1 L338.0,250.2 L337.7,250.3 L337.4,250.5 L337.0,250.6 L336.6,250.8 L336.3,250.9 L335.9,251.1 L335.5,251.4 L335.1,251.6 L334.7,251.8 L334.3,252.1 L333.9,252.3 L333.5,252.6 L333.1,252.9 L332.7,253.1 L332.3,253.4 L331.9,253.7 L331.6,254.0 L331.2,254.2 L330.8,254.5 L330.4,254.8 L330.1,255.1 L329.7,255.4 L329.4,255.7 L329.0,256.1 L328.7,256.4 L328.3,256.7 L328.0,257.0 L327.7,257.3 L327.3,257.7 L327.0,258.0 L326.6,258.4 L326.3,258.8 L325.9,259.2 L325.6,259.5 L325.3,259.9 L325.0,260.2 L324.8,260.5 L324.6,260.7 L324.4,260.9Z" fill="#8a8a8c" fill-opacity="0.5"/>
<path d="M324.4,257.9 L324.6,257.7 L324.8,257.5 L325.0,257.2 L325.3,256.9 L325.6,256.5 L325.9,256.2 L326.3,255.8 L326.6,255.4 L327.0,255.0 L327.3,254.7 L327.7,254.3 L328.0,254.0 L328.3,253.7 L328.7,253.4 L329.0,253.1 L329.4,252.7 L329.7,252.4 L330.1,252.1 L330.4,251.8 L330.8,251.5 L331.2,251.2 L331.6,251.0 L331.9,250.7 L332.3,250.4 L332.7,250.1 L333.1,249.9 L333.5,249.6 L333.9,249.3 L334.3,249.1 L334.7,248.8 L335.1,248.6 L335.5,248.4 L335.9,248.1 L336.3,247.9 L336.6,247.8 L337.0,247.6 L337.4,247.5 L337.7,247.3 L338.0,247.2 L338.3,247.1 L338.6,247.1 L338.9,247.0 L339.2,246.9 L339.5,246.9 L339.9,246.9 L340.2,246.8 L340.6,246.8 L341.0,246.8 L341.4,246.8 L341.9,246.8 L342.3,246.8 L342.8,246.8 L343.3,246.9 L343.8,246.9 L344.4,246.9 L344.9,247.0 L345.4,247.1 L346.0,247.1 L346.5,247.2 L347.1,247.3 L347.7,247.4 L348.3,247.6 L348.9,247.7 L349.5,247.9 L350.2,248.1 L350.8,248.3 L351.5,248.4 L352.1,248.6 L352.8,248.8 L353.4,248.9 L354.0,249.0 L354.6,249.1 L355.2,249.1 L355.7,249.2 L356.3,249.1 L356.8,249.1 L357.4,249.1 L357.9,249.0 L358.4,248.9 L358.9,248.9 L359.5,248.8 L360.0,248.7 L360.5,248.7 L361.0,248.6 L361.5,248.6 L362.0,248.5 L362.5,248.4 L362.9,248.4 L363.4,248.3 L363.9,248.2 L364.3,248.2 L364.8,248.1 L365.3,248.1 L365.9,248.0 L366.4,248.0 L367.0,248.0 L367.6,248.0 L368.3,248.0 L369.0,248.0 L369.8,248.0 L370.5,248.1 L371.3,248.1 L372.1,248.1 L372.8,248.2 L373.6,248.3 L374.3,248.3 L375.0,248.4 L375.6,248.5 L376.2,248.6 L376.8,248.8 L377.5,248.9 L378.1,249.1 L378.7,249.3 L379.2,249.5 L379.8,249.7 L380.3,249.9 L380.7,250.0 L381.2,250.2 L381.5,250.3 L381.8,250.4" fill="none" stroke="#3d3d3f" stroke-width="2.0" stroke-linecap="round" stroke-linejoin="round"/>
<g fill="#6e6e70" fill-opacity="0.6"><circle cx="325.7" cy="341.8" r="1.75"/><circle cx="326.9" cy="342.2" r="1.75"/><circle cx="328.6" cy="330.6" r="1.75"/><circle cx="330.4" cy="322.6" r="1.75"/><circle cx="332.6" cy="320.9" r="1.75"/><circle cx="333.0" cy="342.8" r="1.75"/><circle cx="334.6" cy="333.9" r="1.75"/><circle cx="336.8" cy="345.3" r="1.75"/><circle cx="338.5" cy="321.4" r="1.75"/><circle cx="340.5" cy="328.8" r="1.75"/><circle cx="342.0" cy="315.8" r="1.75"/><circle cx="342.9" cy="344.7" r="1.75"/><circle cx="344.3" cy="322.8" r="1.75"/><circle cx="346.6" cy="320.0" r="1.75"/><circle cx="348.5" cy="329.4" r="1.75"/><circle cx="349.9" cy="338.3" r="1.75"/><circle cx="351.1" cy="329.1" r="1.75"/><circle cx="353.1" cy="327.4" r="1.75"/><circle cx="354.0" cy="316.8" r="1.75"/><circle cx="355.7" cy="331.7" r="1.75"/><circle cx="357.0" cy="326.2" r="1.75"/><circle cx="359.3" cy="314.7" r="1.75"/><circle cx="360.2" cy="317.0" r="1.75"/><circle cx="362.4" cy="321.2" r="1.75"/><circle cx="363.7" cy="323.2" r="1.75"/><circle cx="364.8" cy="314.4" r="1.75"/><circle cx="366.8" cy="343.5" r="1.75"/><circle cx="368.8" cy="319.4" r="1.75"/><circle cx="370.7" cy="329.4" r="1.75"/><circle cx="371.5" cy="322.8" r="1.75"/><circle cx="374.0" cy="325.2" r="1.75"/><circle cx="374.4" cy="329.6" r="1.75"/><circle cx="376.6" cy="326.6" r="1.75"/><circle cx="377.9" cy="329.9" r="1.75"/><circle cx="380.0" cy="317.4" r="1.75"/><circle cx="380.8" cy="324.7" r="1.75"/><circle cx="354.6" cy="343.8" r="1.75"/><circle cx="353.5" cy="340.5" r="1.75"/><circle cx="364.0" cy="311.5" r="1.75"/><circle cx="358.5" cy="313.5" r="1.75"/><circle cx="381.0" cy="311.0" r="1.75"/></g>
<path d="M325.1,326.7 L353.7,324.0 L382.3,317.3 L382.3,326.5 L353.7,329.2 L325.1,335.9Z" fill="#8a8a8c" fill-opacity="0.6"/>
<line x1="325.1" y1="331.3" x2="382.3" y2="321.9" stroke="#3d3d3f" stroke-width="1.8" stroke-linecap="round"/>
<text font-size="4.9" fill="#333" x="325.3" y="356.3" textLength="43.6" lengthAdjust="spacingAndGlyphs"><tspan font-style="italic">y</tspan> = 1.85 + 0.0006<tspan font-style="italic">x</tspan></text>
<text font-size="4.9" fill="#333" x="325.3" y="362.3" textLength="21.8" lengthAdjust="spacingAndGlyphs"><tspan font-style="italic">R</tspan><tspan font-size="3.2" dy="-1.7">2</tspan><tspan dy="1.7"> = 0.14</tspan></text>
<text font-size="4.9" fill="#333" x="325.3" y="368.3" textLength="23.2" lengthAdjust="spacingAndGlyphs"><tspan font-style="italic">P</tspan> = 0.008</text>
<text x="324.10" y="382.38" font-size="6.9" text-anchor="middle" fill="#444" >0</text>
<text x="347.86" y="382.38" font-size="6.9" text-anchor="middle" fill="#444" >200</text>
<text x="371.62" y="382.38" font-size="6.9" text-anchor="middle" fill="#444" >400</text>
<path d="M324.1,279.29999999999995V282.09999999999997 M324.1,371.5V374.3 M347.9,279.29999999999995V282.09999999999997 M347.9,371.5V374.3 M371.6,279.29999999999995V282.09999999999997 M371.6,371.5V374.3 " stroke="#6e6e6e" stroke-width="0.6" fill="none"/>
<rect x="392.65" y="179.1" width="71.35" height="13.70" fill="#fbb597"/>
<text x="428.27" y="188.78" font-size="6.9" text-anchor="middle" fill="#333" >T1</text>
<g fill="#f6a27c" fill-opacity="0.6"><circle cx="396.4" cy="252.5" r="1.75"/><circle cx="397.9" cy="255.3" r="1.75"/><circle cx="400.5" cy="247.4" r="1.75"/><circle cx="401.4" cy="242.2" r="1.75"/><circle cx="404.2" cy="239.3" r="1.75"/><circle cx="404.9" cy="246.0" r="1.75"/><circle cx="406.6" cy="238.3" r="1.75"/><circle cx="409.3" cy="232.2" r="1.75"/><circle cx="410.4" cy="234.6" r="1.75"/><circle cx="412.1" cy="234.3" r="1.75"/><circle cx="414.1" cy="232.2" r="1.75"/><circle cx="415.5" cy="229.0" r="1.75"/><circle cx="417.0" cy="230.4" r="1.75"/><circle cx="418.5" cy="227.5" r="1.75"/><circle cx="420.2" cy="221.7" r="1.75"/><circle cx="423.1" cy="230.7" r="1.75"/><circle cx="424.6" cy="233.8" r="1.75"/><circle cx="425.8" cy="226.4" r="1.75"/><circle cx="427.3" cy="231.5" r="1.75"/><circle cx="428.9" cy="224.7" r="1.75"/><circle cx="431.5" cy="224.9" r="1.75"/><circle cx="432.7" cy="229.4" r="1.75"/><circle cx="434.2" cy="230.0" r="1.75"/><circle cx="436.2" cy="227.7" r="1.75"/><circle cx="438.8" cy="233.8" r="1.75"/><circle cx="439.5" cy="233.7" r="1.75"/><circle cx="441.4" cy="230.7" r="1.75"/><circle cx="443.3" cy="222.9" r="1.75"/><circle cx="444.5" cy="225.3" r="1.75"/><circle cx="447.4" cy="229.0" r="1.75"/><circle cx="448.1" cy="224.1" r="1.75"/><circle cx="449.6" cy="233.7" r="1.75"/><circle cx="451.9" cy="230.7" r="1.75"/><circle cx="453.1" cy="223.6" r="1.75"/><circle cx="420.0" cy="247.5" r="1.75"/><circle cx="439.4" cy="236.8" r="1.75"/><circle cx="405.5" cy="228.2" r="1.75"/><circle cx="425.0" cy="218.5" r="1.75"/></g>
<path d="M395.9,254.9 L396.1,254.5 L396.3,254.0 L396.5,253.4 L396.8,252.7 L397.1,252.0 L397.4,251.2 L397.8,250.4 L398.1,249.6 L398.5,248.7 L398.8,248.0 L399.2,247.2 L399.5,246.5 L399.8,245.8 L400.2,245.2 L400.5,244.5 L400.9,243.8 L401.3,243.2 L401.7,242.5 L402.0,241.9 L402.4,241.3 L402.8,240.6 L403.2,240.0 L403.6,239.4 L404.0,238.8 L404.4,238.2 L404.8,237.6 L405.2,237.0 L405.6,236.4 L406.0,235.9 L406.5,235.3 L406.9,234.8 L407.3,234.2 L407.7,233.7 L408.2,233.2 L408.6,232.7 L409.0,232.2 L409.4,231.7 L409.8,231.3 L410.2,230.9 L410.7,230.5 L411.1,230.1 L411.5,229.7 L411.9,229.3 L412.3,228.9 L412.8,228.6 L413.2,228.3 L413.6,227.9 L414.0,227.6 L414.4,227.3 L414.8,227.0 L415.3,226.7 L415.7,226.4 L416.1,226.1 L416.5,225.9 L416.9,225.6 L417.3,225.4 L417.8,225.2 L418.2,225.0 L418.6,224.8 L419.0,224.6 L419.4,224.4 L419.8,224.3 L420.1,224.1 L420.5,224.0 L420.8,223.9 L421.1,223.8 L421.5,223.7 L421.9,223.6 L422.3,223.5 L422.8,223.5 L423.3,223.4 L423.9,223.4 L424.5,223.4 L425.2,223.4 L426.0,223.5 L426.8,223.6 L427.6,223.7 L428.5,223.8 L429.3,223.9 L430.2,224.0 L431.1,224.1 L432.0,224.2 L432.9,224.3 L433.8,224.4 L434.7,224.5 L435.6,224.6 L436.5,224.7 L437.5,224.8 L438.4,224.9 L439.4,224.9 L440.4,225.0 L441.3,225.1 L442.3,225.2 L443.2,225.3 L444.1,225.3 L445.0,225.4 L445.9,225.5 L446.8,225.5 L447.8,225.5 L448.7,225.6 L449.7,225.6 L450.6,225.6 L451.5,225.6 L452.3,225.6 L453.1,225.7 L453.8,225.7 L454.3,225.7 L454.8,225.7 L454.8,231.7 L454.3,231.7 L453.8,231.7 L453.1,231.7 L452.3,231.6 L451.5,231.6 L450.6,231.6 L449.7,231.6 L448.7,231.6 L447.8,231.5 L446.8,231.5 L445.9,231.5 L445.0,231.4 L444.1,231.3 L443.2,231.3 L442.3,231.2 L441.3,231.1 L440.4,231.0 L439.4,230.9 L438.4,230.9 L437.5,230.8 L436.5,230.7 L435.6,230.6 L434.7,230.5 L433.8,230.4 L432.9,230.3 L432.0,230.2 L431.1,230.1 L430.2,230.0 L429.3,229.9 L428.5,229.8 L427.6,229.7 L426.8,229.6 L426.0,229.5 L425.2,229.4 L424.5,229.4 L423.9,229.4 L423.3,229.4 L422.8,229.5 L422.3,229.5 L421.9,229.6 L421.5,229.7 L421.1,229.8 L420.8,229.9 L420.5,230.0 L420.1,230.1 L419.8,230.3 L419.4,230.4 L419.0,230.6 L418.6,230.8 L418.2,231.0 L417.8,231.2 L417.3,231.4 L416.9,231.6 L416.5,231.9 L416.1,232.1 L415.7,232.4 L415.3,232.7 L414.8,233.0 L414.4,233.3 L414.0,233.6 L413.6,233.9 L413.2,234.3 L412.8,234.6 L412.3,234.9 L411.9,235.3 L411.5,235.7 L411.1,236.1 L410.7,236.5 L410.2,236.9 L409.8,237.3 L409.4,237.7 L409.0,238.2 L408.6,238.7 L408.2,239.2 L407.7,239.7 L407.3,240.2 L406.9,240.8 L406.5,241.3 L406.0,241.9 L405.6,242.4 L405.2,243.0 L404.8,243.6 L404.4,244.2 L404.0,244.8 L403.6,245.4 L403.2,246.0 L402.8,246.6 L402.4,247.3 L402.0,247.9 L401.7,248.5 L401.3,249.2 L400.9,249.8 L400.5,250.5 L400.2,251.2 L399.8,251.8 L399.5,252.5 L399.2,253.2 L398.8,254.0 L398.5,254.7 L398.1,255.6 L397.8,256.4 L397.4,257.2 L397.1,258.0 L396.8,258.7 L396.5,259.4 L396.3,260.0 L396.1,260.5 L395.9,260.9Z" fill="#f7a581" fill-opacity="0.5"/>
<path d="M395.9,257.9 L396.1,257.5 L396.3,257.0 L396.5,256.4 L396.8,255.7 L397.1,255.0 L397.4,254.2 L397.8,253.4 L398.1,252.6 L398.5,251.7 L398.8,251.0 L399.2,250.2 L399.5,249.5 L399.8,248.8 L400.2,248.2 L400.5,247.5 L400.9,246.8 L401.3,246.2 L401.7,245.5 L402.0,244.9 L402.4,244.3 L402.8,243.6 L403.2,243.0 L403.6,242.4 L404.0,241.8 L404.4,241.2 L404.8,240.6 L405.2,240.0 L405.6,239.4 L406.0,238.9 L406.5,238.3 L406.9,237.8 L407.3,237.2 L407.7,236.7 L408.2,236.2 L408.6,235.7 L409.0,235.2 L409.4,234.7 L409.8,234.3 L410.2,233.9 L410.7,233.5 L411.1,233.1 L411.5,232.7 L411.9,232.3 L412.3,231.9 L412.8,231.6 L413.2,231.3 L413.6,230.9 L414.0,230.6 L414.4,230.3 L414.8,230.0 L415.3,229.7 L415.7,229.4 L416.1,229.1 L416.5,228.9 L416.9,228.6 L417.3,228.4 L417.8,228.2 L418.2,228.0 L418.6,227.8 L419.0,227.6 L419.4,227.4 L419.8,227.3 L420.1,227.1 L420.5,227.0 L420.8,226.9 L421.1,226.8 L421.5,226.7 L421.9,226.6 L422.3,226.5 L422.8,226.5 L423.3,226.4 L423.9,226.4 L424.5,226.4 L425.2,226.4 L426.0,226.5 L426.8,226.6 L427.6,226.7 L428.5,226.8 L429.3,226.9 L430.2,227.0 L431.1,227.1 L432.0,227.2 L432.9,227.3 L433.8,227.4 L434.7,227.5 L435.6,227.6 L436.5,227.7 L437.5,227.8 L438.4,227.9 L439.4,227.9 L440.4,228.0 L441.3,228.1 L442.3,228.2 L443.2,228.3 L444.1,228.3 L445.0,228.4 L445.9,228.5 L446.8,228.5 L447.8,228.5 L448.7,228.6 L449.7,228.6 L450.6,228.6 L451.5,228.6 L452.3,228.6 L453.1,228.7 L453.8,228.7 L454.3,228.7 L454.8,228.7" fill="none" stroke="#f0885b" stroke-width="2.0" stroke-linecap="round" stroke-linejoin="round"/>
<g fill="#f6a27c" fill-opacity="0.6"><circle cx="396.3" cy="328.7" r="1.75"/><circle cx="398.3" cy="333.9" r="1.75"/><circle cx="400.6" cy="332.9" r="1.75"/><circle cx="401.7" cy="339.1" r="1.75"/><circle cx="404.3" cy="337.4" r="1.75"/><circle cx="405.6" cy="336.1" r="1.75"/><circle cx="406.8" cy="332.5" r="1.75"/><circle cx="409.0" cy="330.3" r="1.75"/><circle cx="410.9" cy="338.1" r="1.75"/><circle cx="411.4" cy="338.8" r="1.75"/><circle cx="413.3" cy="341.2" r="1.75"/><circle cx="416.0" cy="323.5" r="1.75"/><circle cx="416.9" cy="325.0" r="1.75"/><circle cx="418.7" cy="317.8" r="1.75"/><circle cx="421.0" cy="318.0" r="1.75"/><circle cx="422.4" cy="311.9" r="1.75"/><circle cx="424.2" cy="318.6" r="1.75"/><circle cx="425.2" cy="326.3" r="1.75"/><circle cx="426.8" cy="323.9" r="1.75"/><circle cx="428.2" cy="309.4" r="1.75"/><circle cx="430.0" cy="315.3" r="1.75"/><circle cx="431.5" cy="318.4" r="1.75"/><circle cx="433.2" cy="317.7" r="1.75"/><circle cx="436.1" cy="312.5" r="1.75"/><circle cx="437.6" cy="305.5" r="1.75"/><circle cx="438.2" cy="309.7" r="1.75"/><circle cx="439.9" cy="316.7" r="1.75"/><circle cx="442.1" cy="306.4" r="1.75"/><circle cx="443.5" cy="312.1" r="1.75"/><circle cx="445.7" cy="300.0" r="1.75"/><circle cx="447.5" cy="297.9" r="1.75"/><circle cx="448.3" cy="308.6" r="1.75"/><circle cx="451.0" cy="301.9" r="1.75"/><circle cx="452.0" cy="292.4" r="1.75"/><circle cx="454.2" cy="296.3" r="1.75"/><circle cx="455.2" cy="293.0" r="1.75"/><circle cx="433.0" cy="291.5" r="1.75"/><circle cx="431.5" cy="344.0" r="1.75"/><circle cx="430.2" cy="300.5" r="1.75"/><circle cx="451.8" cy="318.5" r="1.75"/><circle cx="395.5" cy="353.0" r="1.75"/></g>
<path d="M396.3,335.5 L426.4,315.4 L456.5,291.3 L456.5,300.5 L426.4,320.6 L396.3,344.7Z" fill="#f7a581" fill-opacity="0.6"/>
<line x1="396.3" y1="340.1" x2="456.5" y2="295.9" stroke="#f0885b" stroke-width="1.8" stroke-linecap="round"/>
<text font-size="4.9" fill="#333" x="396.5" y="356.3" textLength="43.6" lengthAdjust="spacingAndGlyphs"><tspan font-style="italic">y</tspan> = 1.56 + 0.0027<tspan font-style="italic">x</tspan></text>
<text font-size="4.9" fill="#333" x="396.5" y="362.3" textLength="21.8" lengthAdjust="spacingAndGlyphs"><tspan font-style="italic">R</tspan><tspan font-size="3.2" dy="-1.7">2</tspan><tspan dy="1.7"> = 0.69</tspan></text>
<text font-size="4.9" fill="#333" x="396.5" y="368.3" textLength="23.2" lengthAdjust="spacingAndGlyphs"><tspan font-style="italic">P</tspan> &lt; 0.001</text>
<text x="395.35" y="382.38" font-size="6.9" text-anchor="middle" fill="#444" >0</text>
<text x="419.11" y="382.38" font-size="6.9" text-anchor="middle" fill="#444" >200</text>
<text x="442.87" y="382.38" font-size="6.9" text-anchor="middle" fill="#444" >400</text>
<path d="M395.3,279.29999999999995V282.09999999999997 M395.3,371.5V374.3 M419.1,279.29999999999995V282.09999999999997 M419.1,371.5V374.3 M442.9,279.29999999999995V282.09999999999997 M442.9,371.5V374.3 " stroke="#6e6e6e" stroke-width="0.6" fill="none"/>
<rect x="463.90" y="179.1" width="71.35" height="13.70" fill="#8f9fc7"/>
<text x="499.52" y="188.78" font-size="6.9" text-anchor="middle" fill="#333" >T2</text>
<g fill="#7f93c6" fill-opacity="0.6"><circle cx="466.6" cy="241.1" r="1.75"/><circle cx="468.8" cy="229.5" r="1.75"/><circle cx="470.8" cy="231.3" r="1.75"/><circle cx="472.5" cy="224.5" r="1.75"/><circle cx="475.3" cy="214.2" r="1.75"/><circle cx="476.1" cy="210.4" r="1.75"/><circle cx="478.6" cy="216.9" r="1.75"/><circle cx="481.2" cy="206.5" r="1.75"/><circle cx="481.8" cy="210.8" r="1.75"/><circle cx="483.9" cy="211.2" r="1.75"/><circle cx="487.0" cy="202.5" r="1.75"/><circle cx="488.0" cy="205.0" r="1.75"/><circle cx="490.7" cy="206.5" r="1.75"/><circle cx="492.5" cy="209.7" r="1.75"/><circle cx="494.7" cy="212.7" r="1.75"/><circle cx="496.1" cy="212.5" r="1.75"/><circle cx="497.4" cy="209.4" r="1.75"/><circle cx="499.3" cy="212.7" r="1.75"/><circle cx="501.3" cy="209.0" r="1.75"/><circle cx="503.1" cy="210.9" r="1.75"/><circle cx="504.7" cy="212.0" r="1.75"/><circle cx="506.9" cy="218.9" r="1.75"/><circle cx="509.0" cy="217.0" r="1.75"/><circle cx="511.3" cy="221.2" r="1.75"/><circle cx="512.4" cy="218.8" r="1.75"/><circle cx="515.1" cy="218.8" r="1.75"/><circle cx="517.2" cy="218.9" r="1.75"/><circle cx="519.2" cy="218.7" r="1.75"/><circle cx="520.6" cy="217.4" r="1.75"/><circle cx="523.4" cy="220.7" r="1.75"/><circle cx="524.3" cy="215.8" r="1.75"/><circle cx="526.4" cy="217.4" r="1.75"/><circle cx="529.0" cy="221.6" r="1.75"/><circle cx="529.9" cy="218.8" r="1.75"/><circle cx="466.9" cy="250.5" r="1.75"/><circle cx="467.6" cy="253.0" r="1.75"/><circle cx="509.5" cy="221.8" r="1.75"/><circle cx="514.8" cy="226.2" r="1.75"/><circle cx="479.0" cy="205.8" r="1.75"/><circle cx="486.0" cy="203.6" r="1.75"/></g>
<path d="M466.4,235.8 L466.5,235.4 L466.7,234.9 L466.9,234.3 L467.2,233.6 L467.4,232.9 L467.7,232.1 L468.0,231.3 L468.3,230.5 L468.6,229.7 L468.9,228.9 L469.2,228.2 L469.5,227.5 L469.8,226.9 L470.1,226.2 L470.4,225.6 L470.7,225.0 L471.0,224.4 L471.4,223.7 L471.7,223.1 L472.0,222.5 L472.3,222.0 L472.7,221.4 L473.0,220.8 L473.3,220.2 L473.6,219.6 L473.9,219.0 L474.2,218.5 L474.5,217.9 L474.8,217.3 L475.1,216.7 L475.5,216.2 L475.8,215.6 L476.1,215.1 L476.4,214.6 L476.7,214.1 L477.0,213.6 L477.3,213.1 L477.6,212.7 L477.9,212.3 L478.3,211.9 L478.6,211.5 L478.9,211.1 L479.2,210.7 L479.5,210.4 L479.9,210.0 L480.2,209.7 L480.5,209.4 L480.8,209.1 L481.1,208.8 L481.4,208.5 L481.7,208.3 L482.0,208.0 L482.3,207.8 L482.7,207.5 L483.0,207.3 L483.3,207.1 L483.6,206.9 L483.9,206.7 L484.2,206.6 L484.5,206.4 L484.8,206.3 L485.1,206.1 L485.3,206.0 L485.6,205.9 L485.9,205.8 L486.1,205.7 L486.4,205.6 L486.7,205.6 L487.0,205.5 L487.4,205.5 L487.8,205.5 L488.2,205.5 L488.7,205.5 L489.2,205.6 L489.7,205.6 L490.3,205.6 L490.9,205.7 L491.5,205.8 L492.2,205.9 L492.8,206.0 L493.5,206.2 L494.2,206.4 L494.9,206.6 L495.6,206.8 L496.3,207.1 L497.1,207.4 L497.8,207.8 L498.6,208.1 L499.4,208.6 L500.2,209.0 L501.1,209.4 L501.9,209.9 L502.8,210.3 L503.7,210.7 L504.6,211.1 L505.5,211.4 L506.4,211.7 L507.4,212.0 L508.4,212.3 L509.4,212.6 L510.4,212.9 L511.5,213.1 L512.5,213.4 L513.6,213.6 L514.7,213.9 L515.7,214.1 L516.8,214.3 L517.9,214.5 L519.0,214.7 L520.3,214.9 L521.5,215.0 L522.8,215.2 L524.2,215.3 L525.5,215.4 L526.7,215.6 L527.9,215.7 L529.0,215.8 L530.0,215.9 L530.8,215.9 L531.5,216.0 L531.5,222.0 L530.8,221.9 L530.0,221.9 L529.0,221.8 L527.9,221.7 L526.7,221.6 L525.5,221.4 L524.2,221.3 L522.8,221.2 L521.5,221.0 L520.3,220.9 L519.0,220.7 L517.9,220.5 L516.8,220.3 L515.7,220.1 L514.7,219.9 L513.6,219.6 L512.5,219.4 L511.5,219.1 L510.4,218.9 L509.4,218.6 L508.4,218.3 L507.4,218.0 L506.4,217.7 L505.5,217.4 L504.6,217.1 L503.7,216.7 L502.8,216.3 L501.9,215.9 L501.1,215.4 L500.2,215.0 L499.4,214.6 L498.6,214.1 L497.8,213.8 L497.1,213.4 L496.3,213.1 L495.6,212.8 L494.9,212.6 L494.2,212.4 L493.5,212.2 L492.8,212.0 L492.2,211.9 L491.5,211.8 L490.9,211.7 L490.3,211.6 L489.7,211.6 L489.2,211.6 L488.7,211.5 L488.2,211.5 L487.8,211.5 L487.4,211.5 L487.0,211.5 L486.7,211.6 L486.4,211.6 L486.1,211.7 L485.9,211.8 L485.6,211.9 L485.3,212.0 L485.1,212.1 L484.8,212.3 L484.5,212.4 L484.2,212.6 L483.9,212.7 L483.6,212.9 L483.3,213.1 L483.0,213.3 L482.7,213.5 L482.3,213.8 L482.0,214.0 L481.7,214.3 L481.4,214.5 L481.1,214.8 L480.8,215.1 L480.5,215.4 L480.2,215.7 L479.9,216.0 L479.5,216.4 L479.2,216.7 L478.9,217.1 L478.6,217.5 L478.3,217.9 L477.9,218.3 L477.6,218.7 L477.3,219.1 L477.0,219.6 L476.7,220.1 L476.4,220.6 L476.1,221.1 L475.8,221.6 L475.5,222.2 L475.1,222.7 L474.8,223.3 L474.5,223.9 L474.2,224.5 L473.9,225.0 L473.6,225.6 L473.3,226.2 L473.0,226.8 L472.7,227.4 L472.3,228.0 L472.0,228.5 L471.7,229.1 L471.4,229.7 L471.0,230.4 L470.7,231.0 L470.4,231.6 L470.1,232.2 L469.8,232.9 L469.5,233.5 L469.2,234.2 L468.9,234.9 L468.6,235.7 L468.3,236.5 L468.0,237.3 L467.7,238.1 L467.4,238.9 L467.2,239.6 L466.9,240.3 L466.7,240.9 L466.5,241.4 L466.4,241.8Z" fill="#6f8bc4" fill-opacity="0.5"/>
<path d="M466.4,238.8 L466.5,238.4 L466.7,237.9 L466.9,237.3 L467.2,236.6 L467.4,235.9 L467.7,235.1 L468.0,234.3 L468.3,233.5 L468.6,232.7 L468.9,231.9 L469.2,231.2 L469.5,230.5 L469.8,229.9 L470.1,229.2 L470.4,228.6 L470.7,228.0 L471.0,227.4 L471.4,226.7 L471.7,226.1 L472.0,225.5 L472.3,225.0 L472.7,224.4 L473.0,223.8 L473.3,223.2 L473.6,222.6 L473.9,222.0 L474.2,221.5 L474.5,220.9 L474.8,220.3 L475.1,219.7 L475.5,219.2 L475.8,218.6 L476.1,218.1 L476.4,217.6 L476.7,217.1 L477.0,216.6 L477.3,216.1 L477.6,215.7 L477.9,215.3 L478.3,214.9 L478.6,214.5 L478.9,214.1 L479.2,213.7 L479.5,213.4 L479.9,213.0 L480.2,212.7 L480.5,212.4 L480.8,212.1 L481.1,211.8 L481.4,211.5 L481.7,211.3 L482.0,211.0 L482.3,210.8 L482.7,210.5 L483.0,210.3 L483.3,210.1 L483.6,209.9 L483.9,209.7 L484.2,209.6 L484.5,209.4 L484.8,209.3 L485.1,209.1 L485.3,209.0 L485.6,208.9 L485.9,208.8 L486.1,208.7 L486.4,208.6 L486.7,208.6 L487.0,208.5 L487.4,208.5 L487.8,208.5 L488.2,208.5 L488.7,208.5 L489.2,208.6 L489.7,208.6 L490.3,208.6 L490.9,208.7 L491.5,208.8 L492.2,208.9 L492.8,209.0 L493.5,209.2 L494.2,209.4 L494.9,209.6 L495.6,209.8 L496.3,210.1 L497.1,210.4 L497.8,210.8 L498.6,211.1 L499.4,211.6 L500.2,212.0 L501.1,212.4 L501.9,212.9 L502.8,213.3 L503.7,213.7 L504.6,214.1 L505.5,214.4 L506.4,214.7 L507.4,215.0 L508.4,215.3 L509.4,215.6 L510.4,215.9 L511.5,216.1 L512.5,216.4 L513.6,216.6 L514.7,216.9 L515.7,217.1 L516.8,217.3 L517.9,217.5 L519.0,217.7 L520.3,217.9 L521.5,218.0 L522.8,218.2 L524.2,218.3 L525.5,218.4 L526.7,218.6 L527.9,218.7 L529.0,218.8 L530.0,218.9 L530.8,218.9 L531.5,219.0" fill="none" stroke="#3c63a6" stroke-width="2.0" stroke-linecap="round" stroke-linejoin="round"/>
<g fill="#7f93c6" fill-opacity="0.6"><circle cx="468.6" cy="326.4" r="1.75"/><circle cx="470.7" cy="324.8" r="1.75"/><circle cx="471.8" cy="321.4" r="1.75"/><circle cx="474.2" cy="332.1" r="1.75"/><circle cx="475.4" cy="322.7" r="1.75"/><circle cx="477.4" cy="321.3" r="1.75"/><circle cx="479.3" cy="318.5" r="1.75"/><circle cx="481.1" cy="322.9" r="1.75"/><circle cx="482.5" cy="325.1" r="1.75"/><circle cx="484.2" cy="319.6" r="1.75"/><circle cx="486.4" cy="314.7" r="1.75"/><circle cx="488.1" cy="319.5" r="1.75"/><circle cx="490.4" cy="310.9" r="1.75"/><circle cx="491.2" cy="317.4" r="1.75"/><circle cx="494.2" cy="304.9" r="1.75"/><circle cx="494.7" cy="316.1" r="1.75"/><circle cx="497.8" cy="327.6" r="1.75"/><circle cx="499.1" cy="300.3" r="1.75"/><circle cx="501.2" cy="303.4" r="1.75"/><circle cx="502.2" cy="298.2" r="1.75"/><circle cx="504.2" cy="300.8" r="1.75"/><circle cx="505.7" cy="323.0" r="1.75"/><circle cx="507.6" cy="317.1" r="1.75"/><circle cx="509.6" cy="301.5" r="1.75"/><circle cx="511.1" cy="306.8" r="1.75"/><circle cx="514.0" cy="291.7" r="1.75"/><circle cx="514.5" cy="319.0" r="1.75"/><circle cx="516.3" cy="310.2" r="1.75"/><circle cx="519.3" cy="294.5" r="1.75"/><circle cx="520.7" cy="294.6" r="1.75"/><circle cx="522.6" cy="304.8" r="1.75"/><circle cx="524.3" cy="292.3" r="1.75"/><circle cx="525.9" cy="305.3" r="1.75"/><circle cx="527.8" cy="307.3" r="1.75"/><circle cx="529.0" cy="306.2" r="1.75"/><circle cx="531.1" cy="304.6" r="1.75"/><circle cx="466.8" cy="343.5" r="1.75"/><circle cx="467.5" cy="356.5" r="1.75"/><circle cx="494.0" cy="297.5" r="1.75"/><circle cx="528.5" cy="317.6" r="1.75"/></g>
<path d="M467.6,322.5 L500.0,309.5 L532.5,292.5 L532.5,301.7 L500.0,314.7 L467.6,331.7Z" fill="#6f8bc4" fill-opacity="0.6"/>
<line x1="467.6" y1="327.1" x2="532.5" y2="297.1" stroke="#3c63a6" stroke-width="1.8" stroke-linecap="round"/>
<text font-size="4.9" fill="#333" x="467.8" y="356.3" textLength="43.6" lengthAdjust="spacingAndGlyphs"><tspan font-style="italic">y</tspan> = 1.97 + 0.0017<tspan font-style="italic">x</tspan></text>
<text font-size="4.9" fill="#333" x="467.8" y="362.3" textLength="21.8" lengthAdjust="spacingAndGlyphs"><tspan font-style="italic">R</tspan><tspan font-size="3.2" dy="-1.7">2</tspan><tspan dy="1.7"> = 0.41</tspan></text>
<text font-size="4.9" fill="#333" x="467.8" y="368.3" textLength="23.2" lengthAdjust="spacingAndGlyphs"><tspan font-style="italic">P</tspan> &lt; 0.001</text>
<text x="466.60" y="382.38" font-size="6.9" text-anchor="middle" fill="#444" >0</text>
<text x="490.36" y="382.38" font-size="6.9" text-anchor="middle" fill="#444" >200</text>
<text x="514.12" y="382.38" font-size="6.9" text-anchor="middle" fill="#444" >400</text>
<path d="M466.6,279.29999999999995V282.09999999999997 M466.6,371.5V374.3 M490.4,279.29999999999995V282.09999999999997 M490.4,371.5V374.3 M514.1,279.29999999999995V282.09999999999997 M514.1,371.5V374.3 " stroke="#6e6e6e" stroke-width="0.6" fill="none"/>
<rect x="535.15" y="179.1" width="71.35" height="13.70" fill="#87a97d"/>
<text x="570.77" y="188.78" font-size="6.9" text-anchor="middle" fill="#333" >T3</text>
<g fill="#7da477" fill-opacity="0.6"><circle cx="539.4" cy="257.6" r="1.75"/><circle cx="540.3" cy="249.0" r="1.75"/><circle cx="542.2" cy="244.6" r="1.75"/><circle cx="543.8" cy="237.0" r="1.75"/><circle cx="545.0" cy="227.3" r="1.75"/><circle cx="546.5" cy="225.6" r="1.75"/><circle cx="548.9" cy="221.5" r="1.75"/><circle cx="550.7" cy="215.9" r="1.75"/><circle cx="552.0" cy="214.5" r="1.75"/><circle cx="553.4" cy="210.3" r="1.75"/><circle cx="555.8" cy="210.5" r="1.75"/><circle cx="557.5" cy="209.8" r="1.75"/><circle cx="558.8" cy="205.4" r="1.75"/><circle cx="560.7" cy="201.8" r="1.75"/><circle cx="561.7" cy="209.6" r="1.75"/><circle cx="562.9" cy="200.9" r="1.75"/><circle cx="565.3" cy="202.8" r="1.75"/><circle cx="566.4" cy="201.0" r="1.75"/><circle cx="568.5" cy="204.4" r="1.75"/><circle cx="569.5" cy="206.3" r="1.75"/><circle cx="571.8" cy="203.3" r="1.75"/><circle cx="573.6" cy="204.3" r="1.75"/><circle cx="574.3" cy="201.4" r="1.75"/><circle cx="576.0" cy="205.8" r="1.75"/><circle cx="577.3" cy="203.5" r="1.75"/><circle cx="580.1" cy="205.8" r="1.75"/><circle cx="581.3" cy="206.3" r="1.75"/><circle cx="583.1" cy="204.9" r="1.75"/><circle cx="583.8" cy="202.4" r="1.75"/><circle cx="585.8" cy="207.2" r="1.75"/><circle cx="588.1" cy="206.2" r="1.75"/><circle cx="589.7" cy="210.0" r="1.75"/><circle cx="590.3" cy="216.1" r="1.75"/><circle cx="592.3" cy="213.5" r="1.75"/><circle cx="561.0" cy="216.0" r="1.75"/><circle cx="577.5" cy="212.6" r="1.75"/><circle cx="577.0" cy="216.4" r="1.75"/><circle cx="540.0" cy="264.0" r="1.75"/><circle cx="541.5" cy="256.5" r="1.75"/></g>
<path d="M538.4,259.8 L538.5,259.3 L538.6,258.6 L538.7,257.8 L538.9,257.0 L539.0,256.0 L539.2,255.0 L539.4,254.0 L539.6,253.0 L539.8,251.9 L539.9,250.9 L540.1,249.9 L540.3,249.0 L540.5,248.1 L540.7,247.3 L540.8,246.5 L541.0,245.7 L541.2,244.9 L541.4,244.1 L541.6,243.2 L541.8,242.4 L542.0,241.6 L542.2,240.7 L542.4,239.8 L542.6,238.8 L542.8,237.8 L543.0,236.7 L543.3,235.6 L543.5,234.5 L543.7,233.4 L544.0,232.2 L544.2,231.0 L544.5,229.9 L544.7,228.7 L545.0,227.6 L545.2,226.5 L545.5,225.5 L545.8,224.5 L546.0,223.5 L546.2,222.6 L546.5,221.6 L546.7,220.7 L546.9,219.8 L547.2,218.9 L547.5,218.0 L547.8,217.1 L548.1,216.3 L548.4,215.4 L548.8,214.5 L549.2,213.6 L549.6,212.7 L550.1,211.8 L550.5,210.9 L551.0,210.0 L551.5,209.0 L552.0,208.2 L552.6,207.3 L553.1,206.5 L553.7,205.7 L554.3,205.0 L555.0,204.3 L555.7,203.7 L556.5,203.1 L557.3,202.5 L558.1,202.0 L559.0,201.5 L559.9,201.0 L560.8,200.6 L561.6,200.2 L562.5,199.8 L563.4,199.5 L564.2,199.2 L564.9,198.9 L565.6,198.7 L566.2,198.5 L566.9,198.3 L567.5,198.1 L568.0,198.0 L568.6,198.0 L569.2,197.9 L569.7,197.9 L570.3,197.9 L571.0,198.0 L571.6,198.1 L572.3,198.2 L573.0,198.4 L573.8,198.6 L574.6,198.8 L575.4,199.1 L576.2,199.3 L577.0,199.7 L577.9,200.0 L578.7,200.4 L579.6,200.9 L580.4,201.4 L581.3,201.9 L582.2,202.4 L583.1,203.0 L584.1,203.8 L585.2,204.6 L586.3,205.4 L587.3,206.3 L588.4,207.3 L589.5,208.2 L590.4,209.0 L591.4,209.8 L592.2,210.5 L592.9,211.1 L593.4,211.6 L593.4,217.6 L592.9,217.1 L592.2,216.5 L591.4,215.8 L590.4,215.0 L589.5,214.2 L588.4,213.3 L587.3,212.3 L586.3,211.4 L585.2,210.6 L584.1,209.8 L583.1,209.0 L582.2,208.4 L581.3,207.9 L580.4,207.4 L579.6,206.9 L578.7,206.4 L577.9,206.0 L577.0,205.7 L576.2,205.3 L575.4,205.1 L574.6,204.8 L573.8,204.6 L573.0,204.4 L572.3,204.2 L571.6,204.1 L571.0,204.0 L570.3,203.9 L569.7,203.9 L569.2,203.9 L568.6,204.0 L568.0,204.0 L567.5,204.1 L566.9,204.3 L566.2,204.5 L565.6,204.7 L564.9,204.9 L564.2,205.2 L563.4,205.5 L562.5,205.8 L561.6,206.2 L560.8,206.6 L559.9,207.0 L559.0,207.5 L558.1,208.0 L557.3,208.5 L556.5,209.1 L555.7,209.7 L555.0,210.3 L554.3,211.0 L553.7,211.7 L553.1,212.5 L552.6,213.3 L552.0,214.2 L551.5,215.0 L551.0,216.0 L550.5,216.9 L550.1,217.8 L549.6,218.7 L549.2,219.6 L548.8,220.5 L548.4,221.4 L548.1,222.3 L547.8,223.1 L547.5,224.0 L547.2,224.9 L546.9,225.8 L546.7,226.7 L546.5,227.6 L546.2,228.6 L546.0,229.5 L545.8,230.5 L545.5,231.5 L545.2,232.5 L545.0,233.6 L544.7,234.7 L544.5,235.9 L544.2,237.0 L544.0,238.2 L543.7,239.4 L543.5,240.5 L543.3,241.6 L543.0,242.7 L542.8,243.8 L542.6,244.8 L542.4,245.8 L542.2,246.7 L542.0,247.6 L541.8,248.4 L541.6,249.2 L541.4,250.1 L541.2,250.9 L541.0,251.7 L540.8,252.5 L540.7,253.3 L540.5,254.1 L540.3,255.0 L540.1,255.9 L539.9,256.9 L539.8,257.9 L539.6,259.0 L539.4,260.0 L539.2,261.0 L539.0,262.0 L538.9,263.0 L538.7,263.8 L538.6,264.6 L538.5,265.3 L538.4,265.8Z" fill="#5f9a62" fill-opacity="0.5"/>
<path d="M538.4,262.8 L538.5,262.3 L538.6,261.6 L538.7,260.8 L538.9,260.0 L539.0,259.0 L539.2,258.0 L539.4,257.0 L539.6,256.0 L539.8,254.9 L539.9,253.9 L540.1,252.9 L540.3,252.0 L540.5,251.1 L540.7,250.3 L540.8,249.5 L541.0,248.7 L541.2,247.9 L541.4,247.1 L541.6,246.2 L541.8,245.4 L542.0,244.6 L542.2,243.7 L542.4,242.8 L542.6,241.8 L542.8,240.8 L543.0,239.7 L543.3,238.6 L543.5,237.5 L543.7,236.4 L544.0,235.2 L544.2,234.0 L544.5,232.9 L544.7,231.7 L545.0,230.6 L545.2,229.5 L545.5,228.5 L545.8,227.5 L546.0,226.5 L546.2,225.6 L546.5,224.6 L546.7,223.7 L546.9,222.8 L547.2,221.9 L547.5,221.0 L547.8,220.1 L548.1,219.3 L548.4,218.4 L548.8,217.5 L549.2,216.6 L549.6,215.7 L550.1,214.8 L550.5,213.9 L551.0,213.0 L551.5,212.0 L552.0,211.2 L552.6,210.3 L553.1,209.5 L553.7,208.7 L554.3,208.0 L555.0,207.3 L555.7,206.7 L556.5,206.1 L557.3,205.5 L558.1,205.0 L559.0,204.5 L559.9,204.0 L560.8,203.6 L561.6,203.2 L562.5,202.8 L563.4,202.5 L564.2,202.2 L564.9,201.9 L565.6,201.7 L566.2,201.5 L566.9,201.3 L567.5,201.1 L568.0,201.0 L568.6,201.0 L569.2,200.9 L569.7,200.9 L570.3,200.9 L571.0,201.0 L571.6,201.1 L572.3,201.2 L573.0,201.4 L573.8,201.6 L574.6,201.8 L575.4,202.1 L576.2,202.3 L577.0,202.7 L577.9,203.0 L578.7,203.4 L579.6,203.9 L580.4,204.4 L581.3,204.9 L582.2,205.4 L583.1,206.0 L584.1,206.8 L585.2,207.6 L586.3,208.4 L587.3,209.3 L588.4,210.3 L589.5,211.2 L590.4,212.0 L591.4,212.8 L592.2,213.5 L592.9,214.1 L593.4,214.6" fill="none" stroke="#1f6d31" stroke-width="2.0" stroke-linecap="round" stroke-linejoin="round"/>
<g fill="#7da477" fill-opacity="0.6"><circle cx="539.8" cy="341.2" r="1.75"/><circle cx="541.0" cy="316.5" r="1.75"/><circle cx="542.3" cy="336.4" r="1.75"/><circle cx="543.6" cy="343.6" r="1.75"/><circle cx="545.8" cy="321.6" r="1.75"/><circle cx="546.7" cy="329.4" r="1.75"/><circle cx="548.7" cy="322.3" r="1.75"/><circle cx="550.3" cy="331.3" r="1.75"/><circle cx="551.4" cy="327.5" r="1.75"/><circle cx="552.7" cy="328.3" r="1.75"/><circle cx="554.8" cy="334.3" r="1.75"/><circle cx="556.7" cy="321.4" r="1.75"/><circle cx="557.3" cy="323.0" r="1.75"/><circle cx="558.6" cy="313.0" r="1.75"/><circle cx="560.1" cy="324.1" r="1.75"/><circle cx="562.1" cy="317.7" r="1.75"/><circle cx="563.5" cy="327.4" r="1.75"/><circle cx="565.0" cy="322.7" r="1.75"/><circle cx="567.0" cy="320.0" r="1.75"/><circle cx="568.9" cy="314.0" r="1.75"/><circle cx="569.6" cy="312.2" r="1.75"/><circle cx="571.6" cy="309.8" r="1.75"/><circle cx="573.4" cy="309.4" r="1.75"/><circle cx="574.2" cy="317.2" r="1.75"/><circle cx="575.4" cy="314.8" r="1.75"/><circle cx="577.3" cy="314.7" r="1.75"/><circle cx="579.2" cy="321.6" r="1.75"/><circle cx="580.9" cy="298.8" r="1.75"/><circle cx="581.8" cy="302.0" r="1.75"/><circle cx="583.7" cy="303.4" r="1.75"/><circle cx="585.0" cy="300.9" r="1.75"/><circle cx="587.0" cy="296.9" r="1.75"/><circle cx="587.6" cy="314.9" r="1.75"/><circle cx="589.3" cy="302.8" r="1.75"/><circle cx="590.9" cy="302.7" r="1.75"/><circle cx="592.9" cy="299.7" r="1.75"/><circle cx="539.5" cy="364.0" r="1.75"/><circle cx="540.5" cy="356.0" r="1.75"/><circle cx="589.6" cy="318.0" r="1.75"/></g>
<path d="M538.8,335.4 L566.2,314.3 L593.7,289.2 L593.7,298.4 L566.2,319.5 L538.8,344.6Z" fill="#5f9a62" fill-opacity="0.6"/>
<line x1="538.8" y1="340.0" x2="593.7" y2="293.8" stroke="#1f6d31" stroke-width="1.8" stroke-linecap="round"/>
<text font-size="4.9" fill="#333" x="539.0" y="356.3" textLength="43.6" lengthAdjust="spacingAndGlyphs"><tspan font-style="italic">y</tspan> = 1.56 + 0.0031<tspan font-style="italic">x</tspan></text>
<text font-size="4.9" fill="#333" x="539.0" y="362.3" textLength="21.8" lengthAdjust="spacingAndGlyphs"><tspan font-style="italic">R</tspan><tspan font-size="3.2" dy="-1.7">2</tspan><tspan dy="1.7"> = 0.67</tspan></text>
<text font-size="4.9" fill="#333" x="539.0" y="368.3" textLength="23.2" lengthAdjust="spacingAndGlyphs"><tspan font-style="italic">P</tspan> &lt; 0.001</text>
<text x="537.85" y="382.38" font-size="6.9" text-anchor="middle" fill="#444" >0</text>
<text x="561.61" y="382.38" font-size="6.9" text-anchor="middle" fill="#444" >200</text>
<text x="585.37" y="382.38" font-size="6.9" text-anchor="middle" fill="#444" >400</text>
<path d="M537.9,279.29999999999995V282.09999999999997 M537.9,371.5V374.3 M561.6,279.29999999999995V282.09999999999997 M561.6,371.5V374.3 M585.4,279.29999999999995V282.09999999999997 M585.4,371.5V374.3 " stroke="#6e6e6e" stroke-width="0.6" fill="none"/>
<path d="M392.65,192.8V278.9 M392.65,285.8V371.1" stroke="#777779" stroke-width="1.3" fill="none"/>
<path d="M463.90,192.8V278.9 M463.90,285.8V371.1" stroke="#777779" stroke-width="1.3" fill="none"/>
<path d="M535.15,192.8V278.9 M535.15,285.8V371.1" stroke="#777779" stroke-width="1.3" fill="none"/>
<text x="27.00" y="212.58" font-size="6.9" text-anchor="end" fill="#444" >150</text>
<text x="27.00" y="237.78" font-size="6.9" text-anchor="end" fill="#444" >100</text>
<text x="27.00" y="262.88" font-size="6.9" text-anchor="end" fill="#444" >50</text>
<text x="27.00" y="296.78" font-size="6.9" text-anchor="end" fill="#444" >3.0</text>
<text x="27.00" y="312.93" font-size="6.9" text-anchor="end" fill="#444" >2.5</text>
<text x="27.00" y="329.08" font-size="6.9" text-anchor="end" fill="#444" >2.0</text>
<text x="27.00" y="345.23" font-size="6.9" text-anchor="end" fill="#444" >1.5</text>
<text x="27.00" y="361.38" font-size="6.9" text-anchor="end" fill="#444" >1.0</text>
<path d="M30.4,210.1H32.7 M30.4,235.3H32.7 M30.4,260.4H32.7 M30.4,294.3H32.7 M30.4,310.4H32.7 M30.4,326.6H32.7 M30.4,342.8H32.7 M30.4,358.9H32.7 " stroke="#6e6e6e" stroke-width="0.6" fill="none"/>
<text font-size="7.6" text-anchor="start" fill="#333333" textLength="65.0" lengthAdjust="spacingAndGlyphs" transform="translate(10.00 269.20) rotate(-90)" >Cell volume (µm<tspan font-size="4.8" dy="-2.8">3</tspan><tspan dy="2.8">)</tspan></text>
<text font-size="7.6" text-anchor="start" fill="#333333" textLength="59.5" lengthAdjust="spacingAndGlyphs" transform="translate(10.00 358.20) rotate(-90)" >Growth rate (d<tspan font-size="4.8" dy="-2.8">−1</tspan><tspan dy="2.8">)</tspan></text>
<text x="320.00" y="392.88" font-size="6.9" text-anchor="middle" fill="#333333" textLength="42.0" lengthAdjust="spacingAndGlyphs" >Generations</text>
<text x="-0.40" y="413.95" font-size="11.8" text-anchor="start" fill="#111" font-weight="bold" stroke="#111" stroke-width="0.35">c</text>
<text x="163.50" y="405.58" font-size="6.6" text-anchor="middle" fill="#333333" textLength="24.5" lengthAdjust="spacingAndGlyphs" >20.0 °C</text>
<text x="474.20" y="405.58" font-size="6.6" text-anchor="middle" fill="#333333" textLength="24.5" lengthAdjust="spacingAndGlyphs" >28.5 °C</text>
<rect x="33.5" y="423.2" width="264.10" height="109.10" fill="#fff" stroke="#bdbdbd" stroke-width="0.9"/>
<rect x="33.5" y="408.2" width="63.70" height="15.00" fill="#a8a9ac"/>
<text x="66.50" y="418.18" font-size="6.9" text-anchor="middle" fill="#333" >D</text>
<path d="M97.0,424.2 L96.7,424.2 L96.7,424.8 L96.7,425.4 L96.7,426.0 L96.7,426.6 L96.7,427.2 L96.7,427.8 L96.7,428.4 L96.7,429.0 L96.7,429.6 L96.7,430.2 L96.7,430.8 L96.7,431.4 L96.7,432.0 L96.7,432.6 L96.7,433.2 L96.7,433.8 L96.7,434.4 L96.7,435.0 L96.7,435.6 L96.7,436.2 L96.7,436.8 L96.7,437.4 L96.7,438.0 L96.7,438.6 L96.7,439.2 L96.7,439.8 L96.7,440.4 L96.7,441.0 L96.7,441.6 L96.7,442.2 L96.7,442.8 L96.7,443.4 L96.7,444.0 L96.7,444.6 L96.7,445.2 L96.7,445.8 L96.7,446.4 L96.7,447.0 L96.7,447.6 L96.7,448.2 L96.7,448.8 L96.6,449.4 L96.6,450.0 L96.6,450.6 L96.6,451.2 L96.5,451.8 L96.5,452.4 L96.4,453.0 L96.3,453.6 L96.2,454.2 L96.1,454.8 L96.0,455.4 L95.9,456.0 L95.7,456.6 L95.6,457.2 L95.5,457.8 L95.3,458.4 L95.2,459.0 L95.0,459.6 L94.9,460.2 L94.8,460.8 L94.8,461.4 L94.7,462.0 L94.7,462.6 L94.7,463.2 L94.7,463.8 L94.8,464.4 L94.9,465.0 L95.0,465.6 L95.1,466.2 L95.3,466.8 L95.4,467.4 L95.6,468.0 L95.7,468.6 L95.8,469.2 L95.9,469.8 L96.1,470.4 L96.2,471.0 L96.2,471.6 L96.3,472.2 L96.3,472.8 L96.3,473.4 L96.3,474.0 L96.3,474.6 L96.2,475.2 L96.1,475.8 L96.0,476.4 L95.8,477.0 L95.6,477.6 L95.3,478.2 L95.0,478.8 L94.7,479.4 L94.3,480.0 L93.8,480.6 L93.2,481.2 L92.6,481.8 L92.0,482.4 L91.3,483.0 L90.6,483.6 L89.8,484.2 L89.0,484.8 L88.3,485.4 L87.6,486.0 L86.9,486.6 L86.2,487.2 L85.7,487.8 L85.2,488.4 L84.9,489.0 L84.6,489.6 L84.5,490.2 L84.5,490.8 L84.7,491.4 L85.0,492.0 L85.3,492.6 L85.8,493.2 L86.4,493.8 L87.1,494.4 L87.8,495.0 L88.5,495.6 L89.3,496.2 L90.1,496.8 L90.8,497.4 L91.5,498.0 L92.2,498.6 L92.8,499.2 L93.4,499.8 L93.9,500.4 L94.4,501.0 L94.8,501.6 L95.1,502.2 L95.4,502.8 L95.5,503.4 L95.5,504.0 L95.4,504.6 L94.9,505.2 L94.1,505.8 L92.8,506.4 L90.8,507.0 L87.9,507.6 L84.0,508.2 L79.2,508.8 L73.4,509.4 L66.8,510.0 L59.9,510.6 L53.1,511.2 L46.8,511.8 L41.5,512.4 L37.3,513.0 L40.0,513.6 L44.7,514.2 L50.5,514.8 L56.9,515.4 L63.5,516.0 L70.1,516.6 L76.2,517.2 L81.4,517.8 L85.8,518.4 L89.2,519.0 L91.7,519.6 L93.5,520.2 L94.8,520.8 L95.5,521.4 L96.0,522.0 L96.3,522.6 L96.5,523.2 L96.6,523.8 L96.6,524.4 L96.7,525.0 L96.7,525.6 L96.7,526.2 L96.7,526.8 L96.7,527.4 L96.7,528.0 L96.7,528.6 L96.7,529.2 L97.0,529.6Z" fill="#a8a9ac" stroke="#55555a" stroke-opacity="0.55" stroke-width="0.3" stroke-linejoin="round"/>
<rect x="97.1" y="408.2" width="66.60" height="15.00" fill="#fbb597"/>
<text x="130.35" y="418.18" font-size="6.9" text-anchor="middle" fill="#333" >T1</text>
<path d="M163.4,424.2 L163.1,424.2 L163.1,424.8 L163.1,425.4 L163.1,426.0 L163.1,426.6 L163.1,427.2 L163.1,427.8 L163.1,428.4 L163.1,429.0 L163.1,429.6 L163.0,430.2 L162.9,430.8 L162.8,431.4 L162.7,432.0 L162.5,432.6 L162.3,433.2 L161.9,433.8 L161.5,434.4 L161.1,435.0 L160.5,435.6 L159.8,436.2 L159.1,436.8 L158.2,437.4 L157.4,438.0 L156.4,438.6 L155.5,439.2 L154.7,439.8 L153.9,440.4 L153.2,441.0 L152.7,441.6 L152.3,442.2 L152.2,442.8 L152.2,443.4 L152.4,444.0 L152.8,444.6 L153.3,445.2 L153.9,445.8 L154.5,446.4 L155.1,447.0 L155.6,447.6 L156.1,448.2 L156.4,448.8 L156.6,449.4 L156.7,450.0 L156.6,450.6 L156.4,451.2 L156.1,451.8 L155.7,452.4 L155.3,453.0 L154.9,453.6 L154.5,454.2 L154.1,454.8 L153.8,455.4 L153.7,456.0 L153.6,456.6 L153.6,457.2 L153.8,457.8 L154.1,458.4 L154.4,459.0 L154.8,459.6 L155.3,460.2 L155.8,460.8 L156.3,461.4 L156.7,462.0 L157.2,462.6 L157.6,463.2 L158.0,463.8 L158.3,464.4 L158.6,465.0 L158.8,465.6 L159.0,466.2 L159.1,466.8 L159.2,467.4 L159.3,468.0 L159.4,468.6 L159.5,469.2 L159.6,469.8 L159.7,470.4 L159.8,471.0 L159.9,471.6 L160.0,472.2 L160.2,472.8 L160.3,473.4 L160.5,474.0 L160.7,474.6 L160.8,475.2 L161.0,475.8 L161.1,476.4 L161.2,477.0 L161.3,477.6 L161.3,478.2 L161.2,478.8 L161.0,479.4 L160.5,480.0 L159.8,480.6 L158.7,481.2 L157.2,481.8 L155.2,482.4 L152.7,483.0 L149.5,483.6 L145.7,484.2 L141.3,484.8 L136.4,485.4 L131.2,486.0 L125.8,486.6 L120.6,487.2 L115.6,487.8 L111.0,488.4 L106.9,489.0 L103.2,489.6 L105.5,490.2 L108.6,490.8 L111.7,491.4 L114.9,492.0 L118.3,492.6 L121.9,493.2 L125.6,493.8 L129.4,494.4 L133.2,495.0 L136.9,495.6 L140.4,496.2 L143.8,496.8 L146.8,497.4 L149.6,498.0 L152.0,498.6 L154.2,499.2 L156.0,499.8 L157.5,500.4 L158.8,501.0 L159.8,501.6 L160.6,502.2 L161.3,502.8 L161.8,503.4 L162.2,504.0 L162.4,504.6 L162.6,505.2 L162.8,505.8 L162.9,506.4 L163.0,507.0 L163.0,507.6 L163.1,508.2 L163.1,508.8 L163.1,509.4 L163.1,510.0 L163.1,510.6 L163.1,511.2 L163.1,511.8 L163.1,512.4 L163.1,513.0 L163.1,513.6 L163.1,514.2 L163.1,514.8 L163.1,515.4 L163.1,516.0 L163.1,516.6 L163.1,517.2 L163.1,517.8 L163.1,518.4 L163.1,519.0 L163.1,519.6 L163.1,520.2 L163.1,520.8 L163.1,521.4 L163.1,522.0 L163.1,522.6 L163.1,523.2 L163.1,523.8 L163.1,524.4 L163.1,525.0 L163.1,525.6 L163.1,526.2 L163.1,526.8 L163.1,527.4 L163.1,528.0 L163.1,528.6 L163.1,529.2 L163.4,529.6Z" fill="#fbb597" stroke="#55555a" stroke-opacity="0.55" stroke-width="0.3" stroke-linejoin="round"/>
<rect x="163.6" y="408.2" width="66.20" height="15.00" fill="#8f9fc7"/>
<text x="196.65" y="418.18" font-size="6.9" text-anchor="middle" fill="#333" >T2</text>
<path d="M229.6,424.2 L229.2,424.2 L229.2,424.8 L229.1,425.4 L229.1,426.0 L229.0,426.6 L229.0,427.2 L228.9,427.8 L228.8,428.4 L228.6,429.0 L228.5,429.6 L228.3,430.2 L228.1,430.8 L227.8,431.4 L227.5,432.0 L227.2,432.6 L226.9,433.2 L226.5,433.8 L226.1,434.4 L225.6,435.0 L225.2,435.6 L224.7,436.2 L224.3,436.8 L223.9,437.4 L223.5,438.0 L223.1,438.6 L222.8,439.2 L222.5,439.8 L222.3,440.4 L222.1,441.0 L222.0,441.6 L221.9,442.2 L221.8,442.8 L221.7,443.4 L221.7,444.0 L221.6,444.6 L221.6,445.2 L221.4,445.8 L221.3,446.4 L221.1,447.0 L220.8,447.6 L220.4,448.2 L220.0,448.8 L219.6,449.4 L219.1,450.0 L218.6,450.6 L218.0,451.2 L217.5,451.8 L217.0,452.4 L216.5,453.0 L216.2,453.6 L215.8,454.2 L215.6,454.8 L215.6,455.4 L215.6,456.0 L215.7,456.6 L216.0,457.2 L216.4,457.8 L216.9,458.4 L217.4,459.0 L218.1,459.6 L218.8,460.2 L219.6,460.8 L220.3,461.4 L221.1,462.0 L221.9,462.6 L222.6,463.2 L223.3,463.8 L224.0,464.4 L224.6,465.0 L225.1,465.6 L225.6,466.2 L226.0,466.8 L226.3,467.4 L226.6,468.0 L226.8,468.6 L227.0,469.2 L227.1,469.8 L227.2,470.4 L227.3,471.0 L227.4,471.6 L227.4,472.2 L227.4,472.8 L227.5,473.4 L227.5,474.0 L227.5,474.6 L227.6,475.2 L227.6,475.8 L227.7,476.4 L227.7,477.0 L227.7,477.6 L227.7,478.2 L227.6,478.8 L227.4,479.4 L227.1,480.0 L226.7,480.6 L226.1,481.2 L225.2,481.8 L224.0,482.4 L222.4,483.0 L220.5,483.6 L218.0,484.2 L215.1,484.8 L211.7,485.4 L207.8,486.0 L203.6,486.6 L199.1,487.2 L194.5,487.8 L189.8,488.4 L185.3,489.0 L181.0,489.6 L177.1,490.2 L173.4,490.8 L169.9,491.4 L171.1,492.0 L174.5,492.6 L178.1,493.2 L181.9,493.8 L186.1,494.4 L190.4,495.0 L194.8,495.6 L199.3,496.2 L203.6,496.8 L207.7,497.4 L211.4,498.0 L214.8,498.6 L217.7,499.2 L220.2,499.8 L222.3,500.4 L224.0,501.0 L225.4,501.6 L226.4,502.2 L227.3,502.8 L227.8,503.4 L228.3,504.0 L228.6,504.6 L228.8,505.2 L229.0,505.8 L229.1,506.4 L229.1,507.0 L229.2,507.6 L229.2,508.2 L229.2,508.8 L229.2,509.4 L229.2,510.0 L229.2,510.6 L229.2,511.2 L229.2,511.8 L229.2,512.4 L229.2,513.0 L229.2,513.6 L229.2,514.2 L229.2,514.8 L229.2,515.4 L229.2,516.0 L229.2,516.6 L229.2,517.2 L229.2,517.8 L229.2,518.4 L229.2,519.0 L229.2,519.6 L229.2,520.2 L229.2,520.8 L229.2,521.4 L229.2,522.0 L229.2,522.6 L229.2,523.2 L229.2,523.8 L229.2,524.4 L229.2,525.0 L229.2,525.6 L229.2,526.2 L229.2,526.8 L229.2,527.4 L229.2,528.0 L229.2,528.6 L229.2,529.2 L229.6,529.6Z" fill="#8f9fc7" stroke="#55555a" stroke-opacity="0.55" stroke-width="0.3" stroke-linejoin="round"/>
<rect x="229.7" y="408.2" width="68.00" height="15.00" fill="#87a97d"/>
<text x="263.65" y="418.18" font-size="6.9" text-anchor="middle" fill="#333" >T3</text>
<path d="M295.4,424.2 L295.1,424.2 L295.1,424.8 L295.1,425.4 L295.1,426.0 L295.1,426.6 L295.1,427.2 L295.0,427.8 L295.0,428.4 L295.0,429.0 L294.9,429.6 L294.8,430.2 L294.8,430.8 L294.6,431.4 L294.5,432.0 L294.3,432.6 L294.1,433.2 L293.8,433.8 L293.5,434.4 L293.2,435.0 L292.8,435.6 L292.4,436.2 L291.9,436.8 L291.4,437.4 L290.9,438.0 L290.4,438.6 L289.9,439.2 L289.4,439.8 L289.0,440.4 L288.6,441.0 L288.3,441.6 L288.0,442.2 L287.8,442.8 L287.6,443.4 L287.6,444.0 L287.5,444.6 L287.5,445.2 L287.5,445.8 L287.5,446.4 L287.5,447.0 L287.5,447.6 L287.4,448.2 L287.2,448.8 L287.0,449.4 L286.7,450.0 L286.4,450.6 L285.9,451.2 L285.5,451.8 L285.0,452.4 L284.5,453.0 L284.1,453.6 L283.7,454.2 L283.3,454.8 L283.0,455.4 L282.9,456.0 L282.8,456.6 L282.8,457.2 L283.0,457.8 L283.3,458.4 L283.6,459.0 L284.1,459.6 L284.6,460.2 L285.2,460.8 L285.8,461.4 L286.4,462.0 L287.0,462.6 L287.6,463.2 L288.2,463.8 L288.7,464.4 L289.2,465.0 L289.6,465.6 L290.0,466.2 L290.3,466.8 L290.6,467.4 L290.8,468.0 L291.0,468.6 L291.2,469.2 L291.3,469.8 L291.4,470.4 L291.5,471.0 L291.6,471.6 L291.7,472.2 L291.8,472.8 L291.9,473.4 L292.0,474.0 L292.2,474.6 L292.3,475.2 L292.4,475.8 L292.5,476.4 L292.7,477.0 L292.8,477.6 L292.9,478.2 L293.1,478.8 L293.2,479.4 L293.3,480.0 L293.3,480.6 L293.3,481.2 L293.2,481.8 L293.0,482.4 L292.5,483.0 L291.7,483.6 L290.5,484.2 L288.9,484.8 L286.6,485.4 L283.6,486.0 L279.9,486.6 L275.4,487.2 L270.3,487.8 L264.8,488.4 L258.9,489.0 L253.1,489.6 L247.6,490.2 L242.6,490.8 L238.3,491.4 L234.5,492.0 L238.2,492.6 L242.1,493.2 L246.5,493.8 L251.3,494.4 L256.4,495.0 L261.6,495.6 L266.8,496.2 L271.7,496.8 L276.2,497.4 L280.3,498.0 L283.7,498.6 L286.5,499.2 L288.8,499.8 L290.6,500.4 L292.0,501.0 L293.0,501.6 L293.7,502.2 L294.2,502.8 L294.5,503.4 L294.7,504.0 L294.9,504.6 L295.0,505.2 L295.0,505.8 L295.1,506.4 L295.1,507.0 L295.1,507.6 L295.1,508.2 L295.1,508.8 L295.1,509.4 L295.1,510.0 L295.1,510.6 L295.1,511.2 L295.1,511.8 L295.1,512.4 L295.1,513.0 L295.1,513.6 L295.1,514.2 L295.1,514.8 L295.1,515.4 L295.1,516.0 L295.1,516.6 L295.1,517.2 L295.1,517.8 L295.1,518.4 L295.1,519.0 L295.1,519.6 L295.1,520.2 L295.1,520.8 L295.1,521.4 L295.1,522.0 L295.1,522.6 L295.1,523.2 L295.1,523.8 L295.1,524.4 L295.1,525.0 L295.1,525.6 L295.1,526.2 L295.1,526.8 L295.1,527.4 L295.1,528.0 L295.1,528.6 L295.1,529.2 L295.4,529.6Z" fill="#87a97d" stroke="#55555a" stroke-opacity="0.55" stroke-width="0.3" stroke-linejoin="round"/>
<rect x="341.8" y="423.2" width="263.90" height="109.10" fill="#fff" stroke="#bdbdbd" stroke-width="0.9"/>
<rect x="341.8" y="408.2" width="64.70" height="15.00" fill="#a8a9ac"/>
<text x="376.50" y="418.18" font-size="6.9" text-anchor="middle" fill="#333" >D</text>
<path d="M406.4,424.2 L406.0,424.2 L406.0,424.8 L406.0,425.4 L406.0,426.0 L406.0,426.6 L406.0,427.2 L406.0,427.8 L406.0,428.4 L406.0,429.0 L406.0,429.6 L406.0,430.2 L406.0,430.8 L406.0,431.4 L406.0,432.0 L406.0,432.6 L406.0,433.2 L406.0,433.8 L406.0,434.4 L406.0,435.0 L406.0,435.6 L406.0,436.2 L406.0,436.8 L406.0,437.4 L406.0,438.0 L406.0,438.6 L406.0,439.2 L406.0,439.8 L406.0,440.4 L406.0,441.0 L406.0,441.6 L406.0,442.2 L406.0,442.8 L406.0,443.4 L406.0,444.0 L406.0,444.6 L406.0,445.2 L406.0,445.8 L406.0,446.4 L406.0,447.0 L405.9,447.6 L405.9,448.2 L405.9,448.8 L405.8,449.4 L405.7,450.0 L405.7,450.6 L405.6,451.2 L405.4,451.8 L405.3,452.4 L405.1,453.0 L405.0,453.6 L404.8,454.2 L404.6,454.8 L404.4,455.4 L404.2,456.0 L404.0,456.6 L403.9,457.2 L403.7,457.8 L403.6,458.4 L403.5,459.0 L403.4,459.6 L403.4,460.2 L403.4,460.8 L403.4,461.4 L403.5,462.0 L403.6,462.6 L403.7,463.2 L403.9,463.8 L404.1,464.4 L404.3,465.0 L404.5,465.6 L404.7,466.2 L404.8,466.8 L405.0,467.4 L405.2,468.0 L405.3,468.6 L405.4,469.2 L405.5,469.8 L405.6,470.4 L405.6,471.0 L405.6,471.6 L405.6,472.2 L405.5,472.8 L405.4,473.4 L405.3,474.0 L405.1,474.6 L404.9,475.2 L404.6,475.8 L404.3,476.4 L403.9,477.0 L403.4,477.6 L402.9,478.2 L402.4,478.8 L401.7,479.4 L401.1,480.0 L400.4,480.6 L399.6,481.2 L398.9,481.8 L398.2,482.4 L397.5,483.0 L396.8,483.6 L396.2,484.2 L395.7,484.8 L395.3,485.4 L395.0,486.0 L394.9,486.6 L394.9,487.2 L395.0,487.8 L395.2,488.4 L395.6,489.0 L396.0,489.6 L396.6,490.2 L397.2,490.8 L397.9,491.4 L398.6,492.0 L399.4,492.6 L400.1,493.2 L400.8,493.8 L401.5,494.4 L402.2,495.0 L402.8,495.6 L403.3,496.2 L403.8,496.8 L404.2,497.4 L404.5,498.0 L404.8,498.6 L405.1,499.2 L405.3,499.8 L405.5,500.4 L405.6,501.0 L405.7,501.6 L405.8,502.2 L405.8,502.8 L405.7,503.4 L405.6,504.0 L405.2,504.6 L404.6,505.2 L403.7,505.8 L402.1,506.4 L399.8,507.0 L396.6,507.6 L392.3,508.2 L386.9,508.8 L380.6,509.4 L373.5,510.0 L366.3,510.6 L359.3,511.2 L353.2,511.8 L348.2,512.4 L346.8,513.0 L351.4,513.6 L357.2,514.2 L363.9,514.8 L371.1,515.4 L378.3,516.0 L384.9,516.6 L390.6,517.2 L395.3,517.8 L398.9,518.4 L401.5,519.0 L403.2,519.6 L404.4,520.2 L405.1,520.8 L405.6,521.4 L405.8,522.0 L405.9,522.6 L406.0,523.2 L406.0,523.8 L406.0,524.4 L406.0,525.0 L406.0,525.6 L406.0,526.2 L406.0,526.8 L406.0,527.4 L406.0,528.0 L406.0,528.6 L406.0,529.2 L406.4,529.6Z" fill="#a8a9ac" stroke="#55555a" stroke-opacity="0.55" stroke-width="0.3" stroke-linejoin="round"/>
<rect x="406.4" y="408.2" width="66.40" height="15.00" fill="#fbb597"/>
<text x="439.55" y="418.18" font-size="6.9" text-anchor="middle" fill="#333" >T1</text>
<path d="M472.6,424.2 L472.0,424.2 L472.0,424.8 L471.9,425.4 L471.7,426.0 L471.6,426.6 L471.4,427.2 L471.2,427.8 L470.9,428.4 L470.6,429.0 L470.3,429.6 L469.9,430.2 L469.4,430.8 L469.0,431.4 L468.4,432.0 L467.9,432.6 L467.2,433.2 L466.6,433.8 L465.9,434.4 L465.2,435.0 L464.5,435.6 L463.7,436.2 L463.0,436.8 L462.4,437.4 L461.7,438.0 L461.2,438.6 L460.7,439.2 L460.2,439.8 L459.9,440.4 L459.6,441.0 L459.4,441.6 L459.4,442.2 L459.4,442.8 L459.5,443.4 L459.7,444.0 L460.0,444.6 L460.3,445.2 L460.6,445.8 L461.0,446.4 L461.4,447.0 L461.8,447.6 L462.2,448.2 L462.6,448.8 L463.0,449.4 L463.3,450.0 L463.6,450.6 L463.9,451.2 L464.2,451.8 L464.4,452.4 L464.7,453.0 L464.9,453.6 L465.2,454.2 L465.5,454.8 L465.8,455.4 L466.2,456.0 L466.6,456.6 L467.0,457.2 L467.4,457.8 L467.8,458.4 L468.2,459.0 L468.7,459.6 L469.1,460.2 L469.4,460.8 L469.8,461.4 L470.1,462.0 L470.3,462.6 L470.5,463.2 L470.7,463.8 L470.8,464.4 L470.9,465.0 L470.9,465.6 L470.8,466.2 L470.8,466.8 L470.7,467.4 L470.5,468.0 L470.4,468.6 L470.2,469.2 L470.0,469.8 L469.9,470.4 L469.7,471.0 L469.6,471.6 L469.5,472.2 L469.4,472.8 L469.3,473.4 L469.2,474.0 L469.2,474.6 L469.1,475.2 L469.0,475.8 L468.9,476.4 L468.6,477.0 L468.3,477.6 L467.7,478.2 L467.0,478.8 L465.9,479.4 L464.5,480.0 L462.6,480.6 L460.3,481.2 L457.5,481.8 L454.3,482.4 L450.6,483.0 L446.5,483.6 L442.1,484.2 L437.5,484.8 L433.0,485.4 L428.6,486.0 L424.4,486.6 L420.5,487.2 L416.9,487.8 L413.4,488.4 L414.6,489.0 L417.8,489.6 L421.0,490.2 L424.3,490.8 L427.9,491.4 L431.6,492.0 L435.4,492.6 L439.4,493.2 L443.3,493.8 L447.1,494.4 L450.7,495.0 L454.1,495.6 L457.1,496.2 L459.9,496.8 L462.3,497.4 L464.3,498.0 L466.1,498.6 L467.5,499.2 L468.6,499.8 L469.6,500.4 L470.3,501.0 L470.9,501.6 L471.3,502.2 L471.6,502.8 L471.8,503.4 L472.0,504.0 L472.1,504.6 L472.2,505.2 L472.2,505.8 L472.3,506.4 L472.3,507.0 L472.3,507.6 L472.3,508.2 L472.3,508.8 L472.3,509.4 L472.3,510.0 L472.3,510.6 L472.3,511.2 L472.3,511.8 L472.3,512.4 L472.3,513.0 L472.3,513.6 L472.3,514.2 L472.3,514.8 L472.3,515.4 L472.3,516.0 L472.3,516.6 L472.3,517.2 L472.3,517.8 L472.3,518.4 L472.3,519.0 L472.3,519.6 L472.3,520.2 L472.3,520.8 L472.3,521.4 L472.3,522.0 L472.3,522.6 L472.3,523.2 L472.3,523.8 L472.3,524.4 L472.3,525.0 L472.3,525.6 L472.3,526.2 L472.3,526.8 L472.3,527.4 L472.3,528.0 L472.3,528.6 L472.3,529.2 L472.6,529.6Z" fill="#fbb597" stroke="#55555a" stroke-opacity="0.55" stroke-width="0.3" stroke-linejoin="round"/>
<rect x="472.7" y="408.2" width="66.20" height="15.00" fill="#8f9fc7"/>
<text x="505.75" y="418.18" font-size="6.9" text-anchor="middle" fill="#333" >T2</text>
<path d="M538.8,424.2 L538.4,424.2 L538.4,424.8 L538.4,425.4 L538.4,426.0 L538.4,426.6 L538.4,427.2 L538.4,427.8 L538.4,428.4 L538.4,429.0 L538.3,429.6 L538.3,430.2 L538.3,430.8 L538.2,431.4 L538.2,432.0 L538.1,432.6 L538.0,433.2 L537.9,433.8 L537.7,434.4 L537.6,435.0 L537.4,435.6 L537.2,436.2 L536.9,436.8 L536.7,437.4 L536.4,438.0 L536.0,438.6 L535.7,439.2 L535.3,439.8 L534.8,440.4 L534.4,441.0 L533.9,441.6 L533.5,442.2 L533.0,442.8 L532.5,443.4 L532.1,444.0 L531.6,444.6 L531.2,445.2 L530.9,445.8 L530.6,446.4 L530.3,447.0 L530.1,447.6 L530.0,448.2 L530.0,448.8 L530.0,449.4 L530.1,450.0 L530.2,450.6 L530.5,451.2 L530.8,451.8 L531.1,452.4 L531.5,453.0 L531.9,453.6 L532.4,454.2 L532.8,454.8 L533.3,455.4 L533.8,456.0 L534.2,456.6 L534.7,457.2 L535.1,457.8 L535.5,458.4 L535.9,459.0 L536.2,459.6 L536.6,460.2 L536.8,460.8 L537.1,461.4 L537.3,462.0 L537.5,462.6 L537.6,463.2 L537.7,463.8 L537.8,464.4 L537.9,465.0 L537.9,465.6 L537.9,466.2 L537.9,466.8 L537.9,467.4 L537.9,468.0 L537.8,468.6 L537.7,469.2 L537.7,469.8 L537.6,470.4 L537.5,471.0 L537.4,471.6 L537.2,472.2 L537.1,472.8 L537.0,473.4 L536.9,474.0 L536.8,474.6 L536.7,475.2 L536.7,475.8 L536.6,476.4 L536.6,477.0 L536.5,477.6 L536.5,478.2 L536.5,478.8 L536.6,479.4 L536.6,480.0 L536.6,480.6 L536.5,481.2 L536.5,481.8 L536.2,482.4 L535.9,483.0 L535.3,483.6 L534.3,484.2 L532.9,484.8 L531.0,485.4 L528.3,486.0 L525.0,486.6 L521.0,487.2 L516.2,487.8 L510.9,488.4 L505.1,489.0 L499.3,489.6 L493.6,490.2 L488.4,490.8 L483.7,491.4 L479.7,492.0 L479.7,492.6 L484.1,493.2 L489.4,493.8 L495.4,494.4 L501.8,495.0 L508.4,495.6 L514.6,496.2 L520.1,496.8 L524.9,497.4 L528.8,498.0 L531.8,498.6 L534.0,499.2 L535.6,499.8 L536.7,500.4 L537.4,501.0 L537.9,501.6 L538.1,502.2 L538.3,502.8 L538.4,503.4 L538.4,504.0 L538.4,504.6 L538.4,505.2 L538.4,505.8 L538.4,506.4 L538.4,507.0 L538.4,507.6 L538.4,508.2 L538.4,508.8 L538.4,509.4 L538.4,510.0 L538.4,510.6 L538.4,511.2 L538.4,511.8 L538.4,512.4 L538.4,513.0 L538.4,513.6 L538.4,514.2 L538.4,514.8 L538.4,515.4 L538.4,516.0 L538.4,516.6 L538.4,517.2 L538.4,517.8 L538.4,518.4 L538.4,519.0 L538.4,519.6 L538.4,520.2 L538.4,520.8 L538.4,521.4 L538.4,522.0 L538.4,522.6 L538.4,523.2 L538.4,523.8 L538.4,524.4 L538.4,525.0 L538.4,525.6 L538.4,526.2 L538.4,526.8 L538.4,527.4 L538.4,528.0 L538.4,528.6 L538.4,529.2 L538.8,529.6Z" fill="#8f9fc7" stroke="#55555a" stroke-opacity="0.55" stroke-width="0.3" stroke-linejoin="round"/>
<rect x="538.8" y="408.2" width="67.00" height="15.00" fill="#87a97d"/>
<text x="572.25" y="418.18" font-size="6.9" text-anchor="middle" fill="#333" >T3</text>
<path d="M604.6,424.2 L604.3,424.2 L604.2,424.8 L604.2,425.4 L604.2,426.0 L604.2,426.6 L604.1,427.2 L604.1,427.8 L604.0,428.4 L603.9,429.0 L603.8,429.6 L603.7,430.2 L603.5,430.8 L603.4,431.4 L603.1,432.0 L602.9,432.6 L602.5,433.2 L602.2,433.8 L601.8,434.4 L601.3,435.0 L600.8,435.6 L600.3,436.2 L599.7,436.8 L599.2,437.4 L598.6,438.0 L598.0,438.6 L597.5,439.2 L597.0,439.8 L596.5,440.4 L596.1,441.0 L595.8,441.6 L595.5,442.2 L595.2,442.8 L595.0,443.4 L594.9,444.0 L594.8,444.6 L594.7,445.2 L594.7,445.8 L594.8,446.4 L594.8,447.0 L595.0,447.6 L595.2,448.2 L595.4,448.8 L595.6,449.4 L595.9,450.0 L596.3,450.6 L596.6,451.2 L597.0,451.8 L597.4,452.4 L597.8,453.0 L598.3,453.6 L598.7,454.2 L599.1,454.8 L599.5,455.4 L599.8,456.0 L600.2,456.6 L600.5,457.2 L600.8,457.8 L601.0,458.4 L601.3,459.0 L601.4,459.6 L601.6,460.2 L601.8,460.8 L601.9,461.4 L602.0,462.0 L602.0,462.6 L602.1,463.2 L602.2,463.8 L602.2,464.4 L602.3,465.0 L602.3,465.6 L602.3,466.2 L602.4,466.8 L602.4,467.4 L602.4,468.0 L602.4,468.6 L602.4,469.2 L602.4,469.8 L602.3,470.4 L602.3,471.0 L602.2,471.6 L602.1,472.2 L602.0,472.8 L601.9,473.4 L601.7,474.0 L601.6,474.6 L601.5,475.2 L601.4,475.8 L601.3,476.4 L601.3,477.0 L601.3,477.6 L601.2,478.2 L601.2,478.8 L601.2,479.4 L601.1,480.0 L600.9,480.6 L600.6,481.2 L600.2,481.8 L599.5,482.4 L598.5,483.0 L597.2,483.6 L595.4,484.2 L593.1,484.8 L590.2,485.4 L586.9,486.0 L583.0,486.6 L578.7,487.2 L574.1,487.8 L569.2,488.4 L564.4,489.0 L559.7,489.6 L555.3,490.2 L551.3,490.8 L547.6,491.4 L544.0,492.0 L547.7,492.6 L551.7,493.2 L556.2,493.8 L561.2,494.4 L566.4,495.0 L571.8,495.6 L577.0,496.2 L582.0,496.8 L586.5,497.4 L590.5,498.0 L593.8,498.6 L596.6,499.2 L598.7,499.8 L600.4,500.4 L601.6,501.0 L602.5,501.6 L603.2,502.2 L603.6,502.8 L603.9,503.4 L604.0,504.0 L604.1,504.6 L604.2,505.2 L604.3,505.8 L604.3,506.4 L604.3,507.0 L604.3,507.6 L604.3,508.2 L604.3,508.8 L604.3,509.4 L604.3,510.0 L604.3,510.6 L604.3,511.2 L604.3,511.8 L604.3,512.4 L604.3,513.0 L604.3,513.6 L604.3,514.2 L604.3,514.8 L604.3,515.4 L604.3,516.0 L604.3,516.6 L604.3,517.2 L604.3,517.8 L604.3,518.4 L604.3,519.0 L604.3,519.6 L604.3,520.2 L604.3,520.8 L604.3,521.4 L604.3,522.0 L604.3,522.6 L604.3,523.2 L604.3,523.8 L604.3,524.4 L604.3,525.0 L604.3,525.6 L604.3,526.2 L604.3,526.8 L604.3,527.4 L604.3,528.0 L604.3,528.6 L604.3,529.2 L604.6,529.6Z" fill="#87a97d" stroke="#55555a" stroke-opacity="0.55" stroke-width="0.3" stroke-linejoin="round"/>
<text font-size="6.9" text-anchor="start" fill="#333333" textLength="66.0" lengthAdjust="spacingAndGlyphs" transform="translate(9.60 509.80) rotate(-90)" >DNA content (a.u.)</text>
<text x="-0.40" y="552.15" font-size="11.8" text-anchor="start" fill="#111" font-weight="bold" stroke="#111" stroke-width="0.35">d</text>
<path d="M33.0,561.9 H297.2 V659.6" fill="none" stroke="#d4d4d4" stroke-width="0.8"/>
<path d="M33.0,562 V659.6" fill="none" stroke="#c4c4c4" stroke-width="0.9"/>
<text x="92.40" y="544.16" font-size="7.1" text-anchor="middle" fill="#333333" textLength="57.5" lengthAdjust="spacingAndGlyphs" >100 generations</text>
<text x="228.40" y="544.16" font-size="7.1" text-anchor="middle" fill="#333333" textLength="57.5" lengthAdjust="spacingAndGlyphs" >500 generations</text>
<rect x="33.0" y="547.3" width="62.80" height="14.4" fill="#cbc95c"/>
<text x="64.80" y="557.43" font-size="7.3" text-anchor="middle" fill="#333" textLength="27.6" lengthAdjust="spacingAndGlyphs" >20.0 °C</text>
<path d="M33.0,659.6 H95.8" stroke="#b5b5b5" stroke-width="0.9"/>
<rect x="100.6" y="547.3" width="62.20" height="14.4" fill="#ea6b7b"/>
<text x="132.10" y="557.43" font-size="7.3" text-anchor="middle" fill="#333" textLength="27.6" lengthAdjust="spacingAndGlyphs" >28.5 °C</text>
<path d="M100.6,659.6 H162.8" stroke="#b5b5b5" stroke-width="0.9"/>
<rect x="168.0" y="547.3" width="62.00" height="14.4" fill="#4cbcbc"/>
<text x="199.40" y="557.43" font-size="7.3" text-anchor="middle" fill="#333" textLength="27.6" lengthAdjust="spacingAndGlyphs" >20.0 °C</text>
<path d="M168.0,659.6 H230.0" stroke="#b5b5b5" stroke-width="0.9"/>
<rect x="235.0" y="547.3" width="62.20" height="14.4" fill="#b56db2"/>
<text x="266.50" y="557.43" font-size="7.3" text-anchor="middle" fill="#333" textLength="27.6" lengthAdjust="spacingAndGlyphs" >28.5 °C</text>
<path d="M235.0,659.6 H297.2" stroke="#b5b5b5" stroke-width="0.9"/>
<text x="30.60" y="575.12" font-size="7.0" text-anchor="end" fill="#444" textLength="17.4" lengthAdjust="spacingAndGlyphs" >0.60</text>
<text x="30.60" y="586.72" font-size="7.0" text-anchor="end" fill="#444" textLength="17.4" lengthAdjust="spacingAndGlyphs" >0.52</text>
<text x="30.60" y="604.12" font-size="7.0" text-anchor="end" fill="#444" textLength="17.4" lengthAdjust="spacingAndGlyphs" >0.40</text>
<text x="30.60" y="633.12" font-size="7.0" text-anchor="end" fill="#444" textLength="17.4" lengthAdjust="spacingAndGlyphs" >0.20</text>
<text x="30.60" y="662.12" font-size="7.0" text-anchor="end" fill="#444" >0</text>
<path d="M30.4,572.6H33.0 M30.4,584.2H33.0 M30.4,601.6H33.0 M30.4,630.6H33.0 M30.4,659.6H33.0 " stroke="#9a9a9a" stroke-width="0.6" fill="none"/>
<rect x="37.25" y="583.60" width="10.5" height="76.00" fill="#a8a8aa"/>
<path d="M42.5,659.6v2.4" stroke="#9a9a9a" stroke-width="0.6"/>
<text x="42.50" y="671.12" font-size="7.0" text-anchor="middle" fill="#444" >D</text>
<text x="42.50" y="576.74" font-size="7.9" text-anchor="middle" fill="#3a3a3a" >a</text>
<path d="M42.5,582.30V584.90 M41.1,582.30h2.8 M41.1,584.90h2.8" stroke="#555" stroke-width="0.4" fill="none"/>
<g fill="#505053" fill-opacity="0.68"><circle cx="40.5" cy="583.6" r="2.05"/><circle cx="44.2" cy="584.0" r="2.05"/><circle cx="46.3" cy="583.3" r="2.05"/></g>
<rect x="52.05" y="590.40" width="10.5" height="69.20" fill="#fbb597"/>
<path d="M57.3,659.6v2.4" stroke="#9a9a9a" stroke-width="0.6"/>
<text x="57.30" y="671.12" font-size="7.0" text-anchor="middle" fill="#444" >T1</text>
<text x="57.30" y="583.04" font-size="7.9" text-anchor="middle" fill="#3a3a3a" >b</text>
<path d="M57.3,589.10V591.70 M55.9,589.10h2.8 M55.9,591.70h2.8" stroke="#555" stroke-width="0.4" fill="none"/>
<g fill="#505053" fill-opacity="0.68"><circle cx="61.3" cy="589.7" r="2.05"/><circle cx="58.2" cy="588.2" r="2.05"/><circle cx="55.4" cy="588.0" r="2.05"/><circle cx="52.9" cy="590.9" r="2.05"/></g>
<rect x="66.80" y="579.00" width="10.5" height="80.60" fill="#8f9fc7"/>
<path d="M72.05,659.6v2.4" stroke="#9a9a9a" stroke-width="0.6"/>
<text x="72.05" y="671.12" font-size="7.0" text-anchor="middle" fill="#444" >T2</text>
<text x="72.05" y="574.44" font-size="7.9" text-anchor="middle" fill="#3a3a3a" >c</text>
<path d="M72.05,577.70V580.30 M70.64999999999999,577.70h2.8 M70.64999999999999,580.30h2.8" stroke="#555" stroke-width="0.4" fill="none"/>
<g fill="#505053" fill-opacity="0.68"><circle cx="73.0" cy="578.7" r="2.05"/><circle cx="75.8" cy="579.7" r="2.05"/><circle cx="67.9" cy="577.5" r="2.05"/></g>
<rect x="81.55" y="589.60" width="10.5" height="70.00" fill="#87a97d"/>
<path d="M86.8,659.6v2.4" stroke="#9a9a9a" stroke-width="0.6"/>
<text x="86.80" y="671.12" font-size="7.0" text-anchor="middle" fill="#444" >T3</text>
<text x="86.80" y="581.64" font-size="7.9" text-anchor="middle" fill="#3a3a3a" >b</text>
<path d="M86.8,588.30V590.90 M85.39999999999999,588.30h2.8 M85.39999999999999,590.90h2.8" stroke="#555" stroke-width="0.4" fill="none"/>
<g fill="#505053" fill-opacity="0.68"><circle cx="84.9" cy="590.8" r="2.05"/><circle cx="82.9" cy="587.9" r="2.05"/><circle cx="87.7" cy="590.8" r="2.05"/></g>
<rect x="104.25" y="615.00" width="10.5" height="44.60" fill="#a8a8aa"/>
<path d="M109.5,659.6v2.4" stroke="#9a9a9a" stroke-width="0.6"/>
<text x="109.50" y="671.12" font-size="7.0" text-anchor="middle" fill="#444" >D</text>
<text x="109.50" y="611.44" font-size="7.9" text-anchor="middle" fill="#3a3a3a" >a</text>
<path d="M109.5,613.70V616.30 M108.1,613.70h2.8 M108.1,616.30h2.8" stroke="#555" stroke-width="0.4" fill="none"/>
<g fill="#505053" fill-opacity="0.68"><circle cx="113.7" cy="615.0" r="2.05"/><circle cx="108.1" cy="615.2" r="2.05"/><circle cx="105.8" cy="614.4" r="2.05"/><circle cx="111.0" cy="615.3" r="2.05"/></g>
<rect x="119.15" y="597.00" width="10.5" height="62.60" fill="#fbb597"/>
<path d="M124.4,659.6v2.4" stroke="#9a9a9a" stroke-width="0.6"/>
<text x="124.40" y="671.12" font-size="7.0" text-anchor="middle" fill="#444" >T1</text>
<text x="124.40" y="587.04" font-size="7.9" text-anchor="middle" fill="#3a3a3a" >b</text>
<path d="M124.4,595.70V598.30 M123.0,595.70h2.8 M123.0,598.30h2.8" stroke="#555" stroke-width="0.4" fill="none"/>
<g fill="#505053" fill-opacity="0.68"><circle cx="128.3" cy="595.7" r="2.05"/><circle cx="125.3" cy="597.0" r="2.05"/><circle cx="119.8" cy="598.2" r="2.05"/></g>
<rect x="134.05" y="586.20" width="10.5" height="73.40" fill="#8f9fc7"/>
<path d="M139.3,659.6v2.4" stroke="#9a9a9a" stroke-width="0.6"/>
<text x="139.30" y="671.12" font-size="7.0" text-anchor="middle" fill="#444" >T2</text>
<text x="139.30" y="580.04" font-size="7.9" text-anchor="middle" fill="#3a3a3a" >c</text>
<path d="M139.3,584.90V587.50 M137.9,584.90h2.8 M137.9,587.50h2.8" stroke="#555" stroke-width="0.4" fill="none"/>
<g fill="#505053" fill-opacity="0.68"><circle cx="134.9" cy="584.2" r="2.05"/><circle cx="142.6" cy="583.8" r="2.05"/><circle cx="140.7" cy="586.3" r="2.05"/><circle cx="137.9" cy="586.7" r="2.05"/></g>
<rect x="148.85" y="591.20" width="10.5" height="68.40" fill="#87a97d"/>
<path d="M154.1,659.6v2.4" stroke="#9a9a9a" stroke-width="0.6"/>
<text x="154.10" y="671.12" font-size="7.0" text-anchor="middle" fill="#444" >T3</text>
<text x="154.10" y="584.64" font-size="7.9" text-anchor="middle" fill="#3a3a3a" >d</text>
<path d="M154.1,589.90V592.50 M152.7,589.90h2.8 M152.7,592.50h2.8" stroke="#555" stroke-width="0.4" fill="none"/>
<g fill="#505053" fill-opacity="0.68"><circle cx="154.9" cy="589.5" r="2.05"/><circle cx="149.5" cy="588.7" r="2.05"/><circle cx="158.2" cy="592.0" r="2.05"/><circle cx="152.6" cy="592.1" r="2.05"/></g>
<rect x="171.15" y="582.80" width="10.5" height="76.80" fill="#a8a8aa"/>
<path d="M176.4,659.6v2.4" stroke="#9a9a9a" stroke-width="0.6"/>
<text x="176.40" y="671.12" font-size="7.0" text-anchor="middle" fill="#444" >D</text>
<text x="176.40" y="575.44" font-size="7.9" text-anchor="middle" fill="#3a3a3a" >a</text>
<path d="M176.4,581.50V584.10 M175.0,581.50h2.8 M175.0,584.10h2.8" stroke="#555" stroke-width="0.4" fill="none"/>
<g fill="#505053" fill-opacity="0.68"><circle cx="177.2" cy="583.5" r="2.05"/><circle cx="174.9" cy="581.4" r="2.05"/><circle cx="172.0" cy="581.3" r="2.05"/></g>
<rect x="186.15" y="582.80" width="10.5" height="76.80" fill="#fbb597"/>
<path d="M191.4,659.6v2.4" stroke="#9a9a9a" stroke-width="0.6"/>
<text x="191.40" y="671.12" font-size="7.0" text-anchor="middle" fill="#444" >T1</text>
<text x="191.40" y="575.44" font-size="7.9" text-anchor="middle" fill="#3a3a3a" >a</text>
<path d="M191.4,581.50V584.10 M190.0,581.50h2.8 M190.0,584.10h2.8" stroke="#555" stroke-width="0.4" fill="none"/>
<g fill="#505053" fill-opacity="0.68"><circle cx="192.9" cy="582.7" r="2.05"/><circle cx="187.2" cy="581.4" r="2.05"/><circle cx="190.0" cy="583.5" r="2.05"/><circle cx="194.7" cy="582.4" r="2.05"/></g>
<rect x="200.95" y="577.50" width="10.5" height="82.10" fill="#8f9fc7"/>
<path d="M206.2,659.6v2.4" stroke="#9a9a9a" stroke-width="0.6"/>
<text x="206.20" y="671.12" font-size="7.0" text-anchor="middle" fill="#444" >T2</text>
<text x="206.20" y="569.64" font-size="7.9" text-anchor="middle" fill="#3a3a3a" >b</text>
<path d="M206.2,576.20V578.80 M204.79999999999998,576.20h2.8 M204.79999999999998,578.80h2.8" stroke="#555" stroke-width="0.4" fill="none"/>
<g fill="#505053" fill-opacity="0.68"><circle cx="210.2" cy="578.4" r="2.05"/><circle cx="207.5" cy="576.1" r="2.05"/><circle cx="201.9" cy="577.1" r="2.05"/><circle cx="204.4" cy="578.1" r="2.05"/></g>
<rect x="215.95" y="584.00" width="10.5" height="75.60" fill="#87a97d"/>
<path d="M221.2,659.6v2.4" stroke="#9a9a9a" stroke-width="0.6"/>
<text x="221.20" y="671.12" font-size="7.0" text-anchor="middle" fill="#444" >T3</text>
<text x="221.20" y="576.44" font-size="7.9" text-anchor="middle" fill="#3a3a3a" >a</text>
<path d="M221.2,582.70V585.30 M219.79999999999998,582.70h2.8 M219.79999999999998,585.30h2.8" stroke="#555" stroke-width="0.4" fill="none"/>
<g fill="#505053" fill-opacity="0.68"><circle cx="222.6" cy="584.9" r="2.05"/><circle cx="220.1" cy="583.9" r="2.05"/><circle cx="217.5" cy="583.6" r="2.05"/><circle cx="225.1" cy="582.1" r="2.05"/></g>
<rect x="238.95" y="601.80" width="10.5" height="57.80" fill="#a8a8aa"/>
<path d="M244.2,659.6v2.4" stroke="#9a9a9a" stroke-width="0.6"/>
<text x="244.20" y="671.12" font-size="7.0" text-anchor="middle" fill="#444" >D</text>
<text x="244.20" y="597.04" font-size="7.9" text-anchor="middle" fill="#3a3a3a" >a</text>
<path d="M244.2,600.50V603.10 M242.79999999999998,600.50h2.8 M242.79999999999998,603.10h2.8" stroke="#555" stroke-width="0.4" fill="none"/>
<g fill="#505053" fill-opacity="0.68"><circle cx="242.2" cy="601.9" r="2.05"/><circle cx="247.6" cy="602.5" r="2.05"/><circle cx="240.2" cy="602.5" r="2.05"/></g>
<rect x="253.75" y="581.00" width="10.5" height="78.60" fill="#fbb597"/>
<path d="M259.0,659.6v2.4" stroke="#9a9a9a" stroke-width="0.6"/>
<text x="259.00" y="671.12" font-size="7.0" text-anchor="middle" fill="#444" >T1</text>
<text x="259.00" y="574.44" font-size="7.9" text-anchor="middle" fill="#3a3a3a" >b</text>
<path d="M259.0,579.70V582.30 M257.6,579.70h2.8 M257.6,582.30h2.8" stroke="#555" stroke-width="0.4" fill="none"/>
<g fill="#505053" fill-opacity="0.68"><circle cx="260.6" cy="582.1" r="2.05"/><circle cx="255.0" cy="580.2" r="2.05"/><circle cx="257.5" cy="580.0" r="2.05"/></g>
<rect x="268.45" y="582.00" width="10.5" height="77.60" fill="#8f9fc7"/>
<path d="M273.7,659.6v2.4" stroke="#9a9a9a" stroke-width="0.6"/>
<text x="273.70" y="671.12" font-size="7.0" text-anchor="middle" fill="#444" >T2</text>
<text x="273.70" y="575.04" font-size="7.9" text-anchor="middle" fill="#3a3a3a" >b</text>
<path d="M273.7,580.70V583.30 M272.3,580.70h2.8 M272.3,583.30h2.8" stroke="#555" stroke-width="0.4" fill="none"/>
<g fill="#505053" fill-opacity="0.68"><circle cx="278.0" cy="582.0" r="2.05"/><circle cx="275.3" cy="579.9" r="2.05"/><circle cx="269.6" cy="582.3" r="2.05"/><circle cx="272.2" cy="579.5" r="2.05"/></g>
<rect x="283.25" y="583.60" width="10.5" height="76.00" fill="#87a97d"/>
<path d="M288.5,659.6v2.4" stroke="#9a9a9a" stroke-width="0.6"/>
<text x="288.50" y="671.12" font-size="7.0" text-anchor="middle" fill="#444" >T3</text>
<text x="288.50" y="576.24" font-size="7.9" text-anchor="middle" fill="#3a3a3a" >b</text>
<path d="M288.5,582.30V584.90 M287.1,582.30h2.8 M287.1,584.90h2.8" stroke="#555" stroke-width="0.4" fill="none"/>
<g fill="#505053" fill-opacity="0.68"><circle cx="286.6" cy="582.8" r="2.05"/><circle cx="292.6" cy="583.4" r="2.05"/><circle cx="289.3" cy="582.9" r="2.05"/></g>
<path d="M33.0,584.2H297.2" stroke="#555" stroke-width="0.6" stroke-dasharray="2.4 1.8" fill="none"/>
<text transform="translate(7.6 621.5) rotate(-90)" font-size="8.6" fill="#2b2b2b"><tspan font-style="italic">F</tspan><tspan font-size="5.8" dy="1.8">v</tspan><tspan dy="-1.8">/</tspan><tspan font-style="italic">F</tspan><tspan font-size="5.8" dy="1.8">m</tspan></text>
<text x="164.50" y="683.28" font-size="6.9" text-anchor="middle" fill="#333333" textLength="27.5" lengthAdjust="spacingAndGlyphs" >Lineage</text>
<path d="M342.2,561.9 H604 V659.6" fill="none" stroke="#d4d4d4" stroke-width="0.8"/>
<path d="M342.2,562 V659.6" fill="none" stroke="#c4c4c4" stroke-width="0.9"/>
<text x="401.30" y="544.16" font-size="7.1" text-anchor="middle" fill="#333333" textLength="57.5" lengthAdjust="spacingAndGlyphs" >100 generations</text>
<text x="537.00" y="544.16" font-size="7.1" text-anchor="middle" fill="#333333" textLength="57.5" lengthAdjust="spacingAndGlyphs" >500 generations</text>
<rect x="342.2" y="547.3" width="62.60" height="14.4" fill="#cbc95c"/>
<text x="373.90" y="557.43" font-size="7.3" text-anchor="middle" fill="#333" textLength="27.6" lengthAdjust="spacingAndGlyphs" >20.0 °C</text>
<path d="M342.2,659.6 H404.8" stroke="#b5b5b5" stroke-width="0.9"/>
<rect x="409.2" y="547.3" width="62.40" height="14.4" fill="#ea6b7b"/>
<text x="440.80" y="557.43" font-size="7.3" text-anchor="middle" fill="#333" textLength="27.6" lengthAdjust="spacingAndGlyphs" >28.5 °C</text>
<path d="M409.2,659.6 H471.6" stroke="#b5b5b5" stroke-width="0.9"/>
<rect x="476.6" y="547.3" width="62.60" height="14.4" fill="#4cbcbc"/>
<text x="508.30" y="557.43" font-size="7.3" text-anchor="middle" fill="#333" textLength="27.6" lengthAdjust="spacingAndGlyphs" >20.0 °C</text>
<path d="M476.6,659.6 H539.2" stroke="#b5b5b5" stroke-width="0.9"/>
<rect x="544.0" y="547.3" width="62.00" height="14.4" fill="#b56db2"/>
<text x="575.40" y="557.43" font-size="7.3" text-anchor="middle" fill="#333" textLength="27.6" lengthAdjust="spacingAndGlyphs" >28.5 °C</text>
<path d="M544.0,659.6 H606" stroke="#b5b5b5" stroke-width="0.9"/>
<text x="339.80" y="565.52" font-size="7.0" text-anchor="end" fill="#444" textLength="17.4" lengthAdjust="spacingAndGlyphs" >0.40</text>
<text x="339.80" y="589.62" font-size="7.0" text-anchor="end" fill="#444" textLength="17.4" lengthAdjust="spacingAndGlyphs" >0.30</text>
<text x="339.80" y="596.92" font-size="7.0" text-anchor="end" fill="#444" textLength="17.4" lengthAdjust="spacingAndGlyphs" >0.27</text>
<text x="339.80" y="613.82" font-size="7.0" text-anchor="end" fill="#444" textLength="17.4" lengthAdjust="spacingAndGlyphs" >0.20</text>
<text x="339.80" y="637.92" font-size="7.0" text-anchor="end" fill="#444" textLength="17.4" lengthAdjust="spacingAndGlyphs" >0.10</text>
<text x="339.80" y="662.12" font-size="7.0" text-anchor="end" fill="#444" >0</text>
<path d="M339.59999999999997,563.0H342.2 M339.59999999999997,587.1H342.2 M339.59999999999997,594.4H342.2 M339.59999999999997,611.3H342.2 M339.59999999999997,635.4H342.2 M339.59999999999997,659.6H342.2 " stroke="#9a9a9a" stroke-width="0.6" fill="none"/>
<rect x="345.75" y="595.20" width="10.5" height="64.40" fill="#a8a8aa"/>
<path d="M351.0,659.6v2.4" stroke="#9a9a9a" stroke-width="0.6"/>
<text x="351.00" y="671.12" font-size="7.0" text-anchor="middle" fill="#444" >D</text>
<text x="351.00" y="591.24" font-size="7.9" text-anchor="middle" fill="#3a3a3a" >a</text>
<path d="M351.0,593.90V596.50 M349.6,593.90h2.8 M349.6,596.50h2.8" stroke="#555" stroke-width="0.4" fill="none"/>
<g fill="#505053" fill-opacity="0.68"><circle cx="349.2" cy="595.8" r="2.05"/><circle cx="352.5" cy="595.2" r="2.05"/><circle cx="347.0" cy="596.7" r="2.05"/></g>
<rect x="360.65" y="588.60" width="10.5" height="71.00" fill="#fbb597"/>
<path d="M365.9,659.6v2.4" stroke="#9a9a9a" stroke-width="0.6"/>
<text x="365.90" y="671.12" font-size="7.0" text-anchor="middle" fill="#444" >T1</text>
<text x="365.90" y="583.04" font-size="7.9" text-anchor="middle" fill="#3a3a3a" >b</text>
<path d="M365.9,587.30V589.90 M364.5,587.30h2.8 M364.5,589.90h2.8" stroke="#555" stroke-width="0.4" fill="none"/>
<g fill="#505053" fill-opacity="0.68"><circle cx="366.9" cy="586.8" r="2.05"/><circle cx="362.2" cy="589.1" r="2.05"/><circle cx="369.3" cy="590.0" r="2.05"/></g>
<rect x="375.45" y="586.00" width="10.5" height="73.60" fill="#8f9fc7"/>
<path d="M380.7,659.6v2.4" stroke="#9a9a9a" stroke-width="0.6"/>
<text x="380.70" y="671.12" font-size="7.0" text-anchor="middle" fill="#444" >T2</text>
<text x="380.70" y="580.64" font-size="7.9" text-anchor="middle" fill="#3a3a3a" >c</text>
<path d="M380.7,584.70V587.30 M379.3,584.70h2.8 M379.3,587.30h2.8" stroke="#555" stroke-width="0.4" fill="none"/>
<g fill="#505053" fill-opacity="0.68"><circle cx="384.7" cy="585.2" r="2.05"/><circle cx="376.2" cy="586.1" r="2.05"/><circle cx="381.5" cy="584.3" r="2.05"/><circle cx="379.0" cy="583.5" r="2.05"/></g>
<rect x="390.25" y="591.80" width="10.5" height="67.80" fill="#87a97d"/>
<path d="M395.5,659.6v2.4" stroke="#9a9a9a" stroke-width="0.6"/>
<text x="395.50" y="671.12" font-size="7.0" text-anchor="middle" fill="#444" >T3</text>
<text x="395.50" y="586.24" font-size="7.9" text-anchor="middle" fill="#3a3a3a" >d</text>
<path d="M395.5,590.50V593.10 M394.1,590.50h2.8 M394.1,593.10h2.8" stroke="#555" stroke-width="0.4" fill="none"/>
<g fill="#505053" fill-opacity="0.68"><circle cx="399.3" cy="589.8" r="2.05"/><circle cx="396.8" cy="590.9" r="2.05"/><circle cx="391.5" cy="593.0" r="2.05"/><circle cx="393.8" cy="591.6" r="2.05"/></g>
<rect x="413.05" y="588.60" width="10.5" height="71.00" fill="#a8a8aa"/>
<path d="M418.3,659.6v2.4" stroke="#9a9a9a" stroke-width="0.6"/>
<text x="418.30" y="671.12" font-size="7.0" text-anchor="middle" fill="#444" >D</text>
<text x="418.30" y="583.04" font-size="7.9" text-anchor="middle" fill="#3a3a3a" >a</text>
<path d="M418.3,587.30V589.90 M416.90000000000003,587.30h2.8 M416.90000000000003,589.90h2.8" stroke="#555" stroke-width="0.4" fill="none"/>
<g fill="#505053" fill-opacity="0.68"><circle cx="422.3" cy="588.7" r="2.05"/><circle cx="414.1" cy="587.3" r="2.05"/><circle cx="419.6" cy="586.4" r="2.05"/></g>
<rect x="427.75" y="588.60" width="10.5" height="71.00" fill="#fbb597"/>
<path d="M433.0,659.6v2.4" stroke="#9a9a9a" stroke-width="0.6"/>
<text x="433.00" y="671.12" font-size="7.0" text-anchor="middle" fill="#444" >T1</text>
<text x="433.00" y="583.04" font-size="7.9" text-anchor="middle" fill="#3a3a3a" >a</text>
<path d="M433.0,587.30V589.90 M431.6,587.30h2.8 M431.6,589.90h2.8" stroke="#555" stroke-width="0.4" fill="none"/>
<g fill="#505053" fill-opacity="0.68"><circle cx="437.1" cy="588.0" r="2.05"/><circle cx="433.7" cy="589.6" r="2.05"/><circle cx="428.8" cy="588.8" r="2.05"/><circle cx="431.8" cy="589.8" r="2.05"/></g>
<rect x="442.75" y="590.70" width="10.5" height="68.90" fill="#8f9fc7"/>
<path d="M448.0,659.6v2.4" stroke="#9a9a9a" stroke-width="0.6"/>
<text x="448.00" y="671.12" font-size="7.0" text-anchor="middle" fill="#444" >T2</text>
<text x="448.00" y="585.04" font-size="7.9" text-anchor="middle" fill="#3a3a3a" >a</text>
<path d="M448.0,589.40V592.00 M446.6,589.40h2.8 M446.6,592.00h2.8" stroke="#555" stroke-width="0.4" fill="none"/>
<g fill="#505053" fill-opacity="0.68"><circle cx="443.3" cy="590.4" r="2.05"/><circle cx="446.1" cy="591.4" r="2.05"/><circle cx="449.6" cy="590.3" r="2.05"/><circle cx="451.4" cy="590.5" r="2.05"/></g>
<rect x="457.85" y="578.80" width="10.5" height="80.80" fill="#87a97d"/>
<path d="M463.1,659.6v2.4" stroke="#9a9a9a" stroke-width="0.6"/>
<text x="463.10" y="671.12" font-size="7.0" text-anchor="middle" fill="#444" >T3</text>
<text x="463.10" y="573.64" font-size="7.9" text-anchor="middle" fill="#3a3a3a" >b</text>
<path d="M463.1,577.50V580.10 M461.70000000000005,577.50h2.8 M461.70000000000005,580.10h2.8" stroke="#555" stroke-width="0.4" fill="none"/>
<g fill="#505053" fill-opacity="0.68"><circle cx="467.0" cy="579.7" r="2.05"/><circle cx="464.3" cy="577.9" r="2.05"/><circle cx="459.3" cy="577.1" r="2.05"/></g>
<rect x="480.25" y="598.60" width="10.5" height="61.00" fill="#a8a8aa"/>
<path d="M485.5,659.6v2.4" stroke="#9a9a9a" stroke-width="0.6"/>
<text x="485.50" y="671.12" font-size="7.0" text-anchor="middle" fill="#444" >D</text>
<text x="485.50" y="593.64" font-size="7.9" text-anchor="middle" fill="#3a3a3a" >a</text>
<path d="M485.5,597.30V599.90 M484.1,597.30h2.8 M484.1,599.90h2.8" stroke="#555" stroke-width="0.4" fill="none"/>
<g fill="#505053" fill-opacity="0.68"><circle cx="489.5" cy="598.6" r="2.05"/><circle cx="486.8" cy="597.1" r="2.05"/><circle cx="481.2" cy="596.3" r="2.05"/></g>
<rect x="495.05" y="597.60" width="10.5" height="62.00" fill="#fbb597"/>
<path d="M500.3,659.6v2.4" stroke="#9a9a9a" stroke-width="0.6"/>
<text x="500.30" y="671.12" font-size="7.0" text-anchor="middle" fill="#444" >T1</text>
<text x="500.30" y="593.64" font-size="7.9" text-anchor="middle" fill="#3a3a3a" >a</text>
<path d="M500.3,596.30V598.90 M498.90000000000003,596.30h2.8 M498.90000000000003,598.90h2.8" stroke="#555" stroke-width="0.4" fill="none"/>
<g fill="#505053" fill-opacity="0.68"><circle cx="503.7" cy="596.3" r="2.05"/><circle cx="501.4" cy="599.0" r="2.05"/><circle cx="499.2" cy="599.2" r="2.05"/><circle cx="496.6" cy="596.9" r="2.05"/></g>
<rect x="510.05" y="598.00" width="10.5" height="61.60" fill="#8f9fc7"/>
<path d="M515.3,659.6v2.4" stroke="#9a9a9a" stroke-width="0.6"/>
<text x="515.30" y="671.12" font-size="7.0" text-anchor="middle" fill="#444" >T2</text>
<text x="515.30" y="593.04" font-size="7.9" text-anchor="middle" fill="#3a3a3a" >a</text>
<path d="M515.3,596.70V599.30 M513.9,596.70h2.8 M513.9,599.30h2.8" stroke="#555" stroke-width="0.4" fill="none"/>
<g fill="#505053" fill-opacity="0.68"><circle cx="511.2" cy="598.4" r="2.05"/><circle cx="516.8" cy="596.0" r="2.05"/><circle cx="519.3" cy="598.9" r="2.05"/><circle cx="514.0" cy="597.1" r="2.05"/></g>
<rect x="524.95" y="596.20" width="10.5" height="63.40" fill="#87a97d"/>
<path d="M530.2,659.6v2.4" stroke="#9a9a9a" stroke-width="0.6"/>
<text x="530.20" y="671.12" font-size="7.0" text-anchor="middle" fill="#444" >T3</text>
<text x="530.20" y="593.04" font-size="7.9" text-anchor="middle" fill="#3a3a3a" >b</text>
<path d="M530.2,594.90V597.50 M528.8000000000001,594.90h2.8 M528.8000000000001,597.50h2.8" stroke="#555" stroke-width="0.4" fill="none"/>
<g fill="#505053" fill-opacity="0.68"><circle cx="528.9" cy="594.6" r="2.05"/><circle cx="534.2" cy="596.5" r="2.05"/><circle cx="531.9" cy="596.5" r="2.05"/></g>
<rect x="547.55" y="590.20" width="10.5" height="69.40" fill="#a8a8aa"/>
<path d="M552.8,659.6v2.4" stroke="#9a9a9a" stroke-width="0.6"/>
<text x="552.80" y="671.12" font-size="7.0" text-anchor="middle" fill="#444" >D</text>
<text x="552.80" y="584.04" font-size="7.9" text-anchor="middle" fill="#3a3a3a" >a</text>
<path d="M552.8,588.90V591.50 M551.4,588.90h2.8 M551.4,591.50h2.8" stroke="#555" stroke-width="0.4" fill="none"/>
<g fill="#505053" fill-opacity="0.68"><circle cx="553.8" cy="589.6" r="2.05"/><circle cx="551.3" cy="588.0" r="2.05"/><circle cx="549.0" cy="588.2" r="2.05"/><circle cx="556.4" cy="589.2" r="2.05"/></g>
<rect x="562.45" y="594.40" width="10.5" height="65.20" fill="#fbb597"/>
<path d="M567.7,659.6v2.4" stroke="#9a9a9a" stroke-width="0.6"/>
<text x="567.70" y="671.12" font-size="7.0" text-anchor="middle" fill="#444" >T1</text>
<text x="567.70" y="589.64" font-size="7.9" text-anchor="middle" fill="#3a3a3a" >b</text>
<path d="M567.7,593.10V595.70 M566.3000000000001,593.10h2.8 M566.3000000000001,595.70h2.8" stroke="#555" stroke-width="0.4" fill="none"/>
<g fill="#505053" fill-opacity="0.68"><circle cx="569.1" cy="592.7" r="2.05"/><circle cx="563.1" cy="593.0" r="2.05"/><circle cx="566.2" cy="594.2" r="2.05"/><circle cx="571.9" cy="592.6" r="2.05"/></g>
<rect x="577.15" y="593.90" width="10.5" height="65.70" fill="#8f9fc7"/>
<path d="M582.4,659.6v2.4" stroke="#9a9a9a" stroke-width="0.6"/>
<text x="582.40" y="671.12" font-size="7.0" text-anchor="middle" fill="#444" >T2</text>
<text x="582.40" y="588.44" font-size="7.9" text-anchor="middle" fill="#3a3a3a" >bc</text>
<path d="M582.4,592.60V595.20 M581.0,592.60h2.8 M581.0,595.20h2.8" stroke="#555" stroke-width="0.4" fill="none"/>
<g fill="#505053" fill-opacity="0.68"><circle cx="580.9" cy="594.2" r="2.05"/><circle cx="578.7" cy="591.7" r="2.05"/><circle cx="586.6" cy="593.6" r="2.05"/><circle cx="583.7" cy="592.5" r="2.05"/></g>
<rect x="592.05" y="592.30" width="10.5" height="67.30" fill="#87a97d"/>
<path d="M597.3,659.6v2.4" stroke="#9a9a9a" stroke-width="0.6"/>
<text x="597.30" y="671.12" font-size="7.0" text-anchor="middle" fill="#444" >T3</text>
<text x="597.30" y="587.04" font-size="7.9" text-anchor="middle" fill="#3a3a3a" >c</text>
<path d="M597.3,591.00V593.60 M595.9,591.00h2.8 M595.9,593.60h2.8" stroke="#555" stroke-width="0.4" fill="none"/>
<g fill="#505053" fill-opacity="0.68"><circle cx="595.9" cy="590.2" r="2.05"/><circle cx="598.1" cy="591.5" r="2.05"/><circle cx="593.4" cy="591.7" r="2.05"/><circle cx="601.2" cy="591.7" r="2.05"/></g>
<path d="M342.2,594.4H604" stroke="#555" stroke-width="0.6" stroke-dasharray="2.4 1.8" fill="none"/>
<text transform="translate(314.6 629.2) rotate(-90)" font-size="6.9" fill="#2b2b2b" textLength="34.5" lengthAdjust="spacingAndGlyphs">CAR/Chl <tspan font-style="italic">a</tspan></text>
<text x="473.80" y="683.28" font-size="6.9" text-anchor="middle" fill="#333333" textLength="27.5" lengthAdjust="spacingAndGlyphs" >Lineage</text>
</svg>
</body></html>
